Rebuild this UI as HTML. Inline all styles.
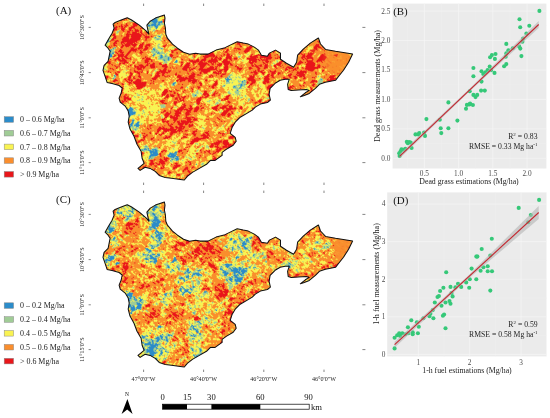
<!DOCTYPE html>
<html><head><meta charset="utf-8"><title>Figure</title>
<style>
html,body{margin:0;padding:0;background:#fff}
svg{display:block}
text{font-family:"Liberation Serif",serif;fill:#111}
.tk{font-size:6.1px;fill:#222}
.ax{font-size:7.3px;fill:#4d4d4d}
.ti{font-size:7.8px;fill:#222}
.lg{font-size:7.95px;fill:#222}
.pn{font-size:10.9px;fill:#111}
.an{font-size:7.7px;fill:#222}
.sb{font-size:8.6px;fill:#111}
</style></head><body>
<svg width="550" height="418" viewBox="0 0 550 418">
<rect width="550" height="418" fill="#fff"/>
<defs><clipPath id="cp"><path d="M113.1,24.1L115.1,22.5L121.2,20.1L127.2,17.7L131.2,19.7L139.3,25.1L146.3,31.1L148.9,34.2L147.7,29.1L146.9,25.1L150.3,21.1L155.4,18.1L161.4,16.0L164.4,15.0L165.0,18.1L164.4,23.1L165.4,28.1L165.8,34.2L167.4,38.2L172.5,44.2L177.5,48.2L183.5,52.3L189.6,54.3L195.6,53.3L200.0,54.1L208.0,54.1L216.1,50.1L224.1,48.1L232.2,44.1L237.2,41.7L243.3,43.1L248.3,44.1L254.3,47.1L258.4,50.1L261.4,55.2L267.4,56.2L269.4,53.1L275.5,50.1L280.5,53.1L280.5,59.2L286.5,63.2L293.6,67.2L296.6,62.2L297.6,55.2L303.3,49.1L310.3,43.1L318.4,38.0L320.5,44.0L325.5,49.4L335.5,51.3L352.6,54.1L348.6,62.2L343.5,70.2L339.5,75.3L335.5,80.3L325.4,82.3L319.4,84.3L315.4,88.4L309.3,93.4L304.3,95.4L300.3,96.8L305.3,92.8L309.3,90.4L306.3,89.4L298.3,90.0L291.2,90.4L288.2,89.4L287.6,84.3L289.2,79.3L285.2,79.3L280.2,80.3L275.1,83.3L270.1,88.4L269.1,94.4L270.4,100.1L267.4,102.5L260.4,104.1L255.3,107.1L252.3,110.1L247.3,113.1L240.2,117.2L235.2,122.2L232.2,127.2L230.2,133.3L235.2,137.3L236.2,141.3L233.2,145.3L226.2,149.4L222.1,152.4L222.1,155.4L215.1,160.4L210.5,160.3L206.5,164.3L199.4,168.4L192.4,172.4L187.3,176.4L184.3,180.0L180.3,179.4L173.3,178.4L165.2,177.4L159.2,175.4L155.2,171.4L150.1,168.4L145.1,167.3L140.1,170.4L138.0,168.4L144.1,163.3L142.1,158.3L141.1,151.2L137.0,144.2L134.0,136.2L130.0,129.1L128.2,122.2L129.2,116.2L128.2,111.1L125.2,106.1L120.2,102.1L119.1,98.1L121.2,93.0L122.2,88.0L119.1,85.5L112.1,83.5L107.1,82.4L105.1,76.4L103.0,70.4L104.1,65.3L108.1,61.3L109.1,56.3L110.1,51.3L108.1,48.2L105.1,45.2L109.1,38.2L112.1,33.2L114.1,28.1Z"/></clipPath></defs>
<defs><filter id="fa" filterUnits="userSpaceOnUse" x="-40" y="-160" width="520" height="520" color-interpolation-filters="sRGB"><feGaussianBlur in="SourceGraphic" stdDeviation="0.3" result="b"/><feTurbulence type="fractalNoise" baseFrequency="0.11 0.3" numOctaves="3" seed="5" result="n"/><feColorMatrix in="n" type="matrix" values="1 0 0 0 0 1 0 0 0 0 1 0 0 0 0 0 0 0 0 1" result="ng"/><feTurbulence type="fractalNoise" baseFrequency="0.35 0.6" numOctaves="2" seed="9" result="m"/><feColorMatrix in="m" type="matrix" values="0 1 0 0 0 0 1 0 0 0 0 1 0 0 0 0 0 0 0 1" result="mg"/><feComposite in="b" in2="ng" operator="arithmetic" k1="0" k2="1" k3="0.34" k4="-0.17" result="s"/><feComposite in="s" in2="mg" operator="arithmetic" k1="0" k2="1" k3="0.45" k4="-0.225" result="s2"/><feComponentTransfer in="s2"><feFuncR type="discrete" tableValues="0.169 0.169 0.169 0.169 0.169 0.169 0.627 0.627 0.627 0.627 0.627 0.627 0.976 0.976 0.976 0.976 0.976 0.976 0.976 0.976 0.980 0.980 0.980 0.980 0.980 0.980 0.980 0.980 0.914 0.914 0.914 0.914 0.914 0.914 0.914 0.914 0.914 0.914 0.914 0.914"/><feFuncG type="discrete" tableValues="0.549 0.549 0.549 0.549 0.549 0.549 0.800 0.800 0.800 0.800 0.800 0.800 0.953 0.953 0.953 0.953 0.953 0.953 0.953 0.953 0.557 0.557 0.557 0.557 0.557 0.557 0.557 0.557 0.086 0.086 0.086 0.086 0.086 0.086 0.086 0.086 0.086 0.086 0.086 0.086"/><feFuncB type="discrete" tableValues="0.792 0.792 0.792 0.792 0.792 0.792 0.588 0.588 0.588 0.588 0.588 0.588 0.322 0.322 0.322 0.322 0.322 0.322 0.322 0.322 0.176 0.176 0.176 0.176 0.176 0.176 0.176 0.176 0.102 0.102 0.102 0.102 0.102 0.102 0.102 0.102 0.102 0.102 0.102 0.102"/></feComponentTransfer><feGaussianBlur stdDeviation="0.5"/></filter><filter id="fc" filterUnits="userSpaceOnUse" x="-40" y="-160" width="520" height="520" color-interpolation-filters="sRGB"><feGaussianBlur in="SourceGraphic" stdDeviation="0.3" result="b"/><feTurbulence type="fractalNoise" baseFrequency="0.12 0.34" numOctaves="3" seed="17" result="n"/><feColorMatrix in="n" type="matrix" values="1 0 0 0 0 1 0 0 0 0 1 0 0 0 0 0 0 0 0 1" result="ng"/><feTurbulence type="fractalNoise" baseFrequency="0.35 0.6" numOctaves="2" seed="2" result="m"/><feColorMatrix in="m" type="matrix" values="0 1 0 0 0 0 1 0 0 0 0 1 0 0 0 0 0 0 0 1" result="mg"/><feComposite in="b" in2="ng" operator="arithmetic" k1="0" k2="1" k3="0.6" k4="-0.3" result="s"/><feComposite in="s" in2="mg" operator="arithmetic" k1="0" k2="1" k3="0.55" k4="-0.275" result="s2"/><feComponentTransfer in="s2"><feFuncR type="discrete" tableValues="0.169 0.169 0.169 0.169 0.169 0.169 0.169 0.627 0.627 0.627 0.627 0.627 0.976 0.976 0.976 0.976 0.976 0.976 0.976 0.980 0.980 0.980 0.980 0.980 0.980 0.980 0.980 0.980 0.980 0.914 0.914 0.914 0.914 0.914 0.914 0.914 0.914 0.914 0.914 0.914"/><feFuncG type="discrete" tableValues="0.549 0.549 0.549 0.549 0.549 0.549 0.549 0.800 0.800 0.800 0.800 0.800 0.953 0.953 0.953 0.953 0.953 0.953 0.953 0.557 0.557 0.557 0.557 0.557 0.557 0.557 0.557 0.557 0.557 0.086 0.086 0.086 0.086 0.086 0.086 0.086 0.086 0.086 0.086 0.086"/><feFuncB type="discrete" tableValues="0.792 0.792 0.792 0.792 0.792 0.792 0.792 0.588 0.588 0.588 0.588 0.588 0.322 0.322 0.322 0.322 0.322 0.322 0.322 0.176 0.176 0.176 0.176 0.176 0.176 0.176 0.176 0.176 0.176 0.102 0.102 0.102 0.102 0.102 0.102 0.102 0.102 0.102 0.102 0.102"/></feComponentTransfer><feGaussianBlur stdDeviation="0.5"/></filter><filter id="bl"><feGaussianBlur stdDeviation="1.2"/></filter></defs>
<g transform="translate(0,0)"><g clip-path="url(#cp)"><g transform="rotate(40 225 100)" filter="url(#fa)"><g transform="rotate(-40 225 100)"><rect x="60" y="-20" width="340" height="240" fill="#939393"/><path fill="#030303" stroke="#030303" stroke-width=".4" d="M149.0,20.8L149.0,19.5L153.1,19.4L153.4,22.0L150.1,22.4ZM153.4,22.0L153.5,22.1L156.2,20.4L156.7,8.7L153.1,19.4ZM170.0,157.7L172.2,155.3L173.3,152.9L170.0,152.0L166.3,156.3L168.8,158.0ZM-52.1,82.4L-39.5,56.2L83.1,37.6L97.4,36.0L107.2,40.1L103.0,43.4ZM134.3,108.5L134.2,108.8L132.8,110.9L118.9,118.6L126.3,109.5L127.0,109.0L131.8,106.2ZM179.0,155.8L179.5,159.9L178.9,160.2L176.8,161.3L175.9,161.2L175.5,160.5L176.3,156.5L176.6,156.2ZM110.9,53.9L104.9,61.7L105.1,61.7L110.5,58.5L112.6,56.9L112.8,56.0ZM176.6,156.2L176.3,156.5L175.0,157.3L170.2,158.3L170.0,157.7L172.2,155.3L176.9,154.8L177.0,154.8ZM106.4,34.7L108.7,39.3L107.2,40.1L97.4,36.0ZM149.0,19.5L146.7,11.9L146.7,11.7L156.8,-5.9L160.1,-11.0L156.7,8.7L153.1,19.4ZM136.4,111.4L135.4,114.9L134.0,115.3L132.3,115.4L133.3,111.4L136.1,111.3ZM132.8,110.9L133.3,111.4L132.3,115.4L126.1,119.5L113.3,123.8L118.9,118.6ZM105.0,43.6L108.9,40.0L108.8,39.3L108.7,39.3L107.2,40.1L103.0,43.4ZM156.5,25.7L158.3,24.0L160.4,24.0L158.4,26.6L155.5,26.7ZM172.2,155.3L173.3,152.9L175.8,150.9L178.3,150.6L176.9,154.8ZM158.8,155.5L158.4,155.8L156.2,156.6L149.1,156.8L150.2,154.4L157.2,151.3L159.0,153.8ZM110.8,53.3L110.9,53.9L104.9,61.7L93.9,62.1ZM238.2,89.5L241.2,84.0L243.0,83.8L242.8,86.4L239.6,89.4Z"/><path fill="#0a0a0a" stroke="#0a0a0a" stroke-width=".4" d="M105.7,44.2L109.8,41.3L109.8,41.3L108.9,40.0L105.0,43.6ZM139.4,123.7L135.2,125.8L135.7,128.1L139.6,126.0L139.6,126.0ZM157.3,21.7L157.9,20.4L157.6,20.0L156.2,20.4L153.5,22.1L151.4,25.7L154.6,26.6ZM140.4,122.1L139.4,120.9L138.2,120.9L137.6,121.4L133.0,125.5L132.8,125.7L135.2,125.8L139.4,123.7Z"/><path fill="#101010" stroke="#101010" stroke-width=".4" d="M134.7,120.2L133.0,125.5L132.8,125.7L127.4,129.3L131.6,120.8L131.7,120.6L134.8,118.8ZM230.7,79.6L228.5,78.6L226.3,79.4L226.1,79.8L228.3,81.6L228.4,81.6ZM110.8,53.3L110.8,53.3L93.9,62.1L91.0,62.6L97.5,57.0L106.4,51.9L111.0,52.7ZM178.2,62.7L172.5,63.7L176.6,58.7L179.0,61.8Z"/><path fill="#161616" stroke="#161616" stroke-width=".4" d="M158.3,24.0L160.4,24.0L163.0,22.3L162.7,20.4L159.0,20.9ZM157.3,21.7L156.5,25.7L155.5,26.7L154.9,27.0L154.6,26.6ZM110.8,53.3L114.8,51.1L115.1,52.4L112.8,56.0L110.9,53.9L110.8,53.3ZM111.0,52.7L112.6,48.1L106.4,51.9ZM230.3,77.0L228.5,78.6L226.3,79.4L226.5,77.9L230.2,73.3L231.2,74.4Z"/><path fill="#1d1d1d" stroke="#1d1d1d" stroke-width=".4" d="M170.2,158.3L175.0,157.3L171.9,160.7L169.7,161.8ZM175.0,157.3L171.9,160.7L175.5,160.5L176.3,156.5ZM150.2,154.4L148.8,150.8L149.5,149.7L152.4,148.1L156.3,146.8L159.0,148.5L157.2,151.3Z"/><path fill="#232323" stroke="#232323" stroke-width=".4" d="M148.5,160.0L147.3,159.6L149.1,156.8L156.2,156.6L152.3,159.6ZM242.7,97.8L242.9,98.0L240.6,99.7L238.5,100.1L238.8,99.6ZM138.6,149.3L138.1,149.8L145.2,152.8L148.8,150.8L149.5,149.7L149.6,149.0L148.9,147.6L138.7,149.2ZM166.5,59.3L167.6,57.9L167.8,62.2L166.9,64.1L164.6,63.7Z"/><path fill="#292929" stroke="#292929" stroke-width=".4" d="M154.9,27.0L152.3,31.2L153.2,32.2L155.7,30.9L158.4,27.3L158.4,26.6L155.5,26.7Z"/><path fill="#303030" stroke="#303030" stroke-width=".4" d="M150.6,58.4L155.9,55.6L156.0,55.5L155.9,55.1L153.1,53.8L152.7,54.1ZM115.5,78.7L117.0,76.9L116.9,76.5L114.8,73.2L111.9,79.0L112.0,80.2L113.3,80.2ZM246.2,85.1L245.9,85.7L242.8,86.4L243.0,83.8L246.5,80.5L247.0,81.3ZM289.6,72.6L289.3,72.6L286.9,73.9L284.4,76.6L285.5,76.3L289.2,73.7ZM234.2,91.8L235.6,94.8L236.9,94.6L239.8,91.9L240.1,90.8L239.6,89.4L238.2,89.5L235.7,90.2ZM162.2,59.7L162.7,55.2L158.4,58.0L156.5,60.7L158.0,60.9ZM147.9,27.9L150.1,26.8L150.1,31.6L148.3,32.7L145.5,30.9L145.7,30.5ZM176.0,81.4L174.8,81.0L171.9,83.2L170.3,86.6L175.3,85.8L175.8,85.3L176.0,85.1L176.8,81.7ZM160.0,51.0L162.8,50.4L163.3,51.7L159.3,54.0L158.7,53.6ZM150.3,53.6L150.6,52.6L155.6,49.3L155.3,51.8L153.1,53.8L152.7,54.1ZM228.3,81.6L226.1,79.8L225.6,80.2L224.5,83.7Z"/><path fill="#363636" stroke="#363636" stroke-width=".4" d="M158.2,57.7L158.4,58.0L162.7,55.2L164.8,53.3L163.3,51.7L159.3,54.0ZM172.9,58.1L169.3,56.0L167.6,57.9L167.6,57.9L167.8,62.2ZM255.6,104.6L254.6,105.9L256.0,105.8L258.2,103.9L257.3,103.4ZM161.6,61.4L162.5,60.0L167.6,57.9L167.6,57.9L166.5,59.3L163.0,62.6ZM157.6,20.0L156.2,20.4L156.7,8.7L160.1,-11.0L174.0,-35.0L175.3,-37.2L183.1,-50.0L159.9,17.5ZM159.6,50.9L157.8,51.5L155.9,55.1L156.0,55.5L158.7,53.6L160.0,51.0ZM152.5,48.1L150.8,51.0L150.6,52.6L155.6,49.3L157.0,46.4L156.4,45.6L153.2,47.4ZM239.6,83.6L241.2,84.0L243.0,83.8L246.5,80.5L246.9,79.6L242.3,80.1L240.4,82.2ZM147.9,27.9L150.1,26.8L151.4,25.7L153.5,22.1L153.4,22.0L150.1,22.4L146.6,25.4L146.8,27.1ZM235.7,90.2L235.8,89.5L238.7,84.3L239.6,83.6L241.2,84.0L238.2,89.5Z"/><path fill="#3d3d3d" stroke="#3d3d3d" stroke-width=".4" d="M238.7,84.3L235.8,89.5L233.0,87.2L235.4,84.7ZM192.0,94.2L192.8,93.2L193.7,92.4L198.1,89.7L199.1,93.2L196.9,97.0L194.4,97.8L193.2,97.9ZM200.6,163.4L206.2,161.2L205.8,163.1L201.2,166.5L199.9,164.1ZM159.6,50.9L161.3,47.3L160.5,46.4L160.1,46.3L160.0,46.4L157.0,51.3L157.8,51.5ZM138.7,149.2L148.9,147.6L148.0,142.9L140.3,147.5ZM139.6,126.0L135.7,128.1L134.3,130.2L135.4,131.8L137.0,131.2L139.3,128.8ZM161.7,64.9L162.0,65.0L164.6,63.7L166.5,59.3L163.0,62.6ZM165.5,23.1L163.0,22.3L160.4,24.0L158.4,26.6L158.4,27.3L159.4,27.2ZM242.7,97.8L238.8,99.6L239.8,97.1L240.7,95.8L240.9,95.6L241.8,96.2Z"/><path fill="#434343" stroke="#434343" stroke-width=".4" d="M132.1,97.0L135.4,94.3L134.9,97.3L133.4,98.1ZM201.0,145.8L197.4,148.7L195.4,152.5L196.2,152.7L197.5,152.1L201.0,149.1L205.1,145.2L206.1,143.5L206.2,142.4ZM242.7,97.8L242.9,98.0L244.0,98.1L245.9,97.5L246.9,94.5L241.8,96.2ZM193.8,57.4L194.1,57.7L192.0,59.5L190.3,58.3L192.4,56.9ZM118.8,33.5L121.0,29.3L120.7,28.7L116.3,31.0L115.9,35.6L115.9,35.6ZM141.4,121.5L143.7,123.7L139.6,126.0L139.4,123.7L140.4,122.1ZM162.5,60.0L167.6,57.9L169.3,56.0L170.9,51.7L168.1,51.9L164.8,53.3L162.7,55.2L162.2,59.7ZM321.2,76.9L317.3,80.7L317.2,81.0L316.6,84.7L323.0,84.4L323.4,83.5L323.2,79.4L321.4,76.9ZM135.7,128.1L134.3,130.2L123.8,132.7L127.4,129.3L132.8,125.7L135.2,125.8ZM135.4,21.5L146.7,11.7L156.8,-5.9L128.3,21.8L131.9,22.3L134.0,22.2L134.4,22.1ZM231.9,80.4L232.8,78.8L232.0,78.9L230.7,79.6L228.4,81.6L227.9,83.7L229.2,83.4ZM230.3,77.0L228.5,78.6L230.7,79.6L232.0,78.9L232.0,78.4ZM159.9,108.6L159.4,108.5L158.9,106.3L159.7,104.5L160.2,104.3L165.2,103.9L165.9,107.6L165.2,108.0ZM108.9,40.0L108.8,39.3L112.1,36.3L114.1,36.2L109.8,41.3ZM155.3,51.8L157.0,51.3L160.0,46.4L157.0,46.4L155.6,49.3ZM228.4,81.6L228.3,81.6L224.5,83.7L222.1,86.6L222.0,87.5L224.3,87.8L227.9,83.7ZM145.3,25.1L141.5,26.0L144.1,17.7L146.7,11.9L149.0,19.5L149.0,20.8ZM231.9,80.4L230.7,83.6L229.2,83.4ZM159.8,33.4L154.3,36.7L153.4,41.4L159.4,40.2L160.7,39.0L163.8,35.8L161.8,33.5ZM157.8,51.5L157.0,51.3L155.3,51.8L153.1,53.8L155.9,55.1ZM110.8,53.3L114.8,51.1L117.0,46.9L116.6,46.8L114.8,47.1L113.4,47.5L112.7,48.0L112.6,48.1L111.0,52.7ZM154.6,26.6L151.4,25.7L150.1,26.8L150.1,31.6L152.3,31.2L154.9,27.0ZM157.3,21.7L157.9,20.4L159.0,20.9L158.3,24.0L156.5,25.7Z"/><path fill="#494949" stroke="#494949" stroke-width=".4" d="M213.1,107.1L219.4,104.0L220.3,103.0L221.2,101.0L221.4,99.7L219.3,98.2L216.2,101.3ZM157.4,111.9L159.4,108.5L159.9,108.6L160.7,112.6L159.9,113.6L158.8,114.5L158.1,114.7ZM241.1,76.0L237.9,79.6L237.8,80.8L240.4,82.2L242.3,80.1L242.4,79.7ZM280.9,85.9L282.3,84.9L283.6,84.3L291.7,81.3L286.0,88.4L278.4,93.2L279.1,89.1L280.3,86.9ZM145.4,112.7L145.4,112.3L142.2,110.0L140.6,111.0L137.2,115.7L137.2,116.2L138.8,116.3L144.8,114.1ZM159.6,50.9L161.3,47.3L163.1,46.9L164.5,47.8L162.8,50.4L160.0,51.0ZM230.3,77.0L231.2,74.4L233.1,74.6L232.0,78.4ZM230.5,94.5L227.4,95.4L226.9,92.5L229.2,89.0L230.2,88.8L231.4,93.6ZM142.8,101.3L142.6,101.5L137.2,100.6L137.8,99.8L143.7,97.5L143.7,97.6ZM248.4,103.2L248.5,103.2L250.6,99.2L250.6,97.5L249.8,97.3L247.1,98.4L245.1,101.2ZM160.1,46.3L162.5,43.2L160.7,39.0L159.4,40.2L156.4,45.6L157.0,46.4L160.0,46.4ZM231.2,74.4L230.2,73.3L230.3,73.0L233.3,71.4L235.4,73.3L235.1,73.7L233.1,74.6ZM227.7,129.1L223.7,133.3L226.5,133.3L227.4,131.4ZM271.7,119.8L269.8,123.3L269.1,125.2L270.1,135.9L271.3,142.2L301.5,237.5L304.8,208.5L305.4,95.6L288.6,102.8ZM240.5,102.0L238.4,104.0L236.7,106.6L239.2,105.9L242.4,102.3Z"/><path fill="#505050" stroke="#505050" stroke-width=".4" d="M239.6,89.4L242.8,86.4L245.9,85.7L246.6,86.9L244.4,88.8L240.1,90.8ZM260.4,103.2L260.6,103.5L273.4,97.0L267.2,96.8L262.6,99.3ZM246.2,85.1L245.9,85.7L246.6,86.9L248.2,87.1L251.5,80.9L250.5,81.3ZM158.7,53.6L159.3,54.0L158.2,57.7L156.1,56.4L155.9,55.6L156.0,55.5ZM184.1,89.2L186.5,86.0L187.0,85.6L187.8,85.2L188.7,88.6L186.6,89.8ZM105.7,44.2L109.8,41.3L109.9,41.4L109.6,44.6L108.4,45.9L105.2,48.2ZM135.4,94.3L134.9,97.3L135.5,97.4L138.9,96.9L139.3,96.3L137.0,92.4ZM136.1,111.3L133.3,111.4L132.8,110.9L134.2,108.8L137.9,107.7ZM237.7,57.1L237.6,59.5L238.1,59.7L238.9,59.3L243.3,54.9L243.3,54.7L242.5,53.3L239.2,55.0ZM141.5,133.5L139.6,134.6L138.8,135.5L138.2,139.5L138.6,140.2L141.2,139.3L141.7,138.7ZM152.6,110.6L153.5,110.9L148.3,115.4L146.3,116.0L145.5,114.7ZM145.4,112.3L142.2,110.0L143.7,108.1L145.4,107.8L146.3,110.4ZM231.9,80.4L232.8,78.8L233.4,78.6L234.6,81.1L233.2,82.9L233.1,82.9L231.1,84.0L230.7,83.6ZM148.5,99.5L144.2,103.6L142.2,104.4L142.0,103.9L142.7,101.9L144.9,100.5ZM196.1,161.2L194.9,165.5L197.2,164.7L198.7,161.1L197.6,160.8Z"/><path fill="#565656" stroke="#565656" stroke-width=".4" d="M209.4,146.9L209.5,145.8L206.1,143.5L205.1,145.2L203.8,151.0L203.8,151.5L206.0,149.8ZM145.3,25.1L149.0,20.8L150.1,22.4L146.6,25.4ZM263.9,79.6L259.9,80.7L261.5,83.4L262.1,83.0L263.9,80.8ZM241.2,75.9L241.0,75.5L233.7,78.3L233.4,78.6L234.6,81.1L237.9,79.6L241.1,76.0ZM208.9,92.0L208.2,92.6L209.4,95.8L212.1,94.7L212.3,94.4L210.3,91.9ZM271.0,65.8L273.2,61.0L277.2,59.0L281.7,60.4L273.1,66.1ZM195.1,107.4L192.3,107.7L191.9,107.6L192.3,105.3L196.1,101.3L197.5,105.2L196.6,106.5ZM129.6,75.0L127.9,72.0L127.3,72.3L123.1,79.5L128.7,76.5ZM129.9,137.7L138.2,133.0L137.0,131.2L135.4,131.8ZM157.1,67.3L157.6,71.0L156.1,72.4L151.5,73.7L151.3,73.6ZM129.9,90.4L126.6,93.4L129.7,95.1L132.9,92.1L130.4,90.2ZM246.7,57.5L244.8,57.3L245.4,55.5L249.1,52.3L249.9,52.7ZM226.2,48.2L223.1,52.2L221.7,54.5L222.1,54.5L228.0,47.8L226.4,48.0ZM237.7,57.1L235.8,56.8L235.5,54.4L235.6,54.0L238.3,51.4L239.0,52.5L239.3,53.2L239.2,55.0ZM229.2,83.4L227.9,83.7L224.3,87.8L224.3,87.9L224.4,88.0L226.3,88.6L227.8,88.3L231.1,84.0L230.7,83.6ZM158.7,135.4L159.3,134.2L158.1,133.3L155.7,135.0L155.7,135.2L156.4,137.2ZM171.5,111.2L175.6,108.1L175.2,107.0L172.7,107.5ZM147.9,95.9L147.6,94.6L147.3,94.5L145.7,95.0L143.7,97.5L143.7,97.6L145.9,98.1L146.9,97.4ZM136.4,111.4L137.9,110.4L140.1,106.5L137.9,107.7L136.1,111.3ZM221.5,78.5L226.5,77.9L226.3,79.4L226.1,79.8L225.6,80.2L222.0,82.2ZM213.1,89.8L215.0,90.2L215.0,91.2L212.3,94.4L210.3,91.9ZM106.1,68.4L104.6,65.9L105.5,63.2L109.2,64.0L107.0,68.0ZM183.8,176.2L182.1,178.4L179.6,179.1L179.5,178.6L180.9,175.7L183.9,175.9ZM232.0,78.4L232.0,78.9L232.8,78.8L233.4,78.6L233.7,78.3L235.4,75.8L235.1,73.7L233.1,74.6ZM146.9,98.6L144.9,100.5L142.7,101.9L142.6,101.5L142.8,101.3L145.9,98.1L146.9,97.4ZM194.7,57.5L194.5,59.1L195.4,60.6L198.8,57.7L199.3,56.8L197.9,55.8L197.1,55.7Z"/><path fill="#5c5c5c" stroke="#5c5c5c" stroke-width=".4" d="M239.6,83.6L240.4,82.2L237.8,80.8L235.4,84.5L235.4,84.7L238.7,84.3ZM152.2,92.2L152.8,91.2L152.7,90.4L152.6,90.3L149.4,90.8L147.3,94.5L147.6,94.6ZM204.4,91.5L201.0,92.0L199.1,93.2L196.9,97.0L198.1,98.4L198.4,98.4L202.9,94.8ZM224.3,126.8L227.8,122.5L225.5,121.7L221.7,126.0L223.1,127.8ZM222.1,86.6L220.2,84.8L222.0,82.2L225.6,80.2L224.5,83.7ZM160.8,151.7L163.3,148.6L163.8,147.0L161.1,146.8L159.0,148.5L157.2,151.3L159.0,153.8ZM151.5,73.7L156.1,72.4L154.3,76.4L151.2,78.3ZM242.6,107.7L242.1,109.1L242.6,109.7L248.2,106.1L249.0,104.4L248.8,104.1L243.8,106.5ZM192.9,143.7L196.9,142.0L194.7,146.9L189.0,152.7L187.0,153.2L190.9,145.6ZM234.2,91.8L231.4,93.6L230.5,94.5L230.5,94.6L231.5,97.2L232.7,97.6L235.6,94.8ZM151.8,167.8L151.3,174.5L151.1,175.0L141.9,184.6L114.1,212.6L137.2,179.5L145.0,170.6L148.5,167.4ZM258.4,86.9L258.2,86.4L255.7,87.7L252.9,92.1L255.5,91.3L258.1,88.3ZM161.6,61.4L162.5,60.0L162.2,59.7L158.0,60.9L159.7,62.8L161.0,61.9ZM183.7,134.5L180.9,139.2L178.9,139.7L177.5,138.6L182.6,133.6ZM197.9,55.8L199.3,56.8L199.6,56.6L208.8,45.8L202.9,51.1ZM160.4,118.7L161.1,120.5L164.5,118.0L164.8,115.0L164.6,114.8L164.1,114.7L161.5,116.5ZM223.1,127.8L223.0,129.2L222.4,130.2L212.4,136.7L211.9,136.7L220.1,126.4L221.5,126.0L221.7,126.0ZM257.4,92.3L257.9,91.8L260.1,91.1L260.3,92.6L260.3,92.6L258.5,94.3L256.0,94.9ZM172.7,172.2L176.0,173.1L175.8,174.5L169.6,179.2L170.6,174.5ZM217.2,126.1L212.2,131.9L212.4,127.9L216.6,125.5L217.0,125.5ZM206.6,101.6L212.8,97.5L213.9,97.7L213.1,99.1L209.0,104.8ZM150.0,88.9L146.8,89.9L145.3,91.4L145.1,92.0L149.4,90.8ZM194.2,160.1L196.1,156.9L196.2,152.7L195.4,152.5L193.6,153.3L188.5,160.8L190.4,160.9ZM178.9,139.7L176.3,143.5L175.4,144.3L173.7,143.5L176.8,138.7L177.5,138.6ZM245.8,115.3L242.4,114.1L248.6,107.7L251.4,108.2L251.2,109.0ZM235.4,84.5L233.2,82.9L233.1,82.9L231.6,87.8L233.0,87.2L235.4,84.7Z"/><path fill="#636363" stroke="#636363" stroke-width=".4" d="M314.5,79.2L317.3,80.7L321.2,76.9L321.3,74.5L320.8,73.8L318.8,74.4ZM150.2,58.9L152.7,59.6L156.1,56.4L155.9,55.6L150.6,58.4ZM255.4,79.3L261.5,74.0L262.0,74.8L261.8,75.3L260.0,77.7ZM233.1,82.9L231.1,84.0L227.8,88.3L229.2,89.0L230.2,88.8L231.6,87.8ZM151.6,108.2L153.1,105.8L152.3,105.0L149.5,106.2L146.3,110.4L145.4,112.3L145.4,112.7ZM269.7,52.4L274.2,36.3L265.3,47.4L263.6,50.3L266.2,55.1ZM247.3,67.2L244.1,68.1L243.6,70.6L247.7,68.7ZM245.0,104.4L243.8,106.5L248.8,104.1L248.5,103.2L248.4,103.2ZM198.5,144.9L197.2,148.2L194.7,146.9L196.9,142.0L198.4,140.8ZM143.7,108.1L145.4,107.8L148.4,105.8L148.3,104.7L147.1,104.0L143.7,108.0ZM108.8,39.3L108.7,39.3L106.4,34.7L109.5,33.7L112.0,35.9L112.1,36.3ZM207.1,79.0L207.7,78.1L211.3,77.2L212.4,77.7L209.3,81.0L207.6,80.6ZM165.9,23.9L160.4,29.2L159.4,27.2L165.5,23.1L166.5,23.0ZM136.4,111.4L135.4,114.9L137.2,115.7L140.6,111.0L140.1,110.5L137.9,110.4ZM103.2,72.7L107.4,69.8L108.2,68.5L107.0,68.0L106.1,68.4L103.7,70.2ZM197.4,53.9L202.9,51.1L197.9,55.8L197.1,55.7ZM240.7,95.8L236.9,96.5L236.9,94.6L239.8,91.9L242.0,93.3L242.2,93.8L240.9,95.6ZM145.7,30.5L145.5,30.9L142.1,33.4L141.6,29.6L143.5,28.8ZM279.3,53.4L278.6,53.9L278.4,56.8L284.4,52.8ZM151.9,119.3L154.5,118.4L154.1,120.0L152.4,121.1L152.0,121.0ZM189.7,130.9L190.5,132.2L188.8,133.9L186.5,133.0L186.6,132.9L188.8,131.2ZM169.5,162.1L169.2,163.5L171.4,164.2L175.9,161.2L175.5,160.5L171.9,160.7L169.7,161.8ZM253.5,104.0L251.6,107.9L251.4,108.2L248.6,107.7L248.2,106.1L249.0,104.4L251.6,103.0ZM185.8,95.2L181.8,97.2L182.1,95.4L182.9,94.0L184.3,93.2L185.9,94.2ZM234.0,141.2L229.6,144.9L229.6,145.0L229.6,144.3L231.5,139.5L233.8,140.2ZM149.0,70.7L149.6,69.1L153.3,68.3L150.8,73.6L147.9,74.8ZM193.7,135.8L193.2,139.0L196.4,137.5ZM249.0,61.8L249.2,61.2L249.4,59.8L246.8,59.2L243.3,61.8L242.6,63.8L244.7,65.0L247.5,63.3ZM204.4,102.7L205.1,102.1L206.6,101.6L209.0,104.8L208.4,106.5L207.2,106.6L204.3,103.3ZM151.8,109.9L145.4,114.6L145.5,114.7L152.6,110.6ZM158.1,92.0L158.9,94.6L159.0,94.7L162.6,92.6L164.9,89.5L163.8,88.4ZM133.7,59.5L131.4,64.2L128.1,65.7L132.6,59.5ZM200.7,127.4L202.7,128.3L206.7,125.7L206.8,125.4L202.9,125.5L201.6,126.2ZM169.7,110.5L167.8,108.2L169.4,107.7L171.0,108.0ZM170.0,152.0L170.6,149.3L173.5,147.5L176.2,147.6L175.8,150.9L173.3,152.9ZM186.9,143.2L186.6,144.2L190.7,143.0L190.6,141.4L186.9,143.1ZM120.2,62.1L119.8,62.5L115.8,65.2L116.0,64.8L119.2,60.6ZM260.0,77.7L261.1,78.6L261.5,78.3L261.8,75.3ZM152.0,121.0L152.4,121.1L149.8,124.4L148.2,125.1L149.1,121.7L151.1,121.0ZM151.4,87.0L150.0,88.9L146.8,89.9L147.4,87.0L151.4,87.0ZM180.5,165.7L175.5,168.4L176.4,172.6L178.8,169.6ZM134.7,120.2L133.0,125.5L137.6,121.4ZM109.5,83.3L106.3,82.9L100.7,84.4L33.5,135.3L-78.8,225.2L-49.6,227.5L89.8,113.6L104.0,97.8ZM246.7,57.5L244.8,57.3L242.5,59.1L242.5,61.4L243.3,61.8L246.8,59.2L246.9,57.8ZM175.4,79.6L174.8,81.0L176.0,81.4L178.9,78.2L176.5,78.1ZM151.3,99.2L147.1,103.7L147.1,104.0L148.3,104.7L153.8,99.3L153.2,98.8ZM136.9,60.7L131.9,65.2L131.8,68.2L137.7,61.9ZM172.4,140.4L176.0,138.5L176.8,138.7L173.7,143.5L169.7,145.1L170.9,141.4ZM246.7,57.5L249.9,52.7L251.8,52.5L251.8,54.3L246.9,57.8ZM263.6,50.3L265.3,47.4L258.5,50.3L255.3,52.8L253.1,55.5L254.7,55.4L259.4,54.5L260.0,54.1L260.6,53.6ZM240.6,99.7L238.5,100.1L237.6,101.1L240.3,101.4ZM234.2,91.8L231.4,93.6L230.2,88.8L231.6,87.8L233.0,87.2L235.8,89.5L235.7,90.2ZM168.1,51.9L168.3,47.3L171.6,45.1L176.7,47.1L176.0,47.9L170.9,51.7ZM208.7,107.0L208.6,107.5L212.5,107.6L213.1,107.1L216.2,101.3L212.8,103.5ZM164.4,173.1L140.0,212.6L131.3,223.5L92.2,270.5L160.8,174.9ZM163.3,139.6L166.4,140.8L168.7,140.2L169.2,138.4L169.2,138.3L168.0,137.9ZM160.1,100.8L159.8,98.7L161.5,96.7L165.8,94.7L165.8,94.7L165.4,97.1ZM200.7,127.4L197.5,129.8L197.5,129.9L201.0,130.1L202.7,128.3ZM215.9,112.5L215.9,112.6L220.9,114.0L223.1,111.3L222.9,109.8L221.2,108.7L216.8,111.2L216.0,112.4ZM151.8,109.9L151.6,108.2L145.4,112.7L144.8,114.1L144.9,114.3L145.4,114.6ZM220.3,103.0L223.4,104.8L227.4,101.3L226.9,100.1L221.2,101.0ZM301.8,66.9L305.2,68.3L305.7,66.6L304.3,63.9L301.9,66.1ZM173.4,58.2L167.5,66.5L166.9,64.1L167.8,62.2L172.9,58.1L173.2,58.2ZM254.9,98.8L255.8,100.7L256.7,100.8L257.8,97.3L255.6,98.1ZM137.2,116.2L134.8,118.8L131.7,120.6L130.3,119.9L134.0,115.3L135.4,114.9L137.2,115.7ZM151.8,109.9L151.6,108.2L153.1,105.8L159.3,104.0L159.7,104.5L158.9,106.3L153.8,110.8L153.5,110.9L152.6,110.6ZM292.7,78.8L289.3,78.0L282.3,84.9L283.6,84.3Z"/><path fill="#696969" stroke="#696969" stroke-width=".4" d="M161.5,116.5L164.1,114.7L164.1,113.3L159.9,113.6L158.8,114.5L158.9,116.1ZM224.0,49.7L223.5,50.5L220.4,53.1L219.4,52.3L219.4,52.1L220.6,51.0ZM148.5,43.2L149.1,41.2L153.1,36.7L154.3,36.7L153.4,41.4L150.6,43.7ZM260.8,98.3L263.4,93.7L262.1,94.0L259.0,95.9L258.0,97.2ZM219.7,67.6L220.0,67.0L223.2,63.9L224.7,65.1L224.0,68.1L223.7,68.4L222.5,69.1L220.0,70.0ZM138.9,96.9L137.8,99.8L143.7,97.5L145.7,95.0L143.6,93.8L141.2,94.8L139.3,96.3ZM207.9,77.2L211.5,74.1L213.3,71.4L212.8,70.3L211.4,70.1L206.5,73.8L206.3,75.8ZM176.6,107.9L180.8,101.8L181.6,101.4L183.5,101.0L184.1,101.2L180.8,106.3L177.8,108.9ZM230.6,126.0L229.0,124.0L229.8,121.7L231.5,120.0L232.0,124.8L230.9,125.9ZM103.7,70.2L100.0,70.9L104.6,65.9L106.1,68.4ZM105.4,80.0L100.7,84.4L106.3,82.9L111.8,80.3L112.0,80.2L111.9,79.0ZM134.4,48.1L138.6,47.2L140.6,43.7L138.7,43.0ZM202.7,80.3L200.8,81.6L200.2,81.6L200.4,81.0L204.4,74.1L206.5,73.8L206.3,75.8ZM132.1,100.3L132.1,100.3L132.7,100.7L135.5,97.4L134.9,97.3L133.4,98.1ZM240.1,90.8L244.4,88.8L242.0,93.3L239.8,91.9ZM132.1,97.0L135.4,94.3L137.0,92.4L138.2,89.2L137.9,89.0L132.9,92.1L129.7,95.1L128.4,97.6L131.9,97.1ZM170.7,96.2L172.5,97.4L172.0,101.3L170.1,101.3L168.4,98.4L168.4,97.7L169.2,97.0ZM147.6,49.3L148.0,49.6L147.1,52.2L146.2,52.9L145.9,50.2ZM217.0,155.1L216.9,155.5L224.2,154.1L225.1,148.1L224.1,148.0L217.6,153.4ZM167.2,165.7L164.3,166.0L164.0,168.8L166.9,166.4ZM180.4,61.2L179.0,61.8L176.6,58.7L176.8,57.6L177.2,57.3L179.7,57.1L181.9,59.7L181.0,60.8ZM118.3,21.4L124.8,6.8L166.7,-130.8L21.6,-86.8L-26.4,26.8L-7.9,26.4ZM197.2,164.7L194.9,165.5L193.5,166.8L195.6,167.7L196.9,167.6L198.3,165.2ZM274.2,36.3L265.3,47.4L258.5,50.3L254.7,50.6L254.1,50.5L263.3,33.8L327.7,-43.4L328.8,-44.6L294.6,7.8ZM245.0,104.4L243.8,106.5L242.6,107.7L241.4,105.8L244.2,102.9ZM141.4,121.5L145.1,118.8L146.3,116.0L145.5,114.7L145.4,114.6L144.9,114.3L139.4,120.9L140.4,122.1ZM242.1,109.1L242.6,109.7L241.5,114.2L237.5,116.8L237.1,116.8L236.8,112.9L238.1,111.0L241.7,109.2ZM240.9,73.3L241.0,75.5L233.7,78.3L235.4,75.8L240.0,73.0ZM260.3,92.6L260.3,92.6L262.4,91.2L264.6,92.0L263.6,93.5L263.4,93.7L262.1,94.0ZM268.2,74.2L265.1,76.6L263.4,74.9L266.0,72.7L268.2,72.5ZM235.4,84.5L233.2,82.9L234.6,81.1L237.9,79.6L237.8,80.8ZM233.4,113.2L234.0,112.3L238.0,110.8L238.1,111.0L236.8,112.9ZM209.5,116.5L212.3,117.7L206.7,117.9L206.8,117.8ZM216.8,148.4L216.6,147.2L214.1,146.9L212.2,148.0L211.9,151.0L212.5,151.4L216.7,148.7ZM152.3,93.9L152.2,92.2L147.6,94.6L147.9,95.9L149.2,96.0ZM254.9,92.8L253.2,96.2L255.4,95.5L256.0,94.9L257.4,92.3L255.5,92.3ZM175.3,-37.2L174.0,-35.0L127.3,19.9L126.1,19.4ZM108.7,75.9L103.0,75.1L106.3,72.6L112.0,72.7ZM258.4,103.9L260.4,103.2L260.6,103.5L260.9,111.4L256.0,108.2ZM167.4,134.2L168.9,132.4L168.6,131.6L167.1,131.3L162.6,135.0L162.6,135.8L165.1,136.1ZM132.1,97.0L133.4,98.1L132.1,100.3L131.3,99.2L131.9,97.1ZM146.3,110.4L145.4,107.8L148.4,105.8L149.5,106.2ZM149.5,98.8L149.2,99.0L148.5,99.5L144.2,103.6L147.1,103.7L151.3,99.2L150.2,98.8ZM252.0,92.9L251.3,92.5L251.2,88.9L252.6,88.1L255.7,87.7L252.9,92.1ZM245.1,101.2L247.1,98.4L245.9,97.5L244.0,98.1L240.6,101.7L240.5,102.0L242.4,102.3L245.1,101.2ZM145.9,98.1L143.7,97.6L142.8,101.3ZM181.2,175.0L177.6,177.0L177.8,178.5L179.5,178.6L180.9,175.7ZM146.5,121.1L145.1,118.8L141.4,121.5L143.7,123.7L144.6,123.4ZM175.4,79.6L172.4,79.7L175.1,75.7L177.0,76.4L176.5,78.1ZM192.0,54.5L192.4,56.9L190.3,58.3L189.0,58.4L188.1,58.2L188.8,56.1L191.2,54.1ZM152.8,115.0L153.6,116.0L155.9,116.1L158.1,114.7L157.4,111.9L153.8,113.6ZM166.3,102.9L168.4,98.4L170.1,101.3ZM80.3,147.4L113.3,123.8L118.9,118.6L126.3,109.5L125.8,102.6L125.7,102.5ZM151.9,119.3L154.5,118.4L154.7,117.9L151.6,118.5L150.9,119.2L151.7,119.4ZM204.4,102.7L203.9,102.9L200.1,102.8L200.8,99.2L204.8,97.7L205.8,98.1L205.1,102.1ZM212.5,155.6L212.1,156.6L211.7,156.9L211.1,156.6L211.4,154.9L211.5,154.8ZM176.6,107.9L175.6,108.1L175.2,107.0L176.7,103.2L180.8,101.8ZM181.9,68.6L187.0,63.0L185.8,61.2L184.5,61.8L183.0,63.6L181.3,68.8ZM161.9,145.0L161.1,146.8L163.8,147.0L164.2,146.7L167.9,141.5ZM220.6,51.0L219.4,52.1L214.7,50.5L214.9,43.7L217.4,37.1L224.9,22.0L224.3,46.2Z"/><path fill="#707070" stroke="#707070" stroke-width=".4" d="M300.5,79.2L295.5,81.0L298.3,76.4L300.9,78.3ZM126.1,19.4L127.3,19.9L127.8,22.1L126.8,23.2L123.8,24.5L122.2,22.4L122.2,21.7L124.6,19.8L125.5,19.5ZM193.7,92.4L198.1,89.7L198.6,88.9L196.7,86.6L193.7,88.2L193.2,88.6ZM192.0,126.9L189.0,127.6L187.9,128.9L188.8,131.2L189.7,130.9L192.3,127.5ZM179.8,144.9L176.2,147.6L175.8,150.9L178.3,150.6L181.5,148.4L181.6,148.2L181.4,147.0ZM261.6,86.8L264.6,86.2L264.3,87.5L263.6,88.1L261.8,89.4L260.4,89.0ZM135.0,83.9L130.1,86.1L132.1,86.8L132.9,86.6L135.0,83.9ZM202.7,128.3L201.0,130.1L200.9,131.5L205.1,129.7L206.6,128.0L207.0,127.3L206.7,125.7ZM231.5,139.5L231.4,139.0L228.7,139.6L227.6,141.6L229.6,144.3ZM146.4,85.8L145.2,86.1L143.0,87.7L143.0,87.8L145.3,91.4L146.8,89.9L147.4,87.0ZM229.6,116.6L230.5,115.5L233.4,113.2L236.8,112.9L237.1,116.8L232.6,118.5ZM159.0,20.9L162.7,20.4L166.9,14.9L159.9,17.5L157.6,20.0L157.9,20.4ZM260.4,89.0L261.8,89.4L260.1,91.1L257.9,91.8L258.4,89.3ZM186.8,138.3L192.3,134.1L193.7,135.7L193.7,135.7L189.5,139.3L188.4,139.8ZM197.2,148.2L194.7,146.9L189.0,152.7L193.6,153.3L195.4,152.5L197.4,148.7ZM308.5,49.5L309.9,46.1L310.4,45.8L315.7,43.9L313.9,48.5L308.9,51.7ZM240.3,101.4L240.6,101.7L240.5,102.0L238.4,104.0L237.5,101.2L237.6,101.2L237.6,101.1ZM205.1,129.7L200.9,131.5L200.1,132.5L201.4,135.6L203.4,133.3ZM235.5,54.4L232.1,58.3L231.5,57.9L231.5,57.7L232.3,54.9L235.6,54.0ZM129.6,89.3L129.9,90.4L130.4,90.2L132.6,88.0L132.8,86.9ZM153.8,113.6L153.8,110.8L158.9,106.3L159.4,108.5L157.4,111.9ZM184.6,56.5L185.0,56.2L188.2,47.3L180.5,53.7L182.3,55.3ZM149.5,106.2L148.4,105.8L148.3,104.7L153.8,99.3L154.6,99.5L152.3,105.0ZM159.6,85.5L159.9,85.2L164.1,86.0L163.8,88.4L158.1,92.0L156.6,92.5L156.7,89.8ZM128.4,102.2L132.1,100.3L132.7,100.7L133.2,101.5L129.9,103.6ZM219.3,98.2L219.2,97.7L222.5,94.6L226.9,92.5L227.4,95.4L221.4,99.7ZM200.7,124.4L199.7,123.9L202.5,120.5L205.0,119.3L203.1,123.8ZM261.5,83.4L258.4,86.1L256.9,81.9L259.2,80.5L259.9,80.7ZM180.0,144.6L179.7,143.8L176.3,143.5L175.4,144.3L173.5,147.5L176.2,147.6L179.8,144.9ZM181.5,93.8L184.1,89.2L180.7,89.7L178.4,91.9L178.0,94.0L178.1,94.4L178.7,94.4ZM152.8,115.0L150.8,116.1L148.4,120.2L148.7,120.3L150.9,119.2L151.6,118.5L153.6,116.0ZM254.9,92.8L251.8,93.6L252.0,92.9L252.9,92.1L255.5,91.3L255.5,92.3ZM161.7,142.9L166.4,140.8L168.7,140.2L168.7,140.8L167.9,141.5L161.9,145.0ZM190.1,90.7L188.3,94.4L190.0,94.8L190.3,91.1ZM114.9,56.3L114.1,56.8L114.6,59.8L118.0,56.5L118.2,55.3ZM212.8,103.5L216.2,101.3L219.3,98.2L219.2,97.7L218.7,97.5L216.5,96.8L213.9,97.7L213.1,99.1ZM126.5,66.7L124.0,70.9L125.9,72.5L127.3,72.3L127.9,72.0L131.1,68.8ZM210.0,150.2L212.0,148.1L209.4,146.9L206.0,149.8L209.8,150.3ZM137.9,110.4L140.1,110.5L141.3,105.5L140.1,106.5ZM167.2,150.9L170.3,149.2L170.6,149.3L170.0,152.0L166.3,156.3L163.9,157.3ZM245.1,101.2L242.4,102.3L239.2,105.9L240.9,105.9L241.4,105.8L244.2,102.9ZM207.5,160.4L206.3,161.1L206.4,159.0L208.7,156.4L211.4,154.9L211.1,156.6ZM156.4,137.2L155.7,135.2L154.8,136.4L151.5,140.6L153.8,140.3L156.2,138.3ZM252.6,88.1L256.1,81.9L256.9,81.9L258.4,86.1L258.2,86.4L255.7,87.7ZM183.1,158.5L183.6,162.8L184.6,162.8L188.5,160.8L193.6,153.3L189.0,152.7L187.0,153.2L186.9,153.3ZM127.9,85.6L123.2,90.3L123.2,86.9L124.6,83.4L126.8,82.2ZM215.0,90.2L215.0,91.2L219.0,90.0L222.0,87.5L222.1,86.6L220.2,84.8L217.9,85.5ZM138.9,96.9L137.8,99.8L137.2,100.6L136.9,101.0L135.5,101.8L133.2,101.5L132.7,100.7L135.5,97.4ZM134.0,115.3L130.3,119.9L126.1,119.5L132.3,115.4ZM211.9,151.0L211.2,152.0L210.8,153.0L211.7,153.1L212.5,151.4ZM150.2,154.4L148.8,150.8L145.2,152.8L130.9,166.2L144.1,162.3L147.3,159.6L149.1,156.8ZM129.9,84.9L127.9,85.6L123.2,90.3L122.9,91.0L129.2,87.4L130.0,86.1ZM261.6,86.8L264.6,86.2L265.7,84.5L262.1,83.0L261.5,83.4L258.4,86.1L258.2,86.4L258.4,86.9ZM160.4,29.2L159.4,27.2L158.4,27.3L155.7,30.9L159.4,30.8ZM257.8,97.3L258.0,97.2L260.8,98.3L260.7,98.9L257.3,101.2L257.0,101.3L256.7,100.8ZM129.6,89.3L129.9,90.4L126.6,93.4L125.3,93.8L123.2,92.8L129.4,88.9ZM120.5,71.4L121.6,71.7L119.2,76.1L117.0,76.9L116.9,76.5ZM144.2,103.6L142.2,104.4L141.9,104.9L143.7,108.0L147.1,104.0L147.1,103.7Z"/><path fill="#767676" stroke="#767676" stroke-width=".4" d="M232.0,124.8L236.1,121.7L237.5,116.8L237.1,116.8L232.6,118.5L231.5,120.0ZM161.8,133.4L164.0,130.1L162.0,128.9L159.3,131.7L158.1,133.3L159.3,134.2ZM137.0,92.4L138.2,89.2L143.0,87.7L143.0,87.8L141.2,94.8L139.3,96.3ZM241.8,96.2L246.9,94.5L247.1,94.1L247.4,90.8L242.2,93.8L240.9,95.6ZM131.3,223.5L174.7,180.2L176.5,175.7L176.4,174.6L175.8,174.5L169.6,179.2L153.7,195.9L140.0,212.6ZM190.3,95.0L184.5,101.1L186.9,101.9L193.2,97.9L192.0,94.2ZM240.9,105.9L239.2,105.9L236.7,106.6L236.0,107.2L236.0,108.5L239.0,108.6L239.3,108.5ZM217.2,84.4L217.3,80.1L219.4,78.9L221.4,78.4L221.5,78.5L222.0,82.2L220.2,84.8L217.9,85.5L217.6,85.4ZM161.7,64.9L163.0,62.6L161.6,61.4L161.0,61.9L161.6,64.9ZM152.3,93.9L152.2,92.2L152.8,91.2L156.7,89.8L156.6,92.5L155.9,93.2L152.5,94.0ZM204.3,82.2L205.8,82.1L205.1,84.3L201.9,85.8L202.3,83.7ZM184.0,143.5L186.9,143.2L186.9,143.1L188.4,139.8L186.8,138.3L186.2,138.3L183.0,142.3ZM174.0,-35.0L160.1,-11.0L156.8,-5.9L128.3,21.8L127.8,22.1L127.3,19.9ZM173.7,135.3L172.4,140.4L170.9,141.4L168.7,140.8L168.7,140.2L169.2,138.4ZM180.0,144.6L179.7,143.8L180.9,139.3L185.7,138.0L186.0,138.0L186.2,138.3L183.0,142.3ZM119.2,76.1L121.6,71.7L124.0,70.9L125.9,72.5L120.8,76.6ZM201.6,126.2L200.7,124.4L203.1,123.8L203.4,124.1L202.9,125.5ZM136.4,78.2L132.2,80.6L132.5,81.8L133.1,81.8L136.6,79.6ZM142.7,101.9L142.0,103.9L137.3,104.9L136.9,101.0L137.2,100.6L142.6,101.5ZM247.7,68.7L243.6,70.6L240.9,73.3L241.0,75.5L241.2,75.9L249.3,71.9L249.0,69.0ZM226.4,48.0L228.0,47.8L228.9,47.5L230.8,45.0L244.4,6.7L257.6,-37.1L248.5,-26.8L241.1,-17.7L224.9,22.0L224.3,46.2ZM305.6,50.0L308.5,49.5L308.9,51.7L308.3,52.6L303.4,54.2L303.3,53.5L304.2,51.4ZM226.1,72.5L228.8,67.8L230.8,67.3L232.1,67.2L232.6,67.3L230.1,72.8L226.7,73.4ZM235.0,98.5L236.9,96.5L236.9,94.6L235.6,94.8L232.7,97.6L232.6,99.7ZM150.2,132.1L155.5,131.2L155.5,131.3L154.6,133.4L153.9,134.7L151.5,135.9L150.8,135.1ZM197.7,119.1L196.1,122.2L198.1,125.1L199.7,123.9L202.5,120.5L198.7,117.8L198.5,117.9ZM301.0,67.5L298.7,70.6L295.6,72.2L295.5,72.1L298.9,68.0ZM232.8,50.0L236.2,45.9L234.6,45.1L232.8,44.7L230.8,45.0L228.9,47.5L230.1,51.8ZM161.1,120.5L164.0,123.5L163.6,124.0L158.3,123.4L158.5,122.9ZM147.9,27.9L146.8,27.1L143.5,28.8L145.7,30.5ZM132.9,86.6L132.8,86.9L129.6,89.3L129.4,88.9L129.6,88.4L132.1,86.8ZM302.9,89.2L300.4,92.5L306.0,94.1L310.5,89.6L311.0,89.0L309.3,87.2L307.6,86.4L303.7,88.6L303.1,89.0ZM167.6,116.7L166.3,117.8L166.5,121.1L168.7,120.4L171.1,118.6L170.1,116.9ZM132.1,86.8L129.6,88.4L129.2,87.4L130.0,86.1L130.1,86.1ZM273.7,82.9L273.1,83.7L272.8,88.4L279.1,89.1L280.3,86.9ZM309.3,87.2L314.4,82.3L310.4,82.6L308.7,84.4L307.6,86.4ZM205.8,163.1L207.7,165.9L207.7,169.5L205.6,183.5L199.1,169.2L201.2,166.5ZM170.5,166.7L173.1,165.5L172.9,169.4L172.6,169.6L172.2,169.8L171.6,169.9L169.9,167.7ZM209.5,116.5L212.3,117.7L213.5,118.0L215.9,112.6L215.9,112.5ZM167.7,45.7L171.0,42.5L168.6,41.6L166.0,44.0L167.5,45.8ZM164.4,173.1L140.0,212.6L153.7,195.9L166.3,175.8L166.9,173.3L165.0,172.6ZM111.8,80.3L106.3,82.9L109.5,83.3ZM167.2,165.7L169.2,163.5L171.4,164.2L170.5,166.7L169.9,167.7L167.8,168.6L166.9,166.4ZM153.6,116.0L151.6,118.5L154.7,117.9L155.9,116.1ZM153.2,98.8L153.8,99.3L154.6,99.5L155.6,99.1L159.0,94.7L158.9,94.6L155.2,94.9ZM131.3,99.2L126.7,102.4L128.4,102.2L132.1,100.3L132.1,100.3ZM153.2,47.4L156.4,45.6L159.4,40.2L153.4,41.4L150.6,43.7L150.1,45.2ZM159.6,83.9L160.6,83.0L168.6,79.6L168.1,81.9L164.1,86.0L159.9,85.2ZM217.4,54.7L219.4,52.3L219.4,52.1L214.7,50.5L213.4,52.9L215.1,56.3ZM281.3,77.8L281.6,78.0L284.4,76.6L286.9,73.9L288.9,70.7L289.7,69.0L285.2,71.2L282.5,74.1ZM200.9,87.0L198.6,88.9L198.1,89.7L199.1,93.2L201.0,92.0L204.6,87.9ZM227.8,88.3L229.2,89.0L226.9,92.5L222.5,94.6L226.3,88.6ZM191.0,70.2L191.1,71.9L193.3,71.7L195.2,69.9L195.4,69.1ZM302.1,62.7L299.7,64.7L299.8,65.0L301.9,66.1L304.3,63.9L304.6,63.3ZM274.1,110.2L271.7,119.8L288.6,102.8L291.6,99.3L294.2,92.4L293.8,88.8L291.6,90.2ZM235.4,73.3L237.1,71.7L238.9,71.4L239.4,71.4L240.0,73.0L235.4,75.8L235.1,73.7ZM242.5,59.1L242.5,61.4L236.3,64.9L238.1,59.7L238.9,59.3ZM204.3,82.2L206.2,79.6L202.7,80.3L200.8,81.6L202.3,83.7ZM268.2,72.5L266.0,72.7L263.7,71.0L265.2,69.1L267.9,67.7L268.9,67.3L268.3,72.3Z"/><path fill="#7c7c7c" stroke="#7c7c7c" stroke-width=".4" d="M224.3,126.8L229.0,124.0L230.6,126.0L228.3,127.5L223.0,129.2L223.1,127.8ZM114.9,71.8L120.4,71.3L122.0,69.2L121.8,67.0L116.8,68.8L114.4,70.8L114.3,71.0ZM160.1,46.3L162.5,43.2L165.4,41.7L165.0,43.5L160.5,46.4ZM152.3,105.0L154.6,99.5L155.6,99.1L159.8,98.7L160.1,100.8L159.3,104.0L153.1,105.8ZM173.7,135.3L172.4,140.4L176.0,138.5L176.2,138.1L177.0,132.7L176.2,133.1ZM178.8,169.6L176.4,172.6L176.0,173.1L175.8,174.5L176.4,174.6L179.4,173.4L181.6,169.5ZM169.7,81.7L168.1,81.9L164.1,86.0L163.8,88.4L164.9,89.5L167.4,89.1L170.3,86.6L171.9,83.2ZM158.9,140.3L154.2,142.6L149.6,149.0L149.5,149.7L152.4,148.1L159.4,140.8ZM249.9,52.7L249.1,52.3L249.0,51.7L253.2,44.0L263.3,33.8L254.1,50.5L251.8,52.5ZM247.4,90.8L248.6,89.4L248.6,87.3L248.2,87.1L246.6,86.9L244.4,88.8L242.0,93.3L242.2,93.8ZM200.7,127.4L197.5,129.8L195.5,129.5L195.8,128.2L198.1,125.1L198.1,125.1L199.7,123.9L200.7,124.4L201.6,126.2ZM235.8,100.6L230.4,102.7L229.7,104.5L230.0,105.3L231.2,105.4L236.4,101.3ZM151.7,119.4L150.9,119.2L148.7,120.3L149.1,121.7L151.1,121.0ZM208.4,106.5L208.7,107.0L212.8,103.5L213.1,99.1L209.0,104.8ZM159.0,94.7L162.6,92.6L161.5,96.7L159.8,98.7L155.6,99.1ZM143.1,127.7L141.6,133.5L141.5,133.5L139.6,134.6L138.2,133.0L137.0,131.2L139.3,128.8ZM182.6,133.6L183.0,131.6L182.8,131.4L176.2,138.1L176.0,138.5L176.8,138.7L177.5,138.6ZM144.9,114.3L139.4,120.9L138.2,120.9L138.8,116.3L144.8,114.1ZM129.4,88.9L123.2,92.8L121.9,92.6L122.9,91.0L129.2,87.4L129.6,88.4ZM271.2,52.6L269.7,52.4L274.2,36.3L294.6,7.8L276.4,46.7L272.6,51.6ZM120.4,71.3L122.0,69.2L125.9,65.7L126.6,66.5L126.5,66.7L124.0,70.9L121.6,71.7L120.5,71.4ZM262.0,74.8L263.4,74.9L265.1,76.6L264.8,77.0L261.5,78.3L261.8,75.3ZM153.0,90.1L159.6,85.5L156.7,89.8L152.8,91.2L152.7,90.4ZM206.8,117.8L206.7,117.9L206.1,118.7L205.0,119.3L202.5,120.5L198.7,117.8L204.1,112.8L207.7,114.6ZM209.1,88.1L209.0,89.7L209.6,90.7L211.9,88.3ZM245.9,97.5L246.9,94.5L247.1,94.1L251.3,92.5L252.0,92.9L251.8,93.6L249.8,97.3L247.1,98.4ZM273.5,78.2L272.4,78.1L273.2,76.0L276.4,71.8L277.4,71.7L276.6,74.9ZM296.6,58.8L297.0,56.8L298.0,55.2L299.8,54.5L300.4,55.8L296.6,58.8ZM197.1,70.8L195.2,69.9L193.3,71.7L193.0,72.2L195.1,74.7ZM260.3,92.6L262.4,91.2L263.6,88.1L261.8,89.4L260.1,91.1ZM235.5,42.9L232.8,44.7L234.6,45.1ZM206.8,125.4L209.0,122.1L213.1,119.5L215.6,119.9L214.1,123.5L211.2,126.1L207.0,127.3L206.7,125.7ZM159.4,140.8L152.4,148.1L156.3,146.8L161.1,142.1L161.3,141.1ZM297.0,56.8L289.8,55.9L289.5,54.8L291.0,52.3L296.7,52.3L298.0,55.2ZM129.1,28.5L131.7,25.0L128.3,25.5L128.1,25.5L126.8,26.1L125.6,28.9L125.9,29.9ZM236.4,101.3L237.6,101.2L237.5,101.2L233.4,107.3L231.2,105.4ZM181.1,56.9L179.7,57.1L177.2,57.3L179.4,54.4L180.5,53.7L182.3,55.3ZM194.7,115.3L189.6,114.8L187.3,116.6L194.4,117.3ZM152.4,121.1L149.8,124.4L152.5,124.5L154.1,123.4L155.3,122.3L155.7,120.8L154.1,120.0ZM135.5,101.8L131.8,106.2L134.3,108.5L137.3,104.9L136.9,101.0ZM108.7,75.9L112.0,72.7L114.3,71.0L114.9,71.8L114.8,73.2L111.9,79.0L105.4,80.0ZM179.5,159.9L178.9,160.2L177.4,164.9L181.1,165.0L183.6,162.8L183.1,158.5ZM300.4,59.8L301.3,58.6L301.3,57.5L297.0,58.9L299.3,60.7ZM163.3,31.1L161.8,33.5L163.8,35.8L170.3,33.2L238.5,-14.9L241.1,-17.7L248.5,-26.8L179.9,15.5ZM211.3,158.8L213.3,158.7L207.7,165.9L205.8,163.1L206.2,161.2L206.3,161.1L207.5,160.4ZM117.5,82.3L119.4,84.0L123.0,82.2L122.8,79.7L119.9,80.0L118.3,81.2ZM211.3,158.8L211.7,156.9L211.1,156.6L207.5,160.4ZM258.5,94.3L259.0,95.9L262.1,94.0L260.3,92.6ZM262.4,91.2L264.6,92.0L266.9,89.4L267.0,88.7L264.3,87.5L263.6,88.1ZM128.4,102.2L126.7,102.4L125.8,102.6L126.3,109.5L127.0,109.0L129.9,103.6ZM208.2,87.0L208.0,87.0L207.6,86.3L208.5,83.9L216.4,79.8L217.1,80.1L212.5,85.2ZM211.5,128.0L212.4,127.9L212.2,131.9L209.7,135.6L209.4,134.5ZM208.4,83.9L209.3,81.0L212.4,77.7L215.3,76.2L216.4,79.8L208.5,83.9ZM119.2,60.6L116.0,64.8L115.4,63.3L118.9,60.2L119.2,60.3ZM133.7,59.5L134.9,59.0L137.3,52.8L136.3,51.8L133.3,53.3L131.1,56.1L132.1,59.4L132.6,59.5ZM190.6,69.7L189.1,69.5L189.4,68.2L191.3,66.9L193.2,66.4L195.5,67.1ZM221.1,63.1L219.0,62.9L218.5,61.7L224.8,55.7L227.6,54.8L227.5,55.2L221.9,62.8ZM322.0,95.8L323.7,90.3L323.0,84.4L316.6,84.7L311.4,88.8ZM188.4,139.8L189.5,139.3L191.8,139.8L190.6,141.4L186.9,143.1ZM197.6,160.8L198.7,161.1L200.7,160.5L203.8,157.9L204.4,155.3L204.3,155.0L200.2,157.8ZM142.9,71.1L144.5,68.5L148.2,68.4L144.6,72.5L142.8,71.5ZM168.7,140.8L170.9,141.4L169.7,145.1L169.5,145.4L169.1,145.6L164.2,146.7L167.9,141.5ZM121.8,67.0L125.7,64.8L125.9,65.7L122.0,69.2ZM144.8,73.5L144.0,73.4L144.6,72.5L148.2,68.4L148.8,68.2L149.6,69.1L149.0,70.7ZM190.1,90.7L190.1,90.3L185.9,94.2L185.8,95.2L185.9,95.4L188.3,94.4ZM206.6,128.0L208.2,130.9L211.2,127.9L211.2,126.1L207.0,127.3ZM169.9,167.7L171.6,169.9L166.9,173.3L165.0,172.6L165.3,171.1L167.8,168.6ZM184.6,173.1L185.0,173.9L183.9,175.9L180.9,175.7L181.2,175.0L181.6,174.2ZM183.1,170.8L185.6,167.9L185.0,167.4L181.6,169.5L179.4,173.4L180.8,173.2Z"/><path fill="#838383" stroke="#838383" stroke-width=".4" d="M149.2,99.0L148.5,99.5L144.9,100.5L146.9,98.6ZM212.7,155.6L213.4,155.9L212.1,156.6L212.5,155.6ZM180.5,165.7L178.8,169.6L181.6,169.5L185.0,167.4L184.6,162.8L183.6,162.8L181.1,165.0ZM318.6,68.6L318.0,70.0L317.5,74.2L318.8,74.4L320.8,73.8L324.2,67.9L319.2,68.1ZM253.2,44.0L245.6,49.0L245.2,49.2L241.8,47.5L244.1,42.2L327.7,-43.4L263.3,33.8ZM199.2,82.3L198.6,82.9L195.7,84.0L193.9,83.8L197.2,80.9ZM163.3,31.1L165.9,23.9L166.5,23.0L179.9,15.5ZM293.5,78.8L292.5,80.7L291.7,81.3L283.6,84.3L292.7,78.8ZM347.4,57.2L343.9,55.2L353.5,37.1L389.8,-9.2L434.5,-65.5L438.9,-70.4L517.0,-42.0L366.9,47.8L347.4,57.2ZM116.7,26.2L117.4,27.3L119.3,26.6L120.3,24.5ZM234.9,129.3L242.9,125.0L245.9,124.2L249.8,125.6L239.7,132.9L235.1,135.6L232.5,134.9ZM142.0,141.0L145.2,139.3L145.8,139.8L140.9,146.0ZM224.4,88.0L226.3,88.6L222.5,94.6L219.2,97.7L218.7,97.5ZM305.0,82.1L302.3,84.7L299.1,85.2L297.9,83.8L299.4,81.9L304.3,80.7ZM139.1,142.9L141.9,141.0L142.0,141.0L140.9,146.0L140.3,147.5L138.7,149.2L138.6,149.3L138.1,146.1ZM289.1,61.9L284.0,65.6L284.0,65.7L284.9,66.5L288.0,64.4ZM167.8,108.2L166.9,108.3L166.4,107.5L172.1,101.8L174.8,102.6L174.9,103.0L174.6,103.4L169.4,107.7ZM247.1,94.1L251.3,92.5L251.2,88.9L248.6,89.4L247.4,90.8ZM149.4,90.8L145.1,92.0L143.6,93.8L145.7,95.0L147.3,94.5L149.4,90.8ZM116.4,24.7L118.5,22.4L118.3,21.4L-7.9,26.4L115.9,24.9ZM175.1,75.7L174.1,74.4L172.3,75.1L169.6,77.2L168.6,79.6L168.1,81.9L169.7,81.7L172.4,79.7ZM190.8,86.6L189.3,88.4L188.7,88.6L187.8,85.2L192.3,80.5L192.3,84.0ZM268.7,83.6L274.4,81.8L273.7,82.9L273.1,83.7L269.6,85.8ZM137.2,116.2L134.8,118.8L134.7,120.2L137.6,121.4L138.2,120.9L138.8,116.3ZM274.3,54.9L273.4,52.8L272.6,51.6L271.2,52.6L270.2,54.7L271.8,57.3ZM176.5,175.7L174.7,180.2L177.8,178.5L177.6,177.0ZM276.1,52.2L274.7,54.6L277.9,53.9L280.5,48.9ZM159.9,17.5L183.1,-50.0L190.5,-62.9L245.2,-156.2L368.1,-208.1L364.6,-165.8L310.0,-101.2L166.9,14.9ZM255.4,79.3L255.4,79.3L254.1,78.8L254.0,76.5L259.0,72.6L262.2,72.5L261.5,74.0ZM149.5,45.8L150.1,45.2L153.2,47.4L152.5,48.1L148.9,49.4L148.0,49.6L147.6,49.3ZM148.2,125.1L147.9,125.4L144.6,126.3L144.6,123.4L146.5,121.1L148.4,120.2L148.7,120.3L149.1,121.7ZM211.2,127.9L211.5,128.0L209.4,134.5L208.0,131.6L208.2,130.9ZM182.1,178.4L179.6,179.1L59.4,335.3L78.6,394.5L183.7,179.9ZM200.5,111.0L199.4,111.8L196.3,117.2L198.5,117.9L198.7,117.8L204.1,112.8L204.2,112.6L201.4,110.9ZM301.0,67.5L298.9,68.0L299.8,65.0L301.9,66.1L301.8,66.9ZM193.7,124.5L196.1,122.2L198.1,125.1L198.1,125.1L193.4,125.1ZM145.3,91.4L143.0,87.8L141.2,94.8L143.6,93.8L145.1,92.0ZM274.1,110.2L291.6,90.2L289.4,90.5L276.2,99.6ZM197.7,119.1L196.1,122.2L193.7,124.5L191.3,123.4ZM314.4,75.0L311.7,79.3L312.1,79.9L316.6,74.6ZM190.3,91.1L192.8,93.2L192.0,94.2L190.3,95.0L190.0,94.8ZM113.2,62.4L111.2,62.8L110.5,58.5L112.6,56.9L114.1,56.8L114.6,59.8L114.6,60.7L113.2,62.3ZM221.6,140.5L221.9,141.8L221.9,142.0L222.5,141.9L227.9,138.8L228.4,137.5L228.4,133.9L227.5,134.0ZM155.7,135.2L155.7,135.0L153.9,134.7L151.5,135.9L149.0,140.1L154.8,136.4ZM164.8,53.3L168.1,51.9L168.3,47.3L167.7,45.7L167.5,45.8L164.5,47.8L162.8,50.4L163.3,51.7ZM305.6,50.0L304.7,48.6L307.3,46.1L309.7,45.9L309.9,46.1L308.5,49.5ZM131.7,25.0L128.3,25.5L134.0,22.2L134.4,22.1ZM136.9,60.7L136.6,58.6L139.4,56.3L141.6,56.9L142.5,58.1L141.1,60.8L140.4,61.5L139.0,61.8L137.7,61.9ZM245.4,55.5L243.3,54.9L243.3,54.7L246.2,52.1L249.0,51.7L249.1,52.3ZM149.5,98.8L149.2,96.0L152.3,93.9L152.5,94.0L150.2,98.8ZM119.9,80.0L122.8,79.7L123.1,79.5L127.3,72.3L125.9,72.5L120.8,76.6ZM153.8,140.3L154.2,142.6L149.6,149.0L148.9,147.6L148.0,142.9L148.7,141.9L151.5,140.6ZM139.8,53.1L137.3,52.8L134.9,59.0L136.6,58.6L139.4,56.3L141.2,53.7ZM254.9,92.8L251.8,93.6L249.8,97.3L250.6,97.5L253.2,96.2ZM255.6,98.1L255.4,95.5L256.0,94.9L258.5,94.3L259.0,95.9L258.0,97.2L257.8,97.3ZM221.5,140.4L218.5,141.5L218.4,139.0L219.7,137.3L220.9,138.1ZM152.7,59.6L156.1,56.4L158.2,57.7L158.4,58.0L156.5,60.7L156.3,60.8L154.6,62.0L153.8,62.4ZM152.8,115.0L150.8,116.1L148.3,115.4L153.5,110.9L153.8,110.8L153.8,113.6ZM144.6,41.1L146.6,39.8L149.1,41.2L148.5,43.2L148.2,43.4L144.0,43.6L143.5,42.4ZM211.9,151.0L211.2,152.0L209.8,151.6L210.0,150.2L212.0,148.1L212.2,148.0ZM135.0,83.9L137.5,88.4L132.6,88.0L132.8,86.9L132.9,86.6ZM165.0,43.5L165.4,41.7L168.3,37.7L168.6,41.6L166.0,44.0L165.4,44.0ZM212.5,107.6L212.3,109.0L209.9,112.7L207.7,114.6L204.1,112.8L204.2,112.6L208.6,107.5ZM131.5,79.6L128.9,80.5L128.9,80.1L133.3,73.3L135.7,72.0L136.5,72.8L136.4,73.9ZM249.8,72.5L250.3,75.7L246.9,79.6L242.3,80.1L242.4,79.7ZM172.1,101.4L176.4,97.0L178.1,94.4L178.0,94.0L172.5,97.4L172.0,101.3ZM155.3,122.3L158.5,122.9L158.3,123.4L156.5,126.6L155.0,127.4L154.1,123.4ZM249.8,125.6L269.1,125.2L270.1,135.9L234.0,141.2L233.8,140.2L239.7,132.9ZM169.2,174.5L166.3,175.8L153.7,195.9L169.6,179.2L170.6,174.5ZM274.3,54.9L274.7,54.6L276.1,52.2L276.2,49.0L273.4,52.8ZM212.3,109.0L209.9,112.7L216.0,112.4L216.8,111.2L216.8,110.1ZM205.1,102.1L205.8,98.1L209.4,95.8L212.1,94.7L212.8,97.5L206.6,101.6ZM245.0,104.4L244.2,102.9L245.1,101.2L245.1,101.2L248.4,103.2ZM192.5,173.0L192.1,173.6L191.7,176.9L206.0,199.9L205.6,183.5L199.1,169.2L196.8,169.3L193.1,172.3Z"/><path fill="#898989" stroke="#898989" stroke-width=".4" d="M140.9,75.9L144.0,73.4L144.8,73.5L147.7,75.0L147.0,75.8L144.5,77.8L140.7,77.3ZM221.6,140.5L227.5,134.0L227.4,134.0L220.9,138.1L221.5,140.4ZM130.4,90.2L132.9,92.1L137.9,89.0L137.9,88.6L137.5,88.4L132.6,88.0ZM183.3,150.1L187.2,145.9L186.5,144.4L181.6,148.2L181.5,148.4L182.6,149.9ZM169.9,92.6L169.8,90.8L167.7,90.2L165.8,94.7L165.8,94.7L168.8,94.0ZM148.4,120.2L146.5,121.1L145.1,118.8L146.3,116.0L148.3,115.4L150.8,116.1ZM152.5,48.1L150.8,51.0L148.7,51.5L148.9,49.4ZM316.3,51.5L315.9,52.3L316.0,53.2L318.1,53.3L320.8,51.2L321.2,48.6L320.8,48.7ZM159.8,136.2L161.7,134.6L162.6,135.0L162.6,135.8L159.0,139.8L158.3,138.2ZM254.9,98.8L253.6,99.9L250.6,99.2L250.6,97.5L253.2,96.2L255.4,95.5L255.6,98.1ZM166.9,166.4L164.0,168.8L163.8,169.0L163.4,170.7L165.3,171.1L167.8,168.6ZM185.9,94.2L184.3,93.2L186.6,89.8L188.7,88.6L189.3,88.4L190.4,89.7L190.1,90.3ZM311.8,71.6L310.8,74.9L309.9,75.9L308.4,76.6L304.2,75.7L307.8,70.7ZM140.3,147.5L148.0,142.9L148.7,141.9L148.7,140.5L145.8,139.8L140.9,146.0ZM306.0,94.1L310.5,89.6L314.6,140.0L304.8,208.5L305.4,95.6ZM160.7,112.6L165.2,108.0L159.9,108.6ZM129.9,103.6L127.0,109.0L131.8,106.2L135.5,101.8L133.2,101.5ZM165.2,149.5L165.3,149.2L163.3,148.6L160.8,151.7ZM149.5,165.9L149.3,164.4L146.4,165.0L145.0,170.6L148.5,167.4ZM255.3,52.8L254.7,50.6L258.5,50.3ZM165.2,149.5L165.3,149.2L169.1,145.6L169.5,145.4L170.3,149.2L167.2,150.9L166.4,151.2L165.2,149.9ZM113.0,82.0L117.5,80.9L118.3,81.2L117.5,82.3L109.2,91.0ZM201.2,75.2L198.1,73.9L199.7,72.4L201.9,74.9L201.6,75.2ZM275.8,80.0L274.4,81.8L273.7,82.9L280.3,86.9L280.9,85.9L281.6,78.0L281.3,77.8ZM263.9,79.6L264.8,77.0L261.5,78.3L261.1,78.6L259.2,80.5L259.9,80.7ZM308.4,76.6L309.9,75.9L309.6,78.7L306.5,81.6L305.4,82.1L305.0,82.1L304.3,80.7L305.7,78.9ZM216.5,152.4L217.6,153.4L217.0,155.1L213.4,155.9L212.7,155.6ZM190.3,58.3L192.0,59.5L190.4,61.4L189.0,58.4ZM154.6,81.0L155.5,84.6L158.0,83.6L159.1,78.8L157.0,78.1L154.6,80.2ZM200.6,163.4L206.2,161.2L206.3,161.1L206.4,159.0L203.8,157.9L200.7,160.5ZM220.6,73.9L222.5,69.1L223.7,68.4L223.8,69.1L221.4,74.9ZM164.1,113.3L166.0,110.7L167.9,111.5L164.6,114.8L164.1,114.7ZM260.8,98.3L263.4,93.7L263.6,93.5L266.8,94.9L267.2,96.8L262.6,99.3L260.7,98.9ZM134.3,108.5L134.2,108.8L137.9,107.7L140.1,106.5L141.3,105.5L141.9,104.9L142.2,104.4L142.0,103.9L137.3,104.9ZM155.9,116.1L154.7,117.9L154.5,118.4L154.1,120.0L155.7,120.8L157.2,119.5L158.9,116.1L158.8,114.5L158.1,114.7ZM213.5,137.5L213.8,142.2L209.5,145.8L206.1,143.5L206.2,142.4L208.3,138.2L209.2,137.5L211.9,136.7L212.4,136.7ZM236.9,70.9L238.4,67.5L239.7,67.8L238.9,71.4L237.1,71.7ZM186.9,175.5L185.5,178.5L183.7,179.9L182.1,178.4L183.8,176.2ZM241.2,75.9L249.3,71.9L249.8,72.1L249.8,72.5L242.4,79.7L241.1,76.0ZM203.4,124.1L203.1,123.8L205.0,119.3L206.1,118.7L207.3,120.8ZM234.9,129.3L232.5,134.9L228.4,137.5L228.4,133.9L233.3,129.9ZM274.1,67.1L275.0,69.9L273.7,70.8L271.5,69.5L273.2,66.2ZM235.7,109.4L234.0,112.3L238.0,110.8L237.9,110.5ZM153.7,85.7L152.6,90.3L149.4,90.8L149.4,90.8L150.0,88.9L151.4,87.0ZM115.9,30.9L112.0,35.9L109.5,33.7L112.3,31.6L115.6,30.7ZM276.1,52.2L276.2,49.0L276.4,46.7L294.6,7.8L328.8,-44.6L332.3,-49.0L307.9,16.8L303.4,26.3L300.9,28.8L280.5,48.9ZM182.9,94.0L181.5,93.8L178.7,94.4L179.3,97.0L182.1,95.4ZM211.2,152.0L210.8,153.0L209.2,153.6L209.8,151.6ZM201.0,145.8L198.5,144.9L198.4,140.8L199.7,139.6L208.3,138.2L206.2,142.4ZM217.6,85.4L217.9,85.5L215.0,90.2L213.1,89.8L213.0,88.3ZM202.9,125.5L203.4,124.1L207.3,120.8L209.0,122.1L206.8,125.4ZM143.5,47.9L148.2,43.4L144.0,43.6L142.4,47.7ZM149.5,98.8L149.2,99.0L146.9,98.6L146.9,97.4L147.9,95.9L149.2,96.0ZM175.8,65.9L175.4,66.2L172.5,67.6L169.3,66.7L172.5,63.7L178.2,62.7ZM141.6,56.9L142.5,58.1L144.1,57.0L145.9,54.7L145.7,53.6ZM116.8,68.8L117.3,68.3L120.8,64.8L125.8,63.9L126.0,64.1L125.7,64.8L121.8,67.0ZM172.6,89.4L174.8,87.0L175.3,85.8L170.3,86.6L167.4,89.1L167.7,90.2L169.8,90.8ZM174.8,69.6L171.9,71.6L171.4,70.6L172.5,67.6L175.4,66.2L175.3,68.7ZM162.9,139.8L161.3,141.1L161.1,142.1L161.7,142.9L166.4,140.8L163.3,139.6ZM160.4,118.7L161.1,120.5L161.1,120.5L158.5,122.9L155.3,122.3L155.7,120.8L157.2,119.5ZM195.6,167.7L193.0,169.6L193.1,172.3L196.8,169.3L196.9,167.6ZM195.3,161.0L194.5,161.0L194.2,160.1L196.1,156.9L199.9,155.3L199.4,157.2ZM197.2,164.7L198.7,161.1L200.7,160.5L200.6,163.4L199.9,164.1L198.3,165.2ZM292.5,80.7L293.5,82.7L293.3,85.4L286.0,88.4L291.7,81.3ZM238.8,99.6L238.5,100.1L237.6,101.1L237.6,101.2L236.4,101.3L235.8,100.6L236.3,99.3L239.8,97.1ZM163.4,170.7L160.7,172.3L160.4,173.9L160.8,174.9L164.4,173.1L165.0,172.6L165.3,171.1ZM132.6,59.5L132.1,59.4L126.0,64.1L125.7,64.8L125.9,65.7L126.6,66.5L128.1,65.7ZM201.0,130.1L200.9,131.5L200.1,132.5L200.0,132.6L197.0,132.4L197.5,129.9ZM168.3,47.3L171.6,45.1L171.3,42.3L171.0,42.5L167.7,45.7ZM264.3,87.5L267.0,88.7L269.6,85.8L268.7,83.6L267.7,82.8L265.7,84.5L264.6,86.2Z"/><path fill="#8f8f8f" stroke="#8f8f8f" stroke-width=".4" d="M145.7,53.6L145.9,54.7L149.0,54.5L150.3,53.6L150.6,52.6L150.8,51.0L148.7,51.5L147.1,52.2L146.2,52.9L145.7,53.6ZM150.8,135.1L151.5,135.9L149.0,140.1L148.7,140.5L145.8,139.8L145.2,139.3L145.5,138.6ZM194.4,161.2L192.0,167.7L191.4,168.1L190.3,168.7L188.2,168.3L188.0,167.8ZM91.0,62.6L-88.0,154.8L-52.1,82.4L103.0,43.4L105.0,43.6L105.7,44.2L105.2,48.2L97.5,57.0ZM128.4,14.6L124.9,18.4L124.6,19.8L125.5,19.5ZM240.6,99.7L242.9,98.0L244.0,98.1L240.6,101.7L240.3,101.4ZM273.2,66.2L273.1,66.1L271.0,65.8L268.9,67.3L268.3,72.3L271.5,69.5ZM169.6,77.2L168.6,79.6L160.6,83.0L165.5,77.5L166.4,77.2ZM170.3,136.0L169.2,138.3L169.2,138.4L173.7,135.3L176.2,133.1L173.2,133.1ZM201.6,75.2L199.5,77.3L200.4,81.0L204.4,74.1L203.8,74.0L201.9,74.9ZM180.3,64.9L178.9,66.6L175.8,65.9L178.2,62.7L179.0,61.8L180.4,61.2ZM303.2,26.7L291.8,49.7L284.4,52.8L279.3,53.4L300.9,28.8L303.4,26.3ZM141.6,82.2L146.5,81.9L147.5,80.7L144.1,78.5ZM201.9,85.8L200.9,87.0L204.6,87.9L207.6,86.3L208.5,83.9L208.4,83.9L205.1,84.3ZM172.6,169.6L172.9,169.4L173.2,169.1L175.5,168.4L176.4,172.6L176.0,173.1L172.7,172.2ZM314.3,69.8L318.6,68.6L318.0,70.0L313.6,74.5L310.8,74.9L311.8,71.6ZM150.0,163.3L149.3,164.4L146.4,165.0L144.2,164.0L144.1,162.3L147.3,159.6L148.5,160.0L150.2,163.0ZM157.0,67.0L157.8,65.3L156.3,60.8L154.6,62.0L155.0,67.3ZM192.0,126.9L193.4,125.1L198.1,125.1L195.8,128.2L192.3,127.5ZM168.7,120.4L168.7,123.9L173.8,119.1L172.8,117.8L171.1,118.6ZM219.7,137.2L219.7,137.3L218.4,139.0L215.1,142.5L213.8,142.2L213.5,137.5ZM239.2,55.0L242.5,53.3L243.5,51.4L239.3,53.2ZM276.6,74.9L277.4,71.7L280.1,71.1L280.1,71.9ZM347.3,69.0L350.4,70.8L498.8,83.8L576.2,-24.5L517.0,-42.0L366.9,47.8L350.6,60.2L348.3,62.8ZM329.4,72.9L330.1,74.1L324.2,78.3L327.6,74.0ZM245.8,115.3L242.4,114.1L241.5,114.2L237.5,116.8L236.1,121.7L242.9,125.0L245.9,124.2L246.1,116.9ZM230.0,105.3L226.4,110.0L223.1,111.3L222.9,109.8L228.0,105.2L229.7,104.5ZM284.9,66.5L284.0,65.7L281.1,70.0L283.8,68.7L284.7,67.7ZM155.9,93.2L156.6,92.5L158.1,92.0L158.9,94.6L155.2,94.9ZM192.0,54.5L192.4,56.9L193.8,57.4L193.7,54.5ZM172.2,169.8L169.2,174.5L170.6,174.5L172.7,172.2L172.6,169.6ZM319.9,46.0L325.8,44.9L342.3,30.2L360.5,8.8L323.5,38.5L319.5,45.7ZM176.8,81.7L176.0,85.1L180.5,82.1L179.3,79.8ZM325.7,56.8L328.9,57.3L331.9,52.3L331.8,51.9L331.2,51.7L325.9,55.4ZM103.2,72.7L101.9,75.6L103.0,75.1L106.3,72.6L107.4,69.8ZM195.7,84.0L193.9,83.8L192.3,84.0L190.8,86.6L194.2,85.7ZM196.5,67.0L196.6,66.9L196.1,64.7L194.4,65.1L193.2,66.4L195.5,67.1ZM223.0,129.2L222.4,130.2L222.9,133.4L223.7,133.3L227.7,129.1L228.3,127.5ZM209.0,122.1L213.1,119.5L213.5,118.0L212.3,117.7L206.7,117.9L206.1,118.7L207.3,120.8ZM235.7,109.4L237.9,110.5L239.0,108.6L236.0,108.5ZM184.5,61.8L185.8,61.2L188.1,58.2L188.8,56.1L185.0,56.2L184.6,56.5L184.3,56.7L181.9,59.7L181.0,60.8ZM135.0,83.9L135.0,83.8L133.1,81.8L132.5,81.8L129.9,84.9L130.0,86.1L130.1,86.1ZM154.0,163.6L153.9,162.9L154.0,161.1L158.4,155.8L158.8,155.5L158.8,155.5L160.9,158.2L154.3,163.7ZM168.3,37.7L165.4,41.7L162.5,43.2L160.7,39.0L163.8,35.8L170.3,33.2ZM216.7,148.7L215.8,151.6L212.4,153.7L211.7,153.1L212.5,151.4ZM212.4,153.7L211.7,153.1L210.8,153.0L209.2,153.6L208.7,154.0L208.7,156.4L211.4,154.9L211.5,154.8ZM171.3,42.3L230.5,-5.8L225.6,0.3L176.7,47.1L171.6,45.1ZM312.9,37.8L314.9,40.1L310.4,45.8L309.9,46.1L309.7,45.9ZM224.2,154.1L216.9,155.5L215.7,157.3L215.9,158.2L233.3,178.3L225.5,155.5ZM138.7,43.0L140.6,43.7L143.5,42.4L144.6,41.1L144.2,39.1L143.6,38.5L142.3,38.6L138.9,41.2L138.2,41.8L138.3,42.3ZM243.4,66.9L244.1,68.1L243.6,70.6L240.9,73.3L240.0,73.0L239.4,71.4L242.5,67.6ZM116.4,24.7L116.6,26.1L113.1,29.9L112.9,28.0L115.9,24.9ZM114.1,36.2L115.9,35.6L116.3,31.0L115.9,30.9L112.0,35.9L112.1,36.3ZM221.4,74.9L221.4,74.9L224.5,72.5L223.8,69.1ZM153.7,85.7L152.6,90.3L152.7,90.4L153.0,90.1L158.1,83.6L158.0,83.6L155.5,84.6L153.8,85.6ZM220.4,53.1L219.4,52.3L217.4,54.7L217.1,56.7L219.3,56.5L221.6,54.5ZM161.5,164.1L156.7,166.0L151.3,174.5L151.1,175.0L156.5,171.8L160.1,168.5L161.9,166.2ZM212.2,88.1L213.0,88.3L213.1,89.8L210.3,91.9L208.9,92.0L209.6,90.7L211.9,88.3ZM220.1,126.4L211.9,136.7L209.2,137.5L209.7,135.6L212.2,131.9L217.2,126.1ZM123.6,83.3L123.0,82.2L119.4,84.0L113.7,90.4ZM185.5,178.5L191.7,176.9L206.0,199.9L228.7,316.3L82.8,408.8L78.6,394.5L183.7,179.9ZM181.4,147.0L181.6,148.2L186.5,144.4L186.6,144.2L186.9,143.2L184.0,143.5ZM158.1,83.6L158.0,83.6L159.1,78.8L163.0,76.0L163.3,75.9L165.5,77.5L160.6,83.0L159.6,83.9ZM186.2,76.4L182.3,74.3L180.6,77.3L186.2,76.4ZM254.6,105.9L251.6,107.9L251.4,108.2L251.2,109.0L251.9,109.1L255.4,108.1L256.0,105.8ZM296.6,58.8L293.5,61.1L292.9,65.2L292.9,66.3L292.9,66.3L294.4,66.4L295.8,65.5L299.3,60.7L297.0,58.9L296.6,58.8ZM195.7,84.0L194.2,85.7L193.7,88.2L196.7,86.6L198.6,82.9ZM-33.6,231.3L125.2,100.4L125.7,100.4L125.7,102.5L80.3,147.4L54.0,167.6L-30.9,232.0ZM298.7,87.2L299.1,85.2L297.9,83.8L295.2,85.4L293.8,88.8L294.2,92.4L298.3,88.0ZM199.6,56.6L204.9,55.6L214.9,43.7L217.4,37.1L208.8,45.8ZM256.0,105.8L255.4,108.1L256.0,108.2L258.4,103.9L258.2,103.9ZM216.9,96.1L219.0,90.0L222.0,87.5L224.3,87.8L224.3,87.9ZM182.3,74.1L182.3,74.3L186.2,76.4L186.8,75.5L188.0,70.9L182.5,73.8ZM191.2,54.1L188.8,56.1L185.0,56.2L188.2,47.3L223.7,3.0L217.5,13.6ZM190.1,123.8L188.8,125.6L185.1,126.9L185.3,125.4L190.3,121.7ZM150.2,98.8L151.3,99.2L153.2,98.8L155.2,94.9L155.9,93.2L152.5,94.0ZM233.0,62.0L232.1,67.2L232.6,67.3L236.3,64.9L236.3,64.9L238.1,59.7L237.6,59.5L233.7,61.4ZM221.5,126.0L222.3,120.1L220.1,121.4L217.0,125.5L217.2,126.1L220.1,126.4ZM273.9,78.4L275.8,80.0L281.3,77.8L282.5,74.1L280.5,72.8ZM230.5,94.6L226.9,100.1L227.4,101.3L227.5,101.3L231.5,97.2ZM247.6,66.2L247.5,63.3L244.7,65.0L243.4,66.9L244.1,68.1L247.3,67.2ZM157.4,131.7L154.6,133.4L155.5,131.3L156.8,131.1ZM184.1,89.2L180.7,89.7L181.2,88.6L185.0,86.0L186.5,86.0L184.1,89.2ZM186.9,175.5L183.8,176.2L183.9,175.9L185.0,173.9L187.7,173.2L188.0,174.4ZM315.0,62.7L316.8,61.8L321.6,55.1L320.7,54.7L319.4,54.9L313.1,59.3L313.0,59.5L313.9,63.0ZM314.8,68.1L318.2,64.8L317.2,61.9L316.8,61.8L315.0,62.7ZM147.9,125.4L147.1,128.9L141.9,133.4L141.6,133.5L143.1,127.7L144.6,126.3ZM205.1,84.3L208.4,83.9L209.3,81.0L207.6,80.6L205.8,82.1ZM208.4,106.5L208.7,107.0L208.6,107.5L204.2,112.6L201.4,110.9L204.0,107.4L207.2,106.6ZM227.4,58.8L231.4,58.0L227.8,60.7L227.2,59.9ZM313.1,59.3L319.4,54.9L318.1,53.3L316.0,53.2L313.2,58.5ZM254.9,98.8L253.6,99.9L252.1,102.4L255.8,100.7Z"/><path fill="#969696" stroke="#969696" stroke-width=".4" d="M180.5,53.7L179.4,54.4L176.9,51.3L176.0,47.9L176.7,47.1L225.6,0.3L223.7,3.0L188.2,47.3ZM126.3,58.2L131.1,56.1L133.3,53.3L132.1,49.8L125.9,57.6ZM115.1,52.4L118.6,50.8L121.9,45.5L121.0,45.5L117.0,46.9L114.8,51.1ZM330.1,74.1L331.0,75.1L331.0,75.2L323.4,83.5L323.2,79.4L324.2,78.3ZM153.8,85.6L155.5,84.6L154.6,81.0L153.1,84.1ZM182.3,153.6L184.8,152.5L186.9,153.3L183.1,158.5L179.5,159.9L179.0,155.8ZM240.7,95.8L236.9,96.5L235.0,98.5L236.3,99.3L239.8,97.1ZM151.9,119.3L152.0,121.0L151.1,121.0L151.7,119.4ZM300.5,79.2L299.4,81.9L297.9,83.8L295.2,85.4L293.4,85.4L293.3,85.4L293.5,82.7L295.5,81.0ZM160.7,172.3L156.5,171.8L151.1,175.0L141.9,184.6L160.4,173.9ZM109.7,44.6L114.6,41.8L113.5,45.8ZM307.4,61.1L308.6,61.4L305.7,66.6L304.3,63.9L304.6,63.3ZM305.4,82.1L303.7,88.6L307.6,86.4L308.7,84.4L306.5,81.6ZM337.1,66.3L334.7,74.4L331.0,75.2L331.0,75.1L336.9,66.3ZM115.8,65.2L119.8,62.5L117.3,68.3L116.8,68.8L114.4,70.8L113.9,68.7ZM222.9,133.4L219.7,137.2L213.5,137.5L212.4,136.7L222.4,130.2ZM244.8,57.3L242.5,59.1L238.9,59.3L243.3,54.9L245.4,55.5ZM271.0,65.8L268.9,67.3L267.9,67.7L267.6,63.5L269.5,59.7L270.7,59.0L273.2,61.0ZM235.6,54.0L232.3,54.9L228.6,53.9L230.1,51.8L232.8,50.0L238.9,50.2L238.3,51.4ZM157.8,65.3L159.7,62.8L158.0,60.9L156.5,60.7L156.3,60.8ZM199.4,157.2L199.9,155.3L203.3,152.9L204.4,154.2L204.3,155.0L200.2,157.8ZM324.4,46.4L323.6,50.0L321.6,51.4L320.8,51.2L321.2,48.6ZM176.3,72.1L174.8,69.6L171.9,71.6L171.8,72.4L172.3,75.1L174.1,74.4ZM338.9,58.6L340.2,58.2L343.9,55.2L353.5,37.1L341.5,48.1L335.6,54.3L333.9,57.0ZM328.8,70.0L328.7,68.7L333.9,64.4L335.2,66.8L330.0,70.9ZM344.1,64.5L342.2,64.9L340.9,65.9L342.2,69.9L346.0,69.0ZM261.6,86.8L260.4,89.0L258.4,89.3L258.1,88.3L258.4,86.9ZM208.0,87.0L207.6,86.3L204.6,87.9L201.0,92.0L204.4,91.5L205.8,90.6ZM335.6,77.6L416.0,205.6L498.8,83.8L350.4,70.8ZM237.5,101.2L233.4,107.3L233.5,107.6L236.0,107.2L236.7,106.6L238.4,104.0ZM182.3,153.6L184.8,152.5L184.3,151.1L183.3,150.1L182.6,149.9L179.4,153.3ZM201.0,145.8L197.4,148.7L197.2,148.2L198.5,144.9ZM301.4,50.9L302.8,49.3L304.0,34.9L303.2,26.7L291.8,49.7L291.0,52.3L296.7,52.3ZM301.0,67.5L298.7,70.6L304.7,69.2L305.3,68.8L305.2,68.3L301.8,66.9ZM156.5,126.6L157.9,127.4L162.2,126.5L163.6,124.0L158.3,123.4ZM222.3,120.1L225.7,117.2L225.3,115.6L220.4,116.0L217.1,119.0L220.1,121.4ZM182.3,74.1L178.8,75.2L181.1,68.9L181.3,68.8L181.9,68.6L183.8,69.2L182.5,73.8ZM331.9,52.3L335.6,54.3L341.5,48.1L332.9,51.2L331.8,51.9ZM343.9,61.4L344.2,61.1L347.4,57.2L343.9,55.2L340.2,58.2L340.0,59.2L341.9,61.6ZM184.3,151.1L188.0,146.2L190.9,145.6L187.0,153.2L186.9,153.3L184.8,152.5ZM197.1,70.8L198.3,70.2L200.4,71.4L199.7,72.4L198.1,73.9L194.6,76.4L195.1,74.7ZM301.4,50.9L302.8,49.3L304.7,48.6L305.6,50.0L304.2,51.4L301.5,51.3ZM334.1,63.2L338.9,58.6L333.9,57.0L330.9,59.1L330.6,59.5L331.5,63.6ZM193.2,97.9L194.4,97.8L189.7,104.9L186.5,105.8L186.9,101.9ZM328.9,57.3L330.9,59.1L333.9,57.0L335.6,54.3L331.9,52.3ZM117.5,80.9L115.5,78.7L117.0,76.9L119.2,76.1L120.8,76.6L119.9,80.0L118.3,81.2ZM153.0,90.1L158.1,83.6L159.6,83.9L159.9,85.2L159.6,85.5ZM197.0,132.4L200.0,132.6L197.6,134.7L196.2,133.5ZM170.6,149.3L173.5,147.5L175.4,144.3L173.7,143.5L169.7,145.1L169.5,145.4L170.3,149.2ZM174.1,92.3L175.5,89.2L174.8,87.0L172.6,89.4L172.5,91.7ZM195.3,161.0L194.5,161.0L194.4,161.2L192.0,167.7L193.5,166.8L194.9,165.5L196.1,161.2ZM264.6,92.0L266.9,89.4L269.8,89.7L266.8,94.9L263.6,93.5ZM206.8,62.4L208.2,57.5L211.3,55.7L210.9,58.6ZM131.9,22.3L128.1,25.5L128.3,25.5L134.0,22.2ZM125.6,34.0L124.3,32.2L123.3,32.9L118.4,39.1L118.6,39.2L119.8,39.5L121.6,39.3L123.3,38.2ZM273.5,78.2L272.4,78.1L269.9,79.6L267.7,82.8L268.7,83.6L274.4,81.8L275.8,80.0L273.9,78.4ZM217.3,80.1L219.4,78.9L221.4,74.9L221.4,74.9L220.6,73.9L215.4,76.1L215.3,76.2L216.4,79.8L217.1,80.1ZM162.9,139.8L161.3,141.1L159.4,140.8L158.9,140.3L159.0,139.8L162.6,135.8L165.1,136.1ZM329.4,72.9L330.0,70.9L328.8,70.0L321.3,74.5L321.2,76.9L321.4,76.9L327.6,74.0ZM143.7,108.1L142.2,110.0L140.6,111.0L140.1,110.5L141.3,105.5L141.9,104.9L143.7,108.0ZM136.7,143.1L138.6,140.2L138.2,139.5L136.2,140.7L134.7,144.5L135.5,144.0ZM217.0,125.5L216.6,125.5L214.1,123.5L215.6,119.9L217.1,119.0L220.1,121.4ZM206.6,128.0L205.1,129.7L203.4,133.3L208.0,131.6L208.2,130.9ZM204.0,58.8L199.3,61.1L198.7,61.1L198.8,57.7L199.3,56.8L199.6,56.6L204.9,55.6L204.0,58.8ZM142.7,133.5L141.9,133.4L141.6,133.5L141.5,133.5L141.7,138.7L143.8,137.0ZM150.3,53.6L152.7,54.1L150.6,58.4L150.2,58.9L150.0,59.1L147.0,57.5L149.0,54.5ZM161.7,142.9L161.1,142.1L156.3,146.8L159.0,148.5L161.1,146.8L161.9,145.0ZM256.7,100.8L257.0,101.3L254.0,103.7L253.5,104.0L251.6,103.0L252.1,102.4L255.8,100.7ZM304.1,60.3L305.4,56.8L301.3,58.6L300.4,59.8L303.3,61.0ZM174.6,103.4L172.5,107.2L172.7,107.5L175.2,107.0L176.7,103.2L174.9,103.0ZM235.1,135.6L231.4,139.0L231.5,139.5L233.8,140.2L239.7,132.9ZM188.8,133.9L190.5,132.2L193.7,131.2L192.3,134.1L186.8,138.3L186.2,138.3L186.0,138.0ZM160.4,118.7L157.2,119.5L158.9,116.1L161.5,116.5ZM109.6,44.6L109.9,41.4L115.9,38.7L116.5,39.5L114.6,41.8L109.7,44.6ZM116.5,39.5L118.4,39.1L123.3,32.9L118.8,33.5L115.9,35.6L115.9,38.7ZM296.6,58.8L293.5,61.1L290.4,60.2L289.8,55.9L297.0,56.8ZM324.2,67.9L324.2,67.9L328.0,67.6L328.7,68.7L328.8,70.0L321.3,74.5L320.8,73.8ZM254.0,103.7L255.6,104.6L254.6,105.9L251.6,107.9L253.5,104.0ZM170.7,112.9L167.6,116.7L170.1,116.9L172.2,113.2ZM346.0,63.1L346.4,61.9L347.5,60.5L350.6,60.2L348.3,62.8ZM340.8,65.9L335.9,73.6L334.9,74.4L334.7,74.4L337.1,66.3L338.2,66.0ZM338.2,66.0L337.1,66.3L336.9,66.3L336.8,66.2L340.0,59.2L341.9,61.6ZM151.0,82.5L151.2,82.2L151.1,78.3L149.2,79.2L147.5,80.7L146.5,81.9L145.2,86.1L146.4,85.8L150.4,83.0ZM144.2,164.0L137.2,179.5L114.1,212.6L41.4,296.8L-0.8,248.3L78.5,196.2L130.9,166.2L144.1,162.3ZM180.4,113.4L180.2,115.7L185.8,112.2L186.0,111.8L184.0,108.8L182.4,109.9ZM209.0,89.7L206.3,91.3L206.8,93.2L206.9,93.3L208.2,92.6L208.9,92.0L209.6,90.7ZM227.8,122.5L229.8,121.7L231.5,120.0L232.6,118.5L229.6,116.6L227.7,117.4L225.5,121.7ZM341.5,48.1L332.9,51.2L389.8,-9.2L353.5,37.1ZM196.1,101.3L198.1,98.4L196.9,97.0L194.4,97.8L189.7,104.9L192.3,105.3ZM325.9,55.4L324.3,53.8L326.0,51.2L332.2,45.2L331.2,51.7ZM157.1,67.1L161.6,64.9L161.7,64.9L162.0,65.0L162.0,65.9L158.2,70.9L157.6,71.0L157.1,67.3ZM122.9,54.0L122.9,54.3L124.2,56.5L124.7,56.5L130.7,49.6L128.8,47.3L128.7,47.2L128.1,47.4L124.3,51.5ZM314.0,53.3L310.2,56.8L313.2,58.5L316.0,53.2L315.9,52.3ZM242.5,61.4L236.3,64.9L236.3,64.9L238.0,66.6L238.3,66.7L242.6,63.8L243.3,61.8Z"/><path fill="#9c9c9c" stroke="#9c9c9c" stroke-width=".4" d="M247.6,66.2L251.7,64.1L252.4,64.3L249.0,69.0L247.7,68.7L247.3,67.2ZM161.3,47.3L163.1,46.9L165.4,44.0L165.0,43.5L160.5,46.4ZM149.1,41.2L153.1,36.7L151.8,35.5L149.0,37.2L146.6,39.8ZM309.6,78.7L306.5,81.6L308.7,84.4L310.4,82.6L312.2,80.0L312.1,79.9L311.7,79.3ZM198.3,165.2L196.9,167.6L196.8,169.3L199.1,169.2L201.2,166.5L199.9,164.1ZM211.2,126.1L214.1,123.5L216.6,125.5L212.4,127.9L211.5,128.0L211.2,127.9ZM230.4,102.7L230.4,102.5L227.5,101.3L227.4,101.3L223.4,104.8L223.2,106.1L228.0,105.2L229.7,104.5ZM163.0,165.7L164.3,166.0L167.2,165.7L169.2,163.5L169.5,162.1L165.7,163.3ZM235.8,100.6L236.3,99.3L235.0,98.5L232.6,99.7L230.4,102.5L230.4,102.7ZM172.1,101.8L172.1,101.4L172.0,101.3L170.1,101.3L166.3,102.9L165.2,103.9L165.9,107.6L166.4,107.5ZM176.3,72.1L174.8,69.6L175.3,68.7L179.1,68.7L179.5,69.4ZM287.0,66.9L285.2,70.8L283.8,68.7L284.7,67.7ZM175.4,163.9L175.3,165.5L173.2,169.1L172.9,169.4L173.1,165.5ZM196.3,117.2L199.4,111.8L196.0,112.0L194.7,115.3L194.4,117.3L194.4,117.5ZM141.9,53.1L145.7,53.6L146.2,52.9L145.9,50.2L143.4,51.1ZM108.2,68.5L111.0,67.4L113.2,62.4L111.2,62.8L109.2,64.0L107.0,68.0ZM141.2,53.7L139.4,56.3L141.6,56.9L145.7,53.6L145.7,53.6L141.9,53.1ZM180.7,89.7L178.4,91.9L177.8,91.9L177.7,87.9L179.3,86.2L181.8,85.2L181.2,88.6ZM346.0,69.0L342.2,69.9L335.9,73.6L334.9,74.4L335.4,77.6L335.6,77.6L350.4,70.8L347.3,69.0ZM180.0,144.6L183.0,142.3L184.0,143.5L181.4,147.0L179.8,144.9ZM156.5,126.6L157.9,127.4L155.5,131.2L150.2,132.1L150.1,132.0L151.2,129.9L155.0,127.4ZM323.6,50.0L326.0,51.2L324.3,53.8L321.6,55.1L320.7,54.7L321.6,51.4ZM307.9,16.8L332.3,-49.0L378.3,-124.8L438.9,-70.4L434.5,-65.5L360.5,8.8L323.5,38.5L317.7,41.7L314.9,40.1L312.9,37.8ZM196.0,111.8L196.0,112.0L194.7,115.3L189.6,114.8L189.7,114.7L193.6,112.0ZM126.4,33.8L131.0,29.1L129.1,28.5L125.9,29.9L124.3,32.2L125.6,34.0ZM313.6,74.5L318.0,70.0L317.5,74.2L316.6,74.6L314.4,75.0ZM196.2,133.5L194.1,135.4L197.1,135.6L197.6,134.7ZM179.1,68.7L178.9,66.6L175.8,65.9L175.4,66.2L175.3,68.7ZM125.3,93.8L122.7,99.9L99.9,108.0L121.9,92.6L123.2,92.8ZM221.7,126.0L221.5,126.0L222.3,120.1L225.7,117.2L227.7,117.4L225.5,121.7ZM347.5,60.5L347.4,57.2L366.9,47.8L350.6,60.2ZM163.8,169.0L163.4,170.7L160.7,172.3L156.5,171.8L160.1,168.5ZM320.1,66.0L323.0,62.5L328.0,61.6L324.2,67.9L324.2,67.9L319.2,68.1ZM148.1,133.2L150.1,132.0L151.2,129.9L150.7,128.9L147.1,128.9L141.9,133.4L142.7,133.5ZM158.2,70.9L161.9,70.7L164.1,69.2L162.0,65.9ZM310.8,74.9L313.6,74.5L314.4,75.0L311.7,79.3L309.6,78.7L309.9,75.9ZM277.4,71.7L280.1,71.1L280.8,70.2L280.5,65.2L275.8,69.7L276.4,71.8ZM324.4,46.4L323.6,50.0L326.0,51.2L332.2,45.2L342.3,30.2L325.8,44.9ZM193.3,71.7L191.1,71.9L186.8,75.5L186.2,76.4L186.2,76.4L186.0,77.7L186.3,78.9L188.0,78.5L193.0,72.2ZM245.8,115.3L251.2,109.0L251.9,109.1L252.7,111.3L246.1,116.9ZM176.8,57.6L173.4,58.2L167.5,66.5L167.4,67.3L169.3,66.7L172.5,63.7L176.6,58.7ZM144.5,77.8L144.1,78.5L147.5,80.7L149.2,79.2L147.0,75.8ZM176.6,120.7L178.2,121.3L186.1,116.5L185.8,112.2L180.2,115.7L178.3,118.0L176.6,120.6ZM340.8,65.9L335.9,73.6L342.2,69.9L340.9,65.9ZM334.1,63.2L333.9,64.4L335.2,66.8L336.8,66.2L340.0,59.2L340.2,58.2L338.9,58.6ZM191.4,168.1L193.0,169.6L193.1,172.3L192.5,173.0L189.7,170.4L190.3,168.7ZM280.9,64.6L284.0,65.6L284.0,65.7L281.1,70.0L280.8,70.2L280.5,65.2ZM230.2,73.3L226.5,77.9L221.5,78.5L221.4,78.4L226.7,73.4L230.1,72.8L230.3,73.0ZM189.0,58.4L188.1,58.2L185.8,61.2L187.0,63.0L189.6,62.5L190.4,61.4ZM158.8,155.5L160.9,158.2L161.8,158.4L165.9,151.6L159.6,155.0ZM171.4,164.2L175.9,161.2L176.8,161.3L175.4,163.9L173.1,165.5L170.5,166.7ZM280.5,48.9L300.9,28.8L279.3,53.4L278.6,53.9L277.9,53.9ZM113.2,62.3L114.6,60.7L117.5,59.5L118.9,60.2L115.4,63.3ZM170.7,112.9L170.7,112.3L170.7,112.0L171.5,111.2L175.6,108.1L176.6,107.9L177.8,108.9L177.0,111.6L175.6,113.1L172.2,113.2ZM140.5,50.9L140.4,48.8L138.3,49.6L136.3,51.8L137.3,52.8L139.8,53.1ZM252.6,88.1L256.1,81.9L255.4,81.5L248.6,87.3L248.6,89.4L251.2,88.9ZM159.8,33.4L154.3,36.7L153.1,36.7L151.8,35.5L153.2,32.2L155.7,30.9L159.4,30.8ZM196.1,156.9L196.2,152.7L197.5,152.1L203.5,151.9L203.3,152.9L199.9,155.3ZM293.5,61.1L292.9,65.2L288.0,64.5L288.0,64.4L289.1,61.9L290.4,60.2ZM302.9,89.2L300.4,92.5L291.6,99.3L294.2,92.4L298.3,88.0ZM189.0,127.6L188.8,125.6L185.1,126.9L181.7,130.3L182.8,131.4L183.0,131.6L186.1,130.2L187.9,128.9ZM188.0,174.4L192.1,173.6L192.5,173.0L189.7,170.4L187.7,173.2ZM331.2,51.7L332.2,45.2L342.3,30.2L360.5,8.8L434.5,-65.5L389.8,-9.2L332.9,51.2L331.8,51.9ZM251.8,52.5L254.1,50.5L254.7,50.6L255.3,52.8L253.1,55.5L252.8,55.6L251.8,54.3ZM239.0,52.5L244.0,50.6L245.2,49.2L241.8,47.5L238.9,50.2L238.3,51.4ZM191.3,66.9L189.4,68.2L188.2,67.3L190.0,63.4L192.3,62.5L192.7,62.5L193.2,64.4ZM223.5,50.5L223.1,52.2L221.7,54.5L221.6,54.5L220.4,53.1ZM227.4,146.8L225.1,148.1L224.2,154.1L225.5,155.5L229.2,148.8ZM340.8,65.9L338.2,66.0L341.9,61.6L343.9,61.4L342.2,64.9L340.9,65.9ZM208.7,156.4L208.7,154.0L204.4,155.3L203.8,157.9L206.4,159.0ZM192.0,54.5L193.7,54.5L197.4,53.3L217.5,13.6L191.2,54.1ZM280.5,72.8L282.5,74.1L285.2,71.2L285.2,70.8L283.8,68.7L281.1,70.0L280.8,70.2L280.1,71.1L280.1,71.9ZM255.5,92.3L255.5,91.3L258.1,88.3L258.4,89.3L257.9,91.8L257.4,92.3ZM142.0,34.8L138.9,41.2L142.3,38.6L143.5,35.5ZM318.1,53.3L320.8,51.2L321.6,51.4L320.7,54.7L319.4,54.9ZM146.8,34.4L148.3,32.7L150.1,31.6L152.3,31.2L153.2,32.2L151.8,35.5L149.0,37.2L147.1,36.0L146.7,34.8ZM147.7,75.0L147.0,75.8L149.2,79.2L151.1,78.3L151.2,78.3L151.5,73.7L151.3,73.6L150.8,73.6L147.9,74.8ZM219.7,67.6L220.0,67.0L219.8,65.7L215.9,67.6L215.8,67.8ZM169.7,110.5L169.6,111.2L170.7,112.0L171.5,111.2L172.7,107.5L172.5,107.2L171.0,108.0ZM232.2,62.6L231.5,63.3L226.8,66.9L229.4,62.5ZM329.4,72.9L330.0,70.9L335.2,66.8L336.8,66.2L336.9,66.3L331.0,75.1L330.1,74.1Z"/><path fill="#a3a3a3" stroke="#a3a3a3" stroke-width=".4" d="M298.9,68.0L295.5,72.1L294.3,72.1L294.0,69.2L294.4,66.4L295.8,65.5L299.7,64.7L299.8,65.0ZM166.4,151.2L167.2,150.9L163.9,157.3L161.8,158.4L161.8,158.4L165.9,151.6ZM150.4,83.0L146.4,85.8L147.4,87.0L151.4,87.0ZM168.3,37.7L168.6,41.6L171.0,42.5L171.3,42.3L230.5,-5.8L238.5,-14.9L170.3,33.2ZM316.3,51.5L315.9,52.3L314.0,53.3L308.2,53.5L308.3,52.6L308.9,51.7L313.9,48.5L315.8,48.8ZM124.6,83.4L123.2,86.9L110.8,92.7L113.7,90.4L123.6,83.3ZM205.1,145.2L201.0,149.1L203.8,151.0ZM334.1,63.2L333.9,64.4L328.7,68.7L328.0,67.6L331.5,63.6ZM309.3,87.2L311.0,89.0L311.4,88.8L316.6,84.7L317.2,81.0L314.4,82.3ZM182.9,94.0L184.3,93.2L186.6,89.8L184.1,89.2L184.1,89.2L181.5,93.8ZM157.1,67.1L157.0,67.0L155.0,67.3L153.3,68.3L150.8,73.6L151.3,73.6L157.1,67.3ZM122.7,145.3L138.8,135.5L138.2,139.5L136.2,140.7ZM113.2,62.4L111.0,67.4L113.9,68.7L115.8,65.2L116.0,64.8L115.4,63.3L113.2,62.3ZM136.7,143.1L139.1,142.9L138.1,146.1L135.5,144.0ZM317.2,61.9L322.7,60.2L323.0,62.5L320.1,66.0L318.2,64.8ZM192.3,127.5L195.8,128.2L195.5,129.5L193.7,131.2L190.5,132.2L189.7,130.9ZM126.8,82.2L124.6,83.4L123.6,83.3L123.0,82.2L122.8,79.7L123.1,79.5L128.7,76.5L128.9,80.1L128.9,80.5ZM304.0,34.9L302.8,49.3L304.7,48.6L307.3,46.1ZM259.4,63.5L256.5,61.1L258.5,59.7L259.3,60.0ZM196.5,67.0L196.6,66.9L197.9,66.0L198.3,65.9L200.7,67.2L200.6,67.7L198.3,70.2L197.1,70.8L195.2,69.9L195.4,69.1ZM315.7,43.9L317.7,41.7L314.9,40.1L310.4,45.8ZM113.1,29.9L112.3,31.6L109.5,33.7L106.4,34.7L97.4,36.0L83.1,37.6L112.9,28.0ZM301.5,51.3L304.2,51.4L303.3,53.5L301.2,52.7ZM137.7,61.9L139.0,61.8L134.6,68.4L131.8,68.3L131.8,68.2ZM187.9,128.9L186.1,130.2L186.6,132.9L188.8,131.2ZM320.8,48.7L321.2,48.6L324.4,46.4L325.8,44.9L319.9,46.0ZM146.7,57.7L147.0,57.5L149.0,54.5L145.9,54.7L144.1,57.0ZM175.8,85.3L176.0,85.1L180.5,82.1L184.4,80.8L182.2,84.8L181.8,85.2L179.3,86.2ZM144.6,126.3L143.1,127.7L139.3,128.8L139.6,126.0L139.6,126.0L143.7,123.7L144.6,123.4ZM177.0,76.4L178.8,75.2L181.1,68.9L179.5,69.4L176.3,72.1L174.1,74.4L175.1,75.7ZM302.9,76.8L300.9,78.3L300.5,79.2L299.4,81.9L304.3,80.7L305.7,78.9ZM117.0,46.9L121.0,45.5L121.6,39.3L119.8,39.5L116.6,46.8ZM131.9,22.3L128.3,21.8L127.8,22.1L126.8,23.2L126.8,26.1L128.1,25.5ZM203.8,151.0L201.0,149.1L197.5,152.1L203.5,151.9L203.8,151.5ZM292.9,65.2L288.0,64.5L287.4,66.6L292.9,66.3ZM129.5,33.8L131.5,29.1L132.2,28.8L136.5,29.9L134.5,31.5L129.9,34.7ZM271.5,69.5L268.3,72.3L268.2,72.5L268.2,74.2L268.6,74.2L271.0,73.1L273.7,70.8ZM233.0,62.0L233.7,61.4L232.1,59.6L229.6,61.3L229.4,62.5L232.2,62.6ZM115.9,24.9L-7.9,26.4L-26.4,26.8L-39.5,56.2L83.1,37.6L112.9,28.0ZM302.9,89.2L298.3,88.0L298.7,87.2L302.3,86.5L303.1,89.0ZM294.3,72.1L295.5,72.1L295.6,72.2L296.4,76.3L293.5,78.8L292.7,78.8L289.3,78.0L289.9,76.5L292.3,73.8ZM183.7,134.5L185.3,134.1L186.5,133.0L186.6,132.9L186.1,130.2L183.0,131.6L182.6,133.6ZM185.0,172.5L188.2,168.3L190.3,168.7L189.7,170.4L187.7,173.2L185.0,173.9L184.6,173.1ZM114.8,47.1L118.6,39.2L119.8,39.5L116.6,46.8ZM180.9,139.2L180.9,139.3L179.7,143.8L176.3,143.5L178.9,139.7ZM213.1,119.5L213.5,118.0L215.9,112.6L220.9,114.0L220.4,116.0L217.1,119.0L215.6,119.9ZM219.7,67.6L215.8,67.8L212.8,70.3L213.3,71.4L217.2,72.2L220.0,70.0ZM169.7,110.5L169.6,111.2L167.9,111.5L166.0,110.7L166.9,108.3L167.8,108.2ZM165.3,149.2L169.1,145.6L164.2,146.7L163.8,147.0L163.3,148.6ZM291.6,90.2L293.8,88.8L295.2,85.4L293.4,85.4L289.4,90.5ZM119.9,52.2L118.6,55.0L118.2,55.3L114.9,56.3L118.6,51.7ZM148.1,133.2L150.1,132.0L150.2,132.1L150.8,135.1L145.5,138.6L145.9,136.2ZM327.6,74.0L321.4,76.9L323.2,79.4L324.2,78.3ZM198.8,107.3L203.9,102.9L200.1,102.8L197.5,105.2L196.6,106.5ZM204.6,67.4L206.5,63.6L210.4,63.4L210.8,66.1L208.8,67.2ZM150.0,59.1L147.2,62.3L149.6,63.5L151.8,63.9L153.8,62.4L152.7,59.6L150.2,58.9ZM346.0,63.1L348.3,62.8L347.3,69.0L346.0,69.0L344.1,64.5ZM138.1,149.8L145.2,152.8L130.9,166.2L78.5,196.2ZM209.5,116.5L215.9,112.5L216.0,112.4L209.9,112.7L207.7,114.6L206.8,117.8ZM235.8,56.8L232.2,59.3L232.1,58.3L235.5,54.4ZM237.7,57.1L237.6,59.5L233.7,61.4L232.1,59.6L232.2,59.3L235.8,56.8ZM346.0,63.1L346.4,61.9L344.2,61.1L343.9,61.4L342.2,64.9L344.1,64.5ZM253.5,63.6L254.8,61.8L256.5,61.1L259.4,63.5L259.7,65.1L258.6,65.6ZM219.4,104.0L216.8,110.1L216.8,111.2L221.2,108.7L223.2,106.1L223.4,104.8L220.3,103.0ZM165.9,162.1L168.6,158.1L168.8,158.0L170.0,157.7L170.2,158.3L169.7,161.8L169.5,162.1L165.7,163.3ZM157.9,127.4L162.2,126.5L162.3,127.0L162.1,128.1L156.8,131.1L155.5,131.3L155.5,131.2ZM270.2,54.7L265.9,56.1L266.2,55.1L269.7,52.4L271.2,52.6ZM174.1,92.3L172.5,91.7L169.9,92.6L168.8,94.0L169.2,97.0L170.7,96.2L174.1,92.6ZM201.2,75.2L194.5,76.5L192.3,78.8L192.6,79.9L196.5,79.3L199.5,77.3L201.6,75.2ZM200.2,81.6L199.2,82.3L197.2,80.9L196.5,79.3L199.5,77.3L200.4,81.0ZM243.4,66.9L244.7,65.0L242.6,63.8L238.3,66.7L238.4,67.5L239.7,67.8L242.5,67.6ZM145.1,59.3L145.0,63.0L141.8,64.8L140.4,65.0L140.4,61.5L141.1,60.8ZM289.6,72.6L289.3,72.6L288.9,70.7L289.7,69.0L292.9,66.3L294.4,66.4L294.0,69.2ZM141.5,26.0L144.1,17.7L136.1,26.0L136.9,29.7L138.2,29.3L139.7,28.3ZM188.3,94.4L185.9,95.4L183.5,101.0L184.1,101.2L184.5,101.1L190.3,95.0L190.0,94.8ZM255.4,79.3L255.4,79.3L255.4,81.5L256.1,81.9L256.9,81.9L259.2,80.5L261.1,78.6L260.0,77.7ZM158.1,133.3L155.7,135.0L153.9,134.7L154.6,133.4L157.4,131.7L159.3,131.7ZM183.0,63.6L180.3,64.9L180.4,61.2L181.0,60.8L184.5,61.8ZM303.2,26.7L304.0,34.9L307.3,46.1L309.7,45.9L312.9,37.8L307.9,16.8L303.4,26.3ZM200.0,132.6L200.1,132.5L201.4,135.6L199.7,138.9L196.7,137.4L197.1,135.6L197.6,134.7ZM346.4,61.9L344.2,61.1L347.4,57.2L347.4,57.2L347.5,60.5ZM216.5,96.8L218.7,97.5L224.4,88.0L224.3,87.9L216.9,96.1ZM216.0,57.4L217.1,56.7L219.3,56.5L218.5,57.5L215.9,58.9ZM184.3,56.7L181.9,59.7L179.7,57.1L181.1,56.9ZM106.4,51.9L112.6,48.1L112.7,48.0L108.4,45.9L105.2,48.2L97.5,57.0Z"/><path fill="#a9a9a9" stroke="#a9a9a9" stroke-width=".4" d="M213.4,155.9L217.0,155.1L216.9,155.5L215.7,157.3L213.3,158.7L211.3,158.8L211.7,156.9L212.1,156.6ZM171.4,70.6L168.3,72.6L166.0,72.3L166.9,67.8L167.4,67.3L169.3,66.7L172.5,67.6ZM274.1,67.1L281.0,64.2L280.9,64.6L280.5,65.2L275.8,69.7L275.0,69.9ZM131.9,97.1L128.4,97.6L125.7,100.4L125.7,102.5L125.8,102.6L126.7,102.4L131.3,99.2ZM149.5,45.8L150.1,45.2L150.6,43.7L148.5,43.2L148.2,43.4L143.5,47.9L144.0,48.9ZM103.2,72.7L101.9,75.6L33.5,135.3L-78.8,225.2L-127.5,224.5L-102.5,180.9L100.0,70.9L103.7,70.2ZM152.5,124.5L150.7,128.9L151.2,129.9L155.0,127.4L154.1,123.4ZM120.9,51.8L123.9,45.4L128.1,47.4L124.3,51.5ZM185.0,172.5L183.1,170.8L180.8,173.2L181.6,174.2L184.6,173.1ZM190.1,90.7L190.1,90.3L190.4,89.7L193.2,88.6L193.7,92.4L192.8,93.2L190.3,91.1ZM179.8,79.2L186.0,77.7L186.2,76.4L180.6,77.3L180.0,78.1ZM195.1,107.4L192.3,107.7L189.7,114.7L193.6,112.0ZM148.0,49.6L147.1,52.2L148.7,51.5L148.9,49.4ZM184.6,162.8L188.5,160.8L190.4,160.9L187.9,167.8L185.6,167.9L185.0,167.4ZM159.7,104.5L159.3,104.0L160.1,100.8L165.4,97.1L167.8,98.0L160.2,104.3ZM252.7,111.3L261.2,112.1L260.9,111.4L256.0,108.2L255.4,108.1L251.9,109.1ZM112.0,72.7L106.3,72.6L107.4,69.8L108.2,68.5L111.0,67.4L113.9,68.7L114.4,70.8L114.3,71.0ZM195.3,161.0L199.4,157.2L200.2,157.8L197.6,160.8L196.1,161.2ZM142.0,34.8L141.6,34.1L142.1,33.4L145.5,30.9L148.3,32.7L146.8,34.4L143.5,35.5ZM210.0,150.2L209.8,151.6L209.2,153.6L208.7,154.0L204.4,155.3L204.3,155.0L204.4,154.2L209.8,150.3ZM113.0,82.0L113.3,80.2L112.0,80.2L111.8,80.3L109.5,83.3L104.0,97.8L104.7,97.0L109.2,91.0ZM131.9,65.2L131.4,64.2L128.1,65.7L126.6,66.5L126.5,66.7L131.1,68.8L131.8,68.3L131.8,68.2ZM252.1,102.4L253.6,99.9L250.6,99.2L248.5,103.2L248.8,104.1L249.0,104.4L251.6,103.0ZM198.7,108.5L200.6,108.5L200.5,111.0L199.4,111.8L196.0,112.0L196.0,111.8ZM160.4,173.9L160.8,174.9L92.2,270.5L53.3,318.4L41.4,296.8L114.1,212.6L141.9,184.6ZM235.5,42.9L237.2,41.4L244.4,6.7L230.8,45.0L232.8,44.7ZM230.3,73.0L230.1,72.8L232.6,67.3L236.3,64.9L238.0,66.6L233.4,71.3L233.3,71.4ZM129.9,137.7L122.4,145.5L122.7,145.3L138.8,135.5L139.6,134.6L138.2,133.0ZM296.4,76.3L293.5,78.8L292.5,80.7L293.5,82.7L295.5,81.0L298.3,76.4L297.9,76.0ZM288.0,64.5L288.0,64.4L284.9,66.5L284.7,67.7L287.0,66.9L287.4,66.6ZM171.8,72.4L168.0,74.1L168.3,72.6L171.4,70.6L171.9,71.6ZM134.6,68.4L139.0,61.8L140.4,61.5L140.4,65.0L136.3,68.7ZM204.4,102.7L203.9,102.9L198.8,107.3L198.7,108.5L200.6,108.5L203.1,106.7L204.3,103.3ZM123.6,16.3L124.8,6.8L118.3,21.4L118.5,22.4L121.1,21.6ZM126.3,58.2L131.1,56.1L132.1,59.4L126.0,64.1L125.8,63.9L125.4,59.5ZM263.0,62.4L260.7,58.7L259.3,60.0L259.4,63.5L259.7,65.1L259.9,65.1ZM188.0,78.5L190.4,78.9L186.1,84.2L185.2,84.7L182.2,84.8L184.4,80.8L186.3,78.9ZM154.3,163.7L160.9,158.2L161.8,158.4L161.8,158.4L161.6,159.2L156.7,165.1L154.3,164.3ZM252.4,64.3L253.5,63.6L258.6,65.6L249.8,72.1L249.3,71.9L249.0,69.0ZM216.8,148.4L223.5,146.4L222.5,141.9L221.9,142.0L216.6,147.2ZM316.6,74.6L312.1,79.9L312.2,80.0L314.5,79.2L318.8,74.4L317.5,74.2ZM148.2,68.4L148.8,68.2L151.8,63.9L149.6,63.5L144.5,68.0L144.4,68.4L144.5,68.5ZM54.0,167.6L131.6,120.8L131.7,120.6L130.3,119.9L126.1,119.5L113.3,123.8L80.3,147.4ZM134.7,144.5L136.2,140.7L122.7,145.3L122.4,145.5L66.2,187.1ZM239.3,53.2L243.5,51.4L244.0,50.6L239.0,52.5ZM302.3,86.5L302.3,84.7L299.1,85.2L298.7,87.2ZM227.4,134.0L226.5,133.3L227.4,131.4L231.3,127.2L233.3,129.9L228.4,133.9L227.5,134.0ZM299.8,54.5L301.2,52.7L303.3,53.5L303.4,54.2L301.9,55.6L300.4,55.8ZM163.3,31.1L161.8,33.5L159.8,33.4L159.4,30.8L160.4,29.2L165.9,23.9ZM212.7,60.2L215.9,57.5L214.9,56.7L212.3,58.9ZM183.7,134.5L185.3,134.1L185.7,138.0L180.9,139.3L180.9,139.2ZM247.6,66.2L247.5,63.3L249.0,61.8L249.6,62.0L251.7,64.1ZM118.6,51.7L118.6,50.8L115.1,52.4L112.8,56.0L112.6,56.9L114.1,56.8L114.9,56.3ZM178.9,130.8L178.9,130.8L181.7,130.3L182.8,131.4L176.2,138.1L177.0,132.7ZM186.5,86.0L187.0,85.6L186.1,84.2L185.2,84.7L185.0,86.0ZM259.0,72.6L262.2,72.5L263.7,71.0L265.2,69.1L263.9,67.6L260.2,66.7L259.6,68.0ZM118.8,33.5L121.0,29.3L125.6,28.9L125.9,29.9L124.3,32.2L123.3,32.9ZM175.4,79.6L174.8,81.0L171.9,83.2L169.7,81.7L172.4,79.7ZM197.9,66.0L196.6,66.9L196.1,64.7L196.8,62.4L198.7,61.1L199.3,61.1L198.3,64.9ZM154.0,161.1L158.4,155.8L156.2,156.6L152.3,159.6L152.1,161.5ZM274.3,54.9L274.7,54.6L277.9,53.9L278.6,53.9L278.4,56.8L277.2,59.0L273.2,61.0L270.7,59.0L271.8,57.3ZM242.6,109.7L241.5,114.2L242.4,114.1L248.6,107.7L248.2,106.1ZM154.8,136.4L149.0,140.1L148.7,140.5L148.7,141.9L151.5,140.6ZM235.5,42.9L237.2,41.4L238.0,44.6L236.2,45.9L234.6,45.1Z"/><path fill="#afafaf" stroke="#afafaf" stroke-width=".4" d="M229.6,116.6L230.5,115.5L232.0,109.2L227.3,112.4L225.3,115.6L225.7,117.2L227.7,117.4ZM131.5,79.6L128.9,80.5L126.8,82.2L127.9,85.6L129.9,84.9L132.5,81.8L132.2,80.6ZM259.4,54.5L256.3,57.8L254.9,60.8L254.8,61.8L256.5,61.1L258.5,59.7L260.0,54.1ZM154.3,164.3L156.7,165.1L156.7,166.0L151.3,174.5L151.8,167.8ZM190.0,63.4L189.6,62.5L190.4,61.4L192.0,59.5L194.1,57.7L194.7,57.5L194.5,59.1L192.3,62.5ZM216.0,57.4L217.1,56.7L217.4,54.7L215.1,56.3L214.9,56.7L215.9,57.5ZM323.0,62.5L328.0,61.6L330.6,59.5L330.9,59.1L328.9,57.3L325.7,56.8L322.7,60.2ZM239.3,108.5L239.0,108.6L237.9,110.5L238.0,110.8L238.1,111.0L241.7,109.2ZM120.3,24.5L119.3,26.6L121.6,26.9L123.8,24.5L122.2,22.4ZM234.0,141.2L270.1,135.9L271.3,142.2L235.2,146.0L229.6,144.9ZM203.5,68.5L200.6,67.7L198.3,70.2L200.4,71.4L202.8,69.8ZM151.0,82.5L153.1,84.1L153.8,85.6L153.7,85.7L151.4,87.0L151.4,87.0L150.4,83.0ZM-30.9,232.0L-18.1,237.3L123.8,132.7L127.4,129.3L131.6,120.8L54.0,167.6ZM124.2,56.5L122.9,54.3L118.7,57.8L117.5,59.5L118.9,60.2L119.2,60.3ZM138.8,75.4L137.2,74.2L136.4,73.9L131.5,79.6L132.2,80.6L136.4,78.2ZM209.8,150.3L204.4,154.2L203.3,152.9L203.5,151.9L203.8,151.5L206.0,149.8ZM218.4,139.0L218.5,141.5L215.4,143.5L215.1,142.5ZM209.1,88.1L211.9,88.3L212.2,88.1L212.7,86.8L212.5,85.2L208.2,87.0ZM186.1,84.2L190.4,78.9L192.3,78.8L192.6,79.9L192.3,80.5L187.8,85.2L187.0,85.6ZM164.0,130.1L165.8,129.6L169.4,125.1L168.5,124.3L162.3,127.0L162.1,128.1L162.0,128.9ZM195.1,63.4L196.0,62.6L196.8,62.4L196.1,64.7L194.4,65.1ZM201.2,75.2L194.5,76.5L194.6,76.4L198.1,73.9ZM197.7,119.1L191.3,123.4L190.1,123.8L190.3,121.7L190.5,120.9L194.4,117.5L196.3,117.2L198.5,117.9ZM227.6,54.8L224.8,55.7L222.1,54.5L228.0,47.8L228.9,47.5L230.1,51.8L228.6,53.9ZM176.6,120.7L172.6,124.0L169.4,125.1L168.5,124.3L168.7,123.9L173.8,119.1L176.6,120.6ZM288.6,102.8L305.4,95.6L306.0,94.1L300.4,92.5L291.6,99.3ZM203.7,62.0L204.1,58.8L208.2,57.5L206.8,62.4L206.3,63.0L205.1,63.1ZM165.2,149.9L166.4,151.2L165.9,151.6L159.6,155.0ZM182.1,95.4L181.8,97.2L181.2,98.2L178.3,98.8L178.3,98.7L179.3,97.0ZM305.0,82.1L302.3,84.7L302.3,86.5L303.1,89.0L303.7,88.6L305.4,82.1ZM151.0,82.5L151.2,82.2L154.6,80.2L154.6,81.0L153.1,84.1ZM233.3,71.4L233.4,71.3L236.9,70.9L237.1,71.7L235.4,73.3ZM136.9,60.7L136.6,58.6L134.9,59.0L133.7,59.5L131.4,64.2L131.9,65.2ZM143.5,35.5L146.8,34.4L146.7,34.8L143.6,38.5L142.3,38.6ZM150.0,163.3L153.9,162.9L154.0,161.1L152.1,161.5L150.2,163.0ZM172.2,169.8L171.6,169.9L166.9,173.3L166.3,175.8L169.2,174.5ZM224.3,126.8L229.0,124.0L229.8,121.7L227.8,122.5ZM191.9,107.6L186.0,111.8L184.0,108.8L184.2,108.5L186.5,105.8L189.7,104.9L192.3,105.3ZM170.1,132.2L168.9,132.4L167.4,134.2L168.0,137.9L169.2,138.3L170.3,136.0ZM193.2,88.6L193.7,88.2L194.2,85.7L190.8,86.6L189.3,88.4L190.4,89.7ZM215.8,67.8L215.9,67.6L219.0,62.9L218.5,61.7L217.4,61.8L216.5,62.2L211.6,66.3L211.4,70.1L212.8,70.3ZM212.3,94.4L212.1,94.7L212.8,97.5L213.9,97.7L216.5,96.8L216.9,96.1L219.0,90.0L215.0,91.2ZM140.3,75.5L142.8,71.5L144.6,72.5L144.0,73.4L140.9,75.9ZM124.9,18.4L124.6,19.8L122.2,21.7L121.1,21.6L123.6,16.3ZM145.1,59.3L141.1,60.8L142.5,58.1L144.1,57.0L146.7,57.7ZM206.2,79.6L202.7,80.3L206.3,75.8L207.9,77.2L207.7,78.1L207.1,79.0ZM166.4,77.2L165.5,77.5L163.3,75.9L166.0,72.3L168.3,72.6L168.0,74.1ZM232.6,99.7L232.7,97.6L231.5,97.2L227.5,101.3L230.4,102.5ZM129.9,137.7L122.4,145.5L66.2,187.1L-10.7,241.2L-18.1,237.3L123.8,132.7L134.3,130.2L135.4,131.8ZM134.6,68.4L131.8,68.3L131.1,68.8L127.9,72.0L129.6,75.0L133.3,73.3L135.7,72.0L136.3,68.7ZM191.3,66.9L193.2,64.4L195.1,63.4L194.4,65.1L193.2,66.4ZM159.8,136.2L158.7,135.4L156.4,137.2L156.2,138.3L158.3,138.2ZM174.8,87.0L175.3,85.8L175.8,85.3L179.3,86.2L177.7,87.9L175.5,89.2ZM154.0,163.6L149.5,165.9L148.5,167.4L151.8,167.8L154.3,164.3L154.3,163.7ZM204.3,103.3L203.1,106.7L204.0,107.4L207.2,106.6ZM115.9,30.9L116.3,31.0L120.7,28.7L121.6,26.9L119.3,26.6L117.4,27.3L115.6,30.7ZM182.3,153.6L179.4,153.3L177.0,154.8L176.6,156.2L179.0,155.8ZM195.6,167.7L193.0,169.6L191.4,168.1L192.0,167.7L193.5,166.8ZM171.0,108.0L172.5,107.2L174.6,103.4L169.4,107.7ZM112.7,48.0L108.4,45.9L109.6,44.6L109.7,44.6L113.5,45.8L113.4,47.5ZM171.8,72.4L168.0,74.1L166.4,77.2L169.6,77.2L172.3,75.1ZM157.1,77.0L160.7,72.9L163.0,76.0L159.1,78.8L157.0,78.1ZM176.6,120.7L178.2,121.3L178.0,124.3L175.6,126.7L171.3,127.9L171.6,126.5L172.6,124.0ZM138.9,79.2L137.4,82.0L141.2,82.6L141.6,82.2L144.1,78.5L144.5,77.8L140.7,77.3ZM105.5,63.2L105.1,61.7L110.5,58.5L111.2,62.8L109.2,64.0ZM145.0,63.0L146.6,62.7L144.5,68.0L144.4,68.4L141.9,69.0L141.8,64.8ZM193.7,135.7L193.7,135.8L193.2,139.0L192.7,139.5L191.8,139.8L189.5,139.3ZM172.5,91.7L172.6,89.4L169.8,90.8L169.9,92.6ZM226.1,72.5L224.5,72.5L221.4,74.9L219.4,78.9L221.4,78.4L226.7,73.4ZM241.8,47.5L238.9,50.2L232.8,50.0L236.2,45.9L238.0,44.6L244.1,42.2ZM134.4,48.1L138.6,47.2L138.3,49.6L136.3,51.8L133.3,53.3L132.1,49.8L132.1,49.7L132.4,49.5ZM316.3,51.5L315.8,48.8L319.5,45.7L319.9,46.0L320.8,48.7ZM177.8,114.7L178.3,118.0L180.2,115.7L180.4,113.4ZM179.4,153.3L182.6,149.9L181.5,148.4L178.3,150.6L176.9,154.8L177.0,154.8ZM181.2,88.6L181.8,85.2L182.2,84.8L185.2,84.7L185.0,86.0ZM132.4,49.5L132.1,49.7L130.7,49.6L128.8,47.3L135.1,45.3ZM289.6,72.6L294.0,69.2L294.3,72.1L292.3,73.8L289.2,73.7ZM216.5,152.4L212.7,155.6L212.5,155.6L211.5,154.8L212.4,153.7L215.8,151.6ZM231.5,57.9L231.4,58.0L227.8,60.7L227.9,61.4L229.6,61.3L232.1,59.6L232.2,59.3L232.1,58.3ZM272.4,78.1L269.9,79.6L268.7,79.1L268.6,74.2L271.0,73.1L273.2,76.0ZM194.5,161.0L194.2,160.1L190.4,160.9L187.9,167.8L188.0,167.8L194.4,161.2ZM249.0,61.8L249.2,61.2L253.1,59.1L255.2,58.3L252.4,61.1L249.6,62.0ZM261.5,74.0L262.2,72.5L263.7,71.0L266.0,72.7L263.4,74.9L262.0,74.8ZM267.2,96.8L266.8,94.9L269.8,89.7L272.8,88.4L279.1,89.1L278.4,93.2L276.5,96.9L273.4,97.0Z"/><path fill="#b6b6b6" stroke="#b6b6b6" stroke-width=".4" d="M125.4,59.5L125.8,63.9L120.8,64.8L122.9,61.4ZM296.6,58.8L297.0,58.9L301.3,57.5L301.9,55.6L300.4,55.8ZM176.8,161.3L175.4,163.9L175.3,165.5L177.4,164.9L178.9,160.2ZM151.2,82.2L151.1,78.3L151.2,78.3L154.3,76.4L157.1,77.0L157.0,78.1L154.6,80.2ZM252.4,64.3L253.5,63.6L254.8,61.8L254.9,60.8L252.4,61.1L249.6,62.0L251.7,64.1ZM148.1,133.2L145.9,136.2L143.8,137.0L142.7,133.5ZM289.9,76.5L289.3,78.0L282.3,84.9L280.9,85.9L281.6,78.0L284.4,76.6L285.5,76.3ZM173.9,129.6L175.6,126.7L178.0,124.3L179.3,124.8L178.6,130.1ZM190.5,120.9L186.3,120.9L187.2,116.6L187.3,116.6L194.4,117.3L194.4,117.5ZM314.6,140.0L304.8,208.5L301.5,237.5L306.8,271.2L394.3,237.8L416.0,205.6L335.6,77.6L335.4,77.6L323.7,90.3L322.0,95.8ZM226.2,48.2L224.0,49.7L220.6,51.0L224.3,46.2L226.4,48.0ZM163.1,46.9L164.5,47.8L167.5,45.8L166.0,44.0L165.4,44.0ZM158.3,138.2L159.0,139.8L158.9,140.3L154.2,142.6L153.8,140.3L156.2,138.3ZM201.9,74.9L203.8,74.0L204.3,71.5L202.8,69.8L200.4,71.4L199.7,72.4ZM260.7,98.9L262.6,99.3L260.4,103.2L258.4,103.9L258.2,103.9L257.3,103.4L257.3,101.2ZM331.5,63.6L328.0,67.6L324.2,67.9L328.0,61.6L330.6,59.5ZM144.8,73.5L147.7,75.0L147.9,74.8L149.0,70.7ZM174.8,102.6L178.3,98.8L178.3,98.7L176.4,97.0L172.1,101.4L172.1,101.8ZM170.1,132.2L168.9,132.4L168.6,131.6L171.3,127.9L175.6,126.7L173.9,129.6L171.6,131.6ZM176.9,51.3L176.0,47.9L170.9,51.7L169.3,56.0L172.9,58.1L173.2,58.2ZM182.5,73.8L188.0,70.9L189.1,69.5L189.4,68.2L188.2,67.3L183.8,69.2ZM160.2,104.3L165.2,103.9L166.3,102.9L168.4,98.4L168.4,97.7L167.8,98.0ZM163.2,162.1L165.9,162.1L165.7,163.3L163.0,165.7L161.9,166.2L161.5,164.1L162.3,162.5ZM185.0,172.5L188.2,168.3L188.0,167.8L187.9,167.8L185.6,167.9L183.1,170.8ZM233.0,62.0L232.1,67.2L230.8,67.3L231.5,63.3L232.2,62.6ZM134.4,48.1L138.7,43.0L138.3,42.3L135.1,45.3L132.4,49.5ZM242.5,53.3L243.3,54.7L246.2,52.1L245.6,49.0L245.2,49.2L244.0,50.6L243.5,51.4ZM220.9,138.1L219.7,137.3L219.7,137.2L222.9,133.4L223.7,133.3L226.5,133.3L227.4,134.0ZM211.6,66.3L216.5,62.2L214.8,60.2L212.6,60.7L210.4,63.4L210.8,66.1ZM129.9,34.7L134.5,31.5L132.9,36.7L132.7,37.0L128.7,37.1ZM135.5,144.0L134.7,144.5L66.2,187.1L-10.7,241.2L-0.8,248.3L78.5,196.2L138.1,149.8L138.6,149.3L138.1,146.1ZM165.9,129.7L171.6,126.5L172.6,124.0L169.4,125.1L165.8,129.6ZM249.8,72.1L258.6,65.6L259.7,65.1L259.9,65.1L260.2,66.7L259.6,68.0L252.7,75.8L250.3,75.7L249.8,72.5ZM179.3,124.8L178.0,124.3L178.2,121.3L186.1,116.5L187.2,116.6L186.3,120.9L184.7,122.7L184.7,122.7ZM246.2,85.1L247.0,81.3L250.5,81.3ZM187.2,145.9L186.5,144.4L186.6,144.2L190.7,143.0L192.8,143.5L192.9,143.7L190.9,145.6L188.0,146.2ZM172.2,113.2L175.6,113.1L175.2,114.1L172.8,117.8L171.1,118.6L170.1,116.9ZM163.2,162.1L168.6,158.1L168.8,158.0L166.3,156.3L163.9,157.3L161.8,158.4L161.6,159.2L162.3,162.5ZM304.1,60.3L305.4,56.8L307.8,54.3L309.1,57.1L307.3,59.7ZM125.3,93.8L122.7,99.9L125.2,100.4L125.7,100.4L128.4,97.6L129.7,95.1L126.6,93.4ZM157.1,67.1L161.6,64.9L161.0,61.9L159.7,62.8L157.8,65.3L157.0,67.0ZM181.1,68.9L179.5,69.4L179.1,68.7L178.9,66.6L180.3,64.9L183.0,63.6L181.3,68.8ZM209.1,88.1L209.0,89.7L206.3,91.3L205.8,90.6L208.0,87.0L208.2,87.0ZM116.4,24.7L118.5,22.4L121.1,21.6L122.2,21.7L122.2,22.4L120.3,24.5L116.7,26.2L116.6,26.1ZM203.5,68.5L202.8,69.8L204.3,71.5L208.8,67.2L204.6,67.4ZM108.7,75.9L103.0,75.1L101.9,75.6L33.5,135.3L100.7,84.4L105.4,80.0ZM193.7,54.5L193.8,57.4L194.1,57.7L194.7,57.5L197.1,55.7L197.4,53.9L197.4,53.3ZM164.1,113.3L166.0,110.7L166.9,108.3L166.4,107.5L165.9,107.6L165.2,108.0L160.7,112.6L159.9,113.6ZM211.3,77.2L212.4,77.7L215.3,76.2L215.4,76.1L217.2,72.2L213.3,71.4L211.5,74.1ZM146.4,165.0L144.2,164.0L137.2,179.5L145.0,170.6ZM177.2,57.3L179.4,54.4L176.9,51.3L173.2,58.2L173.4,58.2L176.8,57.6ZM202.3,83.7L200.8,81.6L200.2,81.6L199.2,82.3L198.6,82.9L196.7,86.6L198.6,88.9L200.9,87.0L201.9,85.8ZM290.4,60.2L289.1,61.9L284.0,65.6L280.9,64.6L281.0,64.2L282.7,60.2L289.5,54.8L289.8,55.9ZM168.7,120.4L168.7,123.9L168.5,124.3L162.3,127.0L162.2,126.5L163.6,124.0L164.0,123.5L166.5,121.1Z"/><path fill="#bcbcbc" stroke="#bcbcbc" stroke-width=".4" d="M184.7,122.7L184.7,122.7L185.3,125.4L185.1,126.9L181.7,130.3L178.9,130.8ZM184.5,101.1L184.1,101.2L180.8,106.3L184.2,108.5L186.5,105.8L186.9,101.9ZM122.9,61.4L120.8,64.8L117.3,68.3L119.8,62.5L120.2,62.1ZM304.2,75.7L308.4,76.6L305.7,78.9L302.9,76.8ZM184.3,56.7L181.1,56.9L182.3,55.3L184.6,56.5ZM292.9,66.3L292.9,66.3L289.7,69.0L285.2,71.2L285.2,70.8L287.0,66.9L287.4,66.6ZM132.2,28.8L133.7,27.0L136.1,26.0L136.9,29.7L136.5,29.9ZM119.9,52.2L120.9,51.8L124.3,51.5L122.9,54.0L118.6,55.0ZM126.3,58.2L125.9,57.6L124.7,56.5L124.2,56.5L119.2,60.3L119.2,60.6L120.2,62.1L122.9,61.4L125.4,59.5ZM192.0,126.9L193.4,125.1L193.7,124.5L191.3,123.4L190.1,123.8L188.8,125.6L189.0,127.6ZM191.0,70.2L195.4,69.1L196.5,67.0L195.5,67.1L190.6,69.7ZM185.9,95.4L183.5,101.0L181.6,101.4L181.2,98.2L181.8,97.2L185.8,95.2ZM273.4,52.8L276.2,49.0L276.4,46.7L272.6,51.6ZM192.3,62.5L194.5,59.1L195.4,60.6L194.9,61.3L192.7,62.5ZM174.9,103.0L176.7,103.2L180.8,101.8L181.6,101.4L181.2,98.2L178.3,98.8L174.8,102.6ZM261.7,57.8L260.7,58.7L263.0,62.4L263.9,61.5L264.8,57.8ZM220.0,70.0L222.5,69.1L220.6,73.9L215.4,76.1L217.2,72.2ZM203.7,62.0L204.1,58.8L204.0,58.8L204.0,58.8L198.3,64.9L197.9,66.0L198.3,65.9ZM181.6,174.2L181.2,175.0L177.6,177.0L176.5,175.7L176.4,174.6L179.4,173.4L180.8,173.2ZM207.7,78.1L211.3,77.2L211.5,74.1L207.9,77.2ZM137.2,74.2L142.9,71.1L144.5,68.5L144.4,68.4L141.9,69.0L136.5,72.8L136.4,73.9ZM162.9,139.8L165.1,136.1L167.4,134.2L168.0,137.9L163.3,139.6ZM235.7,109.4L234.0,112.3L233.4,113.2L230.5,115.5L232.0,109.2L233.5,107.6L236.0,107.2L236.0,108.5ZM161.8,133.4L164.0,130.1L165.8,129.6L165.9,129.7L167.1,131.3L162.6,135.0L161.7,134.6ZM228.8,67.8L226.6,67.0L226.8,66.9L231.5,63.3L230.8,67.3ZM138.8,75.4L136.4,78.2L136.6,79.6L138.9,79.2L140.7,77.3L140.9,75.9L140.3,75.5ZM113.4,47.5L113.5,45.8L114.6,41.8L116.5,39.5L118.4,39.1L118.6,39.2L114.8,47.1ZM197.5,129.9L197.0,132.4L196.2,133.5L194.1,135.4L193.7,135.7L192.3,134.1L193.7,131.2L195.5,129.5L197.5,129.8ZM123.3,38.2L121.6,39.3L121.0,45.5L121.9,45.5L123.4,45.0L125.4,42.6L128.0,37.8ZM121.0,29.3L120.7,28.7L121.6,26.9L123.8,24.5L126.8,23.2L126.8,26.1L125.6,28.9ZM135.1,45.3L128.8,47.3L128.7,47.2L132.7,42.9L137.4,41.7L138.2,41.8L138.3,42.3ZM174.1,92.3L175.5,89.2L177.7,87.9L177.8,91.9L174.1,92.6ZM273.5,78.2L276.6,74.9L280.1,71.9L280.5,72.8L273.9,78.4ZM331.0,75.2L323.4,83.5L323.0,84.4L323.7,90.3L335.4,77.6L334.9,74.4L334.7,74.4ZM91.0,62.6L-88.0,154.8L-102.5,180.9L100.0,70.9L104.6,65.9L105.5,63.2L105.1,61.7L104.9,61.7L93.9,62.1ZM174.1,92.6L177.8,91.9L178.4,91.9L178.0,94.0L172.5,97.4L170.7,96.2ZM232.3,54.9L228.6,53.9L227.6,54.8L227.5,55.2L227.5,57.8L231.5,57.7ZM163.2,162.1L168.6,158.1L165.9,162.1ZM263.0,62.4L263.9,61.5L269.5,59.7L267.6,63.5L263.9,67.6L260.2,66.7L259.9,65.1ZM307.4,61.1L308.6,61.4L313.0,59.5L313.1,59.3L313.2,58.5L310.2,56.8L309.1,57.1L307.3,59.7ZM267.7,82.8L269.9,79.6L268.7,79.1L263.9,80.8L262.1,83.0L265.7,84.5ZM218.5,61.7L224.8,55.7L222.1,54.5L221.7,54.5L221.6,54.5L219.3,56.5L218.5,57.5L217.4,61.8ZM114.9,71.8L120.4,71.3L120.5,71.4L116.9,76.5L114.8,73.2ZM146.8,27.1L146.6,25.4L145.3,25.1L141.5,26.0L139.7,28.3L141.6,29.6L143.5,28.8ZM238.0,66.6L233.4,71.3L236.9,70.9L238.4,67.5L238.3,66.7ZM304.7,69.2L297.9,76.0L296.4,76.3L295.6,72.2L298.7,70.6ZM155.0,67.3L154.6,62.0L153.8,62.4L151.8,63.9L148.8,68.2L149.6,69.1L153.3,68.3ZM288.9,70.7L286.9,73.9L289.3,72.6ZM327.7,-43.4L244.1,42.2L238.0,44.6L237.2,41.4L244.4,6.7L257.6,-37.1L310.0,-101.2L364.6,-165.8L378.3,-124.8L332.3,-49.0L328.8,-44.6ZM206.8,93.2L206.9,93.3L204.8,97.7L200.8,99.2L198.4,98.4L202.9,94.8ZM304.1,60.3L307.3,59.7L307.4,61.1L304.6,63.3L302.1,62.7L303.3,61.0ZM161.1,120.5L164.0,123.5L166.5,121.1L166.3,117.8L164.5,118.0L161.1,120.5ZM140.5,50.9L140.4,48.8L142.4,47.7L143.5,47.9L144.0,48.9L144.0,48.9ZM212.3,58.9L214.9,56.7L215.1,56.3L213.4,52.9L211.3,55.7L210.9,58.6ZM125.9,57.6L132.1,49.8L132.1,49.7L130.7,49.6L124.7,56.5ZM307.8,70.7L304.2,75.7L302.9,76.8L300.9,78.3L298.3,76.4L297.9,76.0L304.7,69.2L305.3,68.8L307.7,68.7ZM303.3,61.0L300.4,59.8L299.3,60.7L295.8,65.5L299.7,64.7L302.1,62.7Z"/><path fill="#c2c2c2" stroke="#c2c2c2" stroke-width=".4" d="M216.5,62.2L217.4,61.8L218.5,57.5L215.9,58.9L214.8,60.2ZM144.6,41.1L146.6,39.8L149.0,37.2L147.1,36.0L144.2,39.1ZM176.5,78.1L178.9,78.2L180.0,78.1L180.6,77.3L182.3,74.3L182.3,74.1L178.8,75.2L177.0,76.4ZM260.9,111.4L260.6,103.5L273.4,97.0L276.5,96.9L276.2,99.6L274.1,110.2L271.7,119.8L269.8,123.3L261.2,112.1ZM230.6,126.0L228.3,127.5L227.7,129.1L227.4,131.4L231.3,127.2L230.9,125.9ZM216.6,147.2L221.9,142.0L221.9,141.8L215.3,143.9L214.1,146.9ZM163.0,165.7L164.3,166.0L164.0,168.8L163.8,169.0L160.1,168.5L161.9,166.2ZM136.7,143.1L138.6,140.2L141.2,139.3L141.9,141.0L139.1,142.9ZM159.8,136.2L161.7,134.6L161.8,133.4L159.3,134.2L158.7,135.4ZM142.0,34.8L141.6,34.1L139.1,35.5L137.4,41.7L138.2,41.8L138.9,41.2ZM222.5,141.9L223.5,146.4L223.6,146.5L227.6,141.6L228.7,139.6L227.9,138.8ZM150.2,163.0L148.5,160.0L152.3,159.6L152.1,161.5ZM126.4,33.8L129.5,33.8L129.9,34.7L128.7,37.1L128.0,37.8L123.3,38.2L125.6,34.0ZM205.1,63.1L206.3,63.0L206.5,63.6L204.6,67.4L203.5,68.5L200.6,67.7L200.7,67.2ZM154.0,163.6L153.9,162.9L150.0,163.3L149.3,164.4L149.5,165.9ZM230.0,105.3L226.4,110.0L227.3,112.4L232.0,109.2L233.5,107.6L233.4,107.3L231.2,105.4ZM149.8,124.4L152.5,124.5L150.7,128.9L147.1,128.9L147.9,125.4L148.2,125.1ZM171.6,131.6L173.9,129.6L178.6,130.1L178.9,130.8L177.0,132.7L176.2,133.1L173.2,133.1ZM193.7,135.7L193.7,135.8L196.4,137.5L196.7,137.4L197.1,135.6L194.1,135.4L193.7,135.7ZM131.5,29.1L131.0,29.1L129.1,28.5L131.7,25.0L134.4,22.1L135.4,21.5L133.7,27.0L132.2,28.8ZM212.2,88.1L213.0,88.3L217.6,85.4L217.2,84.4L212.7,86.8ZM312.2,80.0L310.4,82.6L314.4,82.3L317.2,81.0L317.3,80.7L314.5,79.2ZM162.3,162.5L161.6,159.2L156.7,165.1L156.7,166.0L161.5,164.1ZM136.3,68.7L135.7,72.0L136.5,72.8L141.9,69.0L141.8,64.8L140.4,65.0ZM185.3,134.1L185.7,138.0L186.0,138.0L188.8,133.9L186.5,133.0ZM219.8,65.7L221.1,63.1L221.9,62.8L223.1,63.1L223.2,63.9L220.0,67.0ZM175.2,114.1L177.8,114.7L180.4,113.4L182.4,109.9L177.0,111.6L175.6,113.1ZM266.2,55.1L263.6,50.3L260.6,53.6L261.7,57.8L264.8,57.8L265.9,56.1ZM229.6,144.3L227.6,141.6L223.6,146.5L224.1,148.0L225.1,148.1L227.4,146.8L229.6,145.0ZM319.5,45.7L323.5,38.5L317.7,41.7L315.7,43.9L313.9,48.5L315.8,48.8ZM203.7,62.0L198.3,65.9L200.7,67.2L205.1,63.1ZM191.0,70.2L191.1,71.9L186.8,75.5L188.0,70.9L189.1,69.5L190.6,69.7ZM128.0,37.8L125.4,42.6L132.5,39.8L132.7,37.0L128.7,37.1ZM305.4,56.8L301.3,58.6L301.3,57.5L301.9,55.6L303.4,54.2L308.3,52.6L308.2,53.5L307.8,54.3ZM200.5,111.0L200.6,108.5L203.1,106.7L204.0,107.4L201.4,110.9ZM136.5,29.9L136.9,29.7L138.2,29.3L136.6,34.1L132.9,36.7L134.5,31.5ZM138.8,75.4L137.2,74.2L142.9,71.1L142.8,71.5L140.3,75.5ZM190.5,-62.9L245.2,-156.2L166.7,-130.8L124.8,6.8L123.6,16.3L124.9,18.4L128.4,14.6ZM109.2,91.0L104.7,97.0L110.8,92.7L113.7,90.4L119.4,84.0L117.5,82.3ZM289.2,73.7L285.5,76.3L289.9,76.5L292.3,73.8ZM216.8,148.4L223.5,146.4L223.6,146.5L224.1,148.0L217.6,153.4L216.5,152.4L215.8,151.6L216.7,148.7ZM126.4,33.8L131.0,29.1L131.5,29.1L129.5,33.8ZM207.7,169.5L215.9,158.2L233.3,178.3L284.9,283.5L228.7,316.3L206.0,199.9L205.6,183.5ZM314.8,68.1L318.2,64.8L320.1,66.0L319.2,68.1L318.6,68.6L314.3,69.8ZM203.4,133.3L201.4,135.6L199.7,138.9L199.7,139.6L208.3,138.2L209.2,137.5L209.7,135.6L209.4,134.5L208.0,131.6ZM131.3,223.5L174.7,180.2L177.8,178.5L179.5,178.6L179.6,179.1L59.4,335.3L53.3,318.4L92.2,270.5Z"/><path fill="#c9c9c9" stroke="#c9c9c9" stroke-width=".4" d="M198.7,108.5L196.0,111.8L193.6,112.0L195.1,107.4L196.6,106.5L198.8,107.3ZM232.5,134.9L235.1,135.6L231.4,139.0L228.7,139.6L227.9,138.8L228.4,137.5ZM163.3,75.9L163.0,76.0L160.7,72.9L161.9,70.7L164.1,69.2L166.9,67.8L166.0,72.3ZM144.0,48.9L144.0,48.9L149.5,45.8L147.6,49.3L145.9,50.2L143.4,51.1ZM139.1,35.5L138.7,35.6L136.6,34.1L138.2,29.3L139.7,28.3L141.6,29.6L142.1,33.4L141.6,34.1ZM178.7,94.4L178.1,94.4L176.4,97.0L178.3,98.7L179.3,97.0ZM255.2,58.3L252.4,61.1L254.9,60.8L256.3,57.8ZM213.8,142.2L209.5,145.8L209.4,146.9L212.0,148.1L212.2,148.0L214.1,146.9L215.3,143.9L215.4,143.5L215.1,142.5ZM170.7,112.0L170.7,112.3L164.8,115.0L164.6,114.8L167.9,111.5L169.6,111.2ZM204.0,58.8L199.3,61.1L198.3,64.9ZM291.0,52.3L291.8,49.7L284.4,52.8L278.4,56.8L277.2,59.0L281.7,60.4L282.7,60.2L289.5,54.8ZM260.6,53.6L260.0,54.1L258.5,59.7L259.3,60.0L260.7,58.7L261.7,57.8ZM167.1,131.3L165.9,129.7L171.6,126.5L171.3,127.9L168.6,131.6ZM158.8,155.5L159.0,153.8L160.8,151.7L165.2,149.5L165.2,149.9L159.6,155.0L158.8,155.5ZM133.2,40.4L132.7,42.9L128.7,47.2L128.1,47.4L123.9,45.4L123.4,45.0L125.4,42.6L132.5,39.8ZM299.8,54.5L301.2,52.7L301.5,51.3L301.4,50.9L296.7,52.3L298.0,55.2ZM226.2,48.2L223.1,52.2L223.5,50.5L224.0,49.7ZM222.9,109.8L228.0,105.2L223.2,106.1L221.2,108.7ZM158.2,70.9L161.9,70.7L160.7,72.9L157.1,77.0L154.3,76.4L156.1,72.4L157.6,71.0ZM138.9,79.2L137.4,82.0L135.0,83.8L133.1,81.8L136.6,79.6ZM164.6,63.7L166.9,64.1L167.5,66.5L167.4,67.3L166.9,67.8L164.1,69.2L162.0,65.9L162.0,65.0ZM179.9,15.5L248.5,-26.8L257.6,-37.1L310.0,-101.2L166.9,14.9L162.7,20.4L163.0,22.3L165.5,23.1L166.5,23.0ZM119.9,52.2L120.9,51.8L123.9,45.4L123.4,45.0L121.9,45.5L118.6,50.8L118.6,51.7ZM242.6,107.7L242.1,109.1L241.7,109.2L239.3,108.5L240.9,105.9L241.4,105.8ZM147.2,62.3L149.6,63.5L144.5,68.0L146.6,62.7ZM-33.6,231.3L-49.6,227.5L89.8,113.6L99.9,108.0L122.7,99.9L125.2,100.4ZM159.3,131.7L157.4,131.7L156.8,131.1L162.1,128.1L162.0,128.9ZM140.5,50.9L144.0,48.9L143.4,51.1L141.9,53.1L141.2,53.7L139.8,53.1ZM246.9,57.8L246.8,59.2L249.4,59.8L252.8,55.6L251.8,54.3ZM254.0,103.7L255.6,104.6L257.3,103.4L257.3,101.2L257.0,101.3ZM229.4,62.5L226.8,66.9L226.6,67.0L224.0,68.1L224.7,65.1L227.9,61.4L229.6,61.3Z"/><path fill="#cfcfcf" stroke="#cfcfcf" stroke-width=".4" d="M204.0,58.8L204.9,55.6L214.9,43.7L214.7,50.5L213.4,52.9L211.3,55.7L208.2,57.5L204.1,58.8ZM179.3,79.8L180.5,82.1L184.4,80.8L186.3,78.9L186.0,77.7L179.8,79.2ZM229.6,144.9L235.2,146.0L229.2,148.8L227.4,146.8L229.6,145.0ZM176.0,81.4L178.9,78.2L180.0,78.1L179.8,79.2L179.3,79.8L176.8,81.7ZM192.8,143.5L192.7,139.5L191.8,139.8L190.6,141.4L190.7,143.0ZM204.3,71.5L203.8,74.0L204.4,74.1L206.5,73.8L211.4,70.1L211.6,66.3L210.8,66.1L208.8,67.2ZM184.3,151.1L188.0,146.2L187.2,145.9L183.3,150.1ZM145.9,136.2L145.5,138.6L145.2,139.3L142.0,141.0L141.9,141.0L141.2,139.3L141.7,138.7L143.8,137.0ZM204.3,82.2L206.2,79.6L207.1,79.0L207.6,80.6L205.8,82.1ZM118.0,56.5L118.7,57.8L117.5,59.5L114.6,60.7L114.6,59.8ZM227.3,112.4L226.4,110.0L223.1,111.3L220.9,114.0L220.4,116.0L225.3,115.6ZM169.2,97.0L168.4,97.7L167.8,98.0L165.4,97.1L165.8,94.7L168.8,94.0ZM170.7,112.9L170.7,112.3L164.8,115.0L164.5,118.0L166.3,117.8L167.6,116.7ZM230.9,125.9L231.3,127.2L233.3,129.9L234.9,129.3L242.9,125.0L236.1,121.7L232.0,124.8ZM259.0,72.6L254.0,76.5L252.7,75.8L259.6,68.0ZM253.1,55.5L252.8,55.6L249.4,59.8L249.2,61.2L253.1,59.1L254.7,55.4ZM227.4,58.8L227.5,57.8L227.5,55.2L221.9,62.8L223.1,63.1L227.2,59.9ZM267.9,67.7L265.2,69.1L263.9,67.6L267.6,63.5ZM192.3,107.7L189.7,114.7L189.6,114.8L187.3,116.6L187.2,116.6L186.1,116.5L185.8,112.2L186.0,111.8L191.9,107.6ZM208.2,92.6L209.4,95.8L205.8,98.1L204.8,97.7L206.9,93.3ZM206.5,63.6L210.4,63.4L212.6,60.7L212.7,60.2L212.3,58.9L210.9,58.6L206.8,62.4L206.3,63.0ZM250.5,81.3L251.5,80.9L254.1,78.8L254.0,76.5L252.7,75.8L250.3,75.7L246.9,79.6L246.5,80.5L247.0,81.3ZM230.5,94.6L226.9,100.1L221.2,101.0L221.4,99.7L227.4,95.4L230.5,94.5ZM177.0,111.6L177.8,108.9L180.8,106.3L184.2,108.5L184.0,108.8L182.4,109.9ZM251.5,80.9L254.1,78.8L255.4,79.3L255.4,81.5L248.6,87.3L248.2,87.1ZM275.0,69.9L275.8,69.7L276.4,71.8L273.2,76.0L271.0,73.1L273.7,70.8ZM314.6,140.0L310.5,89.6L311.0,89.0L311.4,88.8L322.0,95.8ZM271.8,57.3L270.7,59.0L269.5,59.7L263.9,61.5L264.8,57.8L265.9,56.1L270.2,54.7Z"/><path fill="#d6d6d6" stroke="#d6d6d6" stroke-width=".4" d="M213.1,107.1L219.4,104.0L216.8,110.1L212.3,109.0L212.5,107.6ZM195.1,74.7L194.6,76.4L194.5,76.5L192.3,78.8L190.4,78.9L188.0,78.5L193.0,72.2ZM144.2,39.1L147.1,36.0L146.7,34.8L143.6,38.5ZM170.1,132.2L170.3,136.0L173.2,133.1L171.6,131.6ZM215.9,67.6L219.0,62.9L221.1,63.1L219.8,65.7ZM193.2,64.4L192.7,62.5L194.9,61.3L196.0,62.6L195.1,63.4ZM313.9,63.0L313.0,59.5L308.6,61.4L305.7,66.6L305.2,68.3L305.3,68.8L307.7,68.7ZM139.1,35.5L138.7,35.6L133.2,40.4L132.7,42.9L137.4,41.7ZM197.2,80.9L193.9,83.8L192.3,84.0L192.3,80.5L192.6,79.9L196.5,79.3ZM206.3,91.3L206.8,93.2L202.9,94.8L204.4,91.5L205.8,90.6ZM231.5,57.7L227.5,57.8L227.4,58.8L231.4,58.0L231.5,57.9ZM186.9,175.5L185.5,178.5L191.7,176.9L192.1,173.6L188.0,174.4ZM242.5,67.6L239.7,67.8L238.9,71.4L239.4,71.4ZM227.2,59.9L223.1,63.1L223.2,63.9L224.7,65.1L227.9,61.4L227.8,60.7ZM141.6,82.2L146.5,81.9L145.2,86.1L143.0,87.7L138.2,89.2L137.9,89.0L137.9,88.6L141.2,82.6ZM123.2,90.3L123.2,86.9L110.8,92.7L104.7,97.0L104.0,97.8L89.8,113.6L99.9,108.0L121.9,92.6L122.9,91.0Z"/><path fill="#dcdcdc" stroke="#dcdcdc" stroke-width=".4" d="M145.1,59.3L145.0,63.0L146.6,62.7L147.2,62.3L150.0,59.1L147.0,57.5L146.7,57.7ZM314.8,68.1L315.0,62.7L313.9,63.0L307.7,68.7L307.8,70.7L311.8,71.6L314.3,69.8ZM196.0,62.6L196.8,62.4L198.7,61.1L198.8,57.7L195.4,60.6L194.9,61.3ZM109.9,41.4L109.8,41.3L109.8,41.3L114.1,36.2L115.9,35.6L115.9,35.6L115.9,38.7ZM183.1,-50.0L175.3,-37.2L126.1,19.4L125.5,19.5L128.4,14.6L190.5,-62.9ZM226.1,72.5L224.5,72.5L223.8,69.1L223.7,68.4L224.0,68.1L226.6,67.0L228.8,67.8ZM176.6,120.6L178.3,118.0L177.8,114.7L175.2,114.1L172.8,117.8L173.8,119.1ZM178.6,130.1L179.3,124.8L184.7,122.7L178.9,130.8L178.9,130.8ZM254.7,55.4L253.1,59.1L255.2,58.3L256.3,57.8L259.4,54.5ZM274.1,67.1L281.0,64.2L282.7,60.2L281.7,60.4L273.1,66.1L273.2,66.2ZM267.0,88.7L266.9,89.4L269.8,89.7L272.8,88.4L273.1,83.7L269.6,85.8ZM198.4,140.8L196.9,142.0L192.9,143.7L192.8,143.5L192.7,139.5L193.2,139.0L196.4,137.5L196.7,137.4L199.7,138.9L199.7,139.6ZM276.2,99.6L276.5,96.9L278.4,93.2L286.0,88.4L293.3,85.4L293.4,85.4L289.4,90.5Z"/><path fill="#e2e2e2" stroke="#e2e2e2" stroke-width=".4" d="M138.7,35.6L133.2,40.4L132.5,39.8L132.7,37.0L132.9,36.7L136.6,34.1ZM190.3,121.7L185.3,125.4L184.7,122.7L186.3,120.9L190.5,120.9ZM140.4,48.8L142.4,47.7L144.0,43.6L143.5,42.4L140.6,43.7L138.6,47.2L138.3,49.6ZM253.2,44.0L245.6,49.0L246.2,52.1L249.0,51.7ZM309.1,57.1L310.2,56.8L314.0,53.3L308.2,53.5L307.8,54.3Z"/><path fill="#e9e9e9" stroke="#e9e9e9" stroke-width=".4" d="M212.6,60.7L212.7,60.2L215.9,57.5L216.0,57.4L215.9,58.9L214.8,60.2ZM197.4,53.3L197.4,53.9L202.9,51.1L208.8,45.8L217.4,37.1L224.9,22.0L241.1,-17.7L238.5,-14.9L230.5,-5.8L225.6,0.3L223.7,3.0L217.5,13.6ZM129.6,75.0L128.7,76.5L128.9,80.1L133.3,73.3ZM113.1,29.9L112.3,31.6L115.6,30.7L117.4,27.3L116.7,26.2L116.6,26.1ZM197.5,105.2L200.1,102.8L200.8,99.2L198.4,98.4L198.1,98.4L196.1,101.3ZM212.5,85.2L217.1,80.1L217.3,80.1L217.2,84.4L212.7,86.8Z"/><path fill="#efefef" stroke="#efefef" stroke-width=".4" d="M165.8,94.7L167.7,90.2L167.4,89.1L164.9,89.5L162.6,92.6L161.5,96.7ZM221.6,140.5L221.9,141.8L215.3,143.9L215.4,143.5L218.5,141.5L221.5,140.4Z"/><path fill="#f5f5f5" stroke="#f5f5f5" stroke-width=".4" d="M113.0,82.0L113.3,80.2L115.5,78.7L117.5,80.9ZM183.8,69.2L188.2,67.3L190.0,63.4L189.6,62.5L187.0,63.0L181.9,68.6ZM118.6,55.0L122.9,54.0L122.9,54.3L118.7,57.8L118.0,56.5L118.2,55.3ZM135.0,83.9L135.0,83.8L137.4,82.0L141.2,82.6L137.9,88.6L137.5,88.4L135.0,83.9ZM213.3,158.7L207.7,165.9L207.7,169.5L215.9,158.2L215.7,157.3ZM268.2,74.2L265.1,76.6L264.8,77.0L263.9,79.6L263.9,80.8L268.7,79.1L268.6,74.2ZM317.2,61.9L322.7,60.2L325.7,56.8L325.9,55.4L324.3,53.8L321.6,55.1L316.8,61.8Z"/><path fill="#fcfcfc" stroke="#fcfcfc" stroke-width=".4" d="M180.5,165.7L175.5,168.4L173.2,169.1L175.3,165.5L177.4,164.9L181.1,165.0ZM144.1,17.7L146.7,11.9L146.7,11.7L135.4,21.5L133.7,27.0L136.1,26.0Z"/></g></g><ellipse cx="337" cy="60" rx="14" ry="13" fill="#fa8e2d" fill-opacity=".8" filter="url(#bl)"/><path d="M318,58l6,3l3,-4l-5,-3zM333,55l4,2l1,-3zM309,50l5,3l2,-4z" fill="#e9161a" fill-opacity=".8"/></g><path d="M113.1,24.1L115.1,22.5L121.2,20.1L127.2,17.7L131.2,19.7L139.3,25.1L146.3,31.1L148.9,34.2L147.7,29.1L146.9,25.1L150.3,21.1L155.4,18.1L161.4,16.0L164.4,15.0L165.0,18.1L164.4,23.1L165.4,28.1L165.8,34.2L167.4,38.2L172.5,44.2L177.5,48.2L183.5,52.3L189.6,54.3L195.6,53.3L200.0,54.1L208.0,54.1L216.1,50.1L224.1,48.1L232.2,44.1L237.2,41.7L243.3,43.1L248.3,44.1L254.3,47.1L258.4,50.1L261.4,55.2L267.4,56.2L269.4,53.1L275.5,50.1L280.5,53.1L280.5,59.2L286.5,63.2L293.6,67.2L296.6,62.2L297.6,55.2L303.3,49.1L310.3,43.1L318.4,38.0L320.5,44.0L325.5,49.4L335.5,51.3L352.6,54.1L348.6,62.2L343.5,70.2L339.5,75.3L335.5,80.3L325.4,82.3L319.4,84.3L315.4,88.4L309.3,93.4L304.3,95.4L300.3,96.8L305.3,92.8L309.3,90.4L306.3,89.4L298.3,90.0L291.2,90.4L288.2,89.4L287.6,84.3L289.2,79.3L285.2,79.3L280.2,80.3L275.1,83.3L270.1,88.4L269.1,94.4L270.4,100.1L267.4,102.5L260.4,104.1L255.3,107.1L252.3,110.1L247.3,113.1L240.2,117.2L235.2,122.2L232.2,127.2L230.2,133.3L235.2,137.3L236.2,141.3L233.2,145.3L226.2,149.4L222.1,152.4L222.1,155.4L215.1,160.4L210.5,160.3L206.5,164.3L199.4,168.4L192.4,172.4L187.3,176.4L184.3,180.0L180.3,179.4L173.3,178.4L165.2,177.4L159.2,175.4L155.2,171.4L150.1,168.4L145.1,167.3L140.1,170.4L138.0,168.4L144.1,163.3L142.1,158.3L141.1,151.2L137.0,144.2L134.0,136.2L130.0,129.1L128.2,122.2L129.2,116.2L128.2,111.1L125.2,106.1L120.2,102.1L119.1,98.1L121.2,93.0L122.2,88.0L119.1,85.5L112.1,83.5L107.1,82.4L105.1,76.4L103.0,70.4L104.1,65.3L108.1,61.3L109.1,56.3L110.1,51.3L108.1,48.2L105.1,45.2L109.1,38.2L112.1,33.2L114.1,28.1Z" fill="none" stroke="#111" stroke-width="1.05" stroke-linejoin="round"/></g>
<g transform="translate(0,187)"><g clip-path="url(#cp)"><g transform="rotate(40 225 100)" filter="url(#fc)"><g transform="rotate(-40 225 100)"><rect x="60" y="-20" width="340" height="240" fill="#8f8f8f"/><path fill="#030303" stroke="#030303" stroke-width=".4" d="M130.9,123.0L129.6,127.1L131.5,126.9L133.9,122.5ZM177.3,73.6L175.2,68.7L175.2,68.7L171.1,75.6L171.2,76.3L175.2,75.3ZM136.1,109.3L133.5,109.1L133.0,109.2L133.0,109.3L134.2,114.3L135.9,112.1L136.2,109.6ZM148.9,159.2L153.7,160.8L153.5,162.2L153.3,162.4L149.9,165.8L146.5,166.4L145.7,163.6ZM224.1,89.4L223.8,89.4L224.0,84.5L224.0,84.4L225.4,83.7L226.4,85.7L225.7,87.5ZM122.9,114.3L118.4,119.3L127.6,115.8L133.0,109.3L133.0,109.2L132.8,108.0ZM114.0,44.8L114.8,43.8L114.9,43.5L111.1,40.5L110.4,40.7L109.7,42.6L110.9,46.4L111.9,46.2Z"/><path fill="#0a0a0a" stroke="#0a0a0a" stroke-width=".4" d="M151.9,23.0L152.1,21.8L153.5,20.0L156.4,17.0L156.3,20.8L153.3,24.0ZM136.2,120.0L131.1,119.6L130.1,120.9L130.9,123.0L133.9,122.5L135.1,121.5ZM237.8,91.9L239.8,91.3L241.4,94.3L241.3,95.3L240.0,96.2L236.3,93.0ZM224.1,89.4L225.7,87.5L230.3,83.9L230.4,83.9L230.8,85.5L229.8,86.7L224.9,89.9Z"/><path fill="#101010" stroke="#101010" stroke-width=".4" d="M136.8,119.1L136.3,119.9L138.5,120.3L142.3,117.6L142.4,117.4L140.0,116.3ZM155.8,58.9L157.6,56.1L160.5,53.7L163.3,54.4L158.8,60.3L156.7,59.7ZM142.3,117.6L138.5,120.3L138.0,122.3L140.0,122.7L142.7,120.7ZM157.0,29.1L149.9,34.1L152.3,35.2L152.4,35.2L158.4,32.2ZM155.2,42.3L156.4,41.4L157.9,40.1L158.8,39.0L159.2,38.5L160.8,35.5L159.8,32.0L159.6,32.0L158.4,32.2L152.4,35.2L153.1,42.7ZM155.2,42.3L156.4,41.4L158.7,44.8L157.9,47.0L156.6,48.1L154.7,45.6L155.0,42.7ZM158.8,49.7L156.5,48.5L156.6,48.1L157.9,47.0L161.8,44.8L162.0,44.7L163.1,45.1L159.6,49.5ZM162.5,50.8L159.8,50.1L157.4,53.7L157.1,54.2L157.6,56.1L160.5,53.7ZM149.8,67.7L149.0,68.4L150.2,71.6L155.5,67.8L154.3,65.8L150.1,67.5ZM153.0,170.4L145.3,176.3L149.9,165.8L153.3,162.4L155.9,166.8ZM161.1,160.6L162.1,160.6L158.8,165.9L157.1,166.2L159.7,161.5ZM248.8,53.8L244.4,53.3L241.9,56.2L241.1,60.7L242.7,60.5L246.4,58.0Z"/><path fill="#161616" stroke="#161616" stroke-width=".4" d="M156.4,51.6L157.4,53.7L159.8,50.1L159.6,49.5L158.8,49.7ZM106.7,41.0L110.5,33.8L112.2,34.5L109.4,40.5L108.6,40.8ZM232.7,92.5L238.6,88.6L240.2,86.4L241.0,83.4L239.4,84.2L232.7,91.7ZM148.0,64.7L152.0,61.2L149.8,67.7L149.0,68.4L147.5,68.9L147.3,68.4Z"/><path fill="#1d1d1d" stroke="#1d1d1d" stroke-width=".4" d="M227.5,76.4L228.1,76.1L231.2,77.1L230.6,79.4L230.0,80.1L225.1,80.4L224.9,79.5L226.3,77.7ZM233.6,85.1L230.3,89.6L230.0,90.4L231.4,90.4L235.4,85.2L234.2,84.8ZM125.5,110.8L132.5,105.6L130.0,105.0L126.9,106.5ZM230.0,90.4L225.3,93.1L225.3,92.8L229.8,87.6L230.3,89.6ZM163.5,111.1L164.9,105.6L167.9,106.1L166.5,109.0L164.0,112.2ZM230.4,83.9L235.7,80.5L235.9,80.6L234.2,84.8L233.6,85.1L230.8,85.5ZM157.1,27.6L149.3,33.9L149.9,34.1L157.0,29.1ZM157.9,47.0L158.7,44.8L161.8,44.8ZM230.3,83.9L229.8,82.3L226.4,85.7L225.7,87.5ZM157.6,170.6L158.0,171.0L162.0,168.0L163.5,166.6L162.8,164.7L159.6,165.9ZM108.6,40.8L105.0,46.2L107.0,46.0L109.7,42.6L110.4,40.7L109.4,40.5ZM146.5,155.2L147.7,152.5L148.2,152.1L150.1,151.5L154.6,151.0L151.7,154.4L146.5,155.6ZM190.1,143.3L187.1,143.3L190.7,138.5L191.4,138.5L191.8,139.7L190.1,143.3ZM235.4,57.3L230.9,55.3L230.6,54.9L230.7,54.8L235.5,52.5L237.3,54.0L235.4,57.3ZM234.2,84.8L235.9,80.6L243.4,78.7L243.0,80.7L241.1,83.2L241.0,83.4L239.4,84.2L235.4,85.2ZM136.8,117.3L139.0,115.3L140.1,115.9L140.0,116.3L136.8,119.1ZM111.8,68.3L112.1,73.0L109.9,75.2L109.5,75.3L107.8,74.4L111.5,68.3ZM162.3,146.6L165.6,148.9L158.0,155.2L157.2,149.7L157.3,149.5ZM111.5,68.3L107.8,74.4L103.9,75.1L108.5,68.1L110.1,67.9ZM133.0,105.5L132.5,105.6L125.5,110.8L122.9,114.3L132.8,108.0L133.1,106.1Z"/><path fill="#232323" stroke="#232323" stroke-width=".4" d="M130.0,25.6L131.5,26.5L129.7,30.3L125.1,29.7L125.1,29.7L129.8,25.7ZM130.1,120.9L102.6,141.3L-36.7,230.2L-38.0,229.7L38.6,172.7L43.8,169.1L118.4,119.3L127.6,115.8L132.4,116.5L131.1,119.6ZM129.8,25.7L125.1,29.7L124.5,29.4L126.7,24.5L127.3,24.2ZM182.1,107.6L183.6,104.0L186.4,101.9L189.3,101.8L188.2,104.6ZM146.5,155.6L151.7,154.4L148.9,159.2L147.1,159.5L145.5,156.9ZM223.8,89.4L223.3,89.6L221.3,88.7L221.0,86.1L224.0,84.5ZM162.9,50.6L162.5,50.8L159.8,50.1L159.6,49.5L163.1,45.1L163.7,44.8L165.3,45.9L163.8,49.7ZM115.8,49.1L113.5,49.6L113.0,50.3L113.8,53.9L115.1,53.6ZM282.7,80.7L290.3,78.0L290.8,80.7L280.3,86.7ZM157.2,149.7L158.0,155.2L157.9,156.0L153.7,160.8L148.9,159.2L148.9,159.2L151.7,154.4L154.6,151.0L154.7,150.8ZM157.6,170.6L158.0,171.0L157.6,172.0L121.2,204.9L145.3,176.3L153.0,170.4Z"/><path fill="#292929" stroke="#292929" stroke-width=".4" d="M230.0,90.4L225.3,93.1L223.6,95.8L224.2,96.1L227.4,96.2L231.9,93.6L232.5,93.0L232.7,92.5L232.7,91.7L231.4,90.4ZM126.3,18.1L124.2,18.9L125.5,16.0L128.2,16.4ZM261.3,68.8L260.3,66.6L257.6,69.3L256.9,70.6L257.3,71.3ZM203.1,88.2L201.1,90.1L195.0,88.9L196.8,87.0L197.8,86.4L199.4,85.8L203.2,87.5ZM152.4,75.4L154.9,78.3L157.4,75.0L157.4,72.9ZM194.7,140.9L191.8,139.7L190.1,143.3ZM165.9,155.9L163.2,160.2L164.1,160.9L170.1,154.4ZM148.4,148.3L149.8,146.4L144.8,148.3L144.3,148.7L144.4,151.4L144.5,151.4ZM156.4,51.6L154.3,53.1L154.1,50.7L156.5,48.5L158.8,49.7ZM116.1,78.7L120.9,76.1L117.8,73.8L115.6,75.6L114.9,78.9ZM119.6,27.2L120.1,27.9L121.4,27.6L124.7,24.3L124.6,23.4L122.0,23.0L120.7,24.8ZM170.0,85.1L171.2,82.8L172.5,81.9L176.4,83.3L175.8,83.9L170.0,86.2L169.9,86.0ZM263.4,68.4L266.3,66.0L267.3,68.2L266.5,72.1L262.1,71.6L262.0,70.6ZM187.2,86.4L189.1,84.6L189.4,80.4L188.2,80.7L185.8,82.3L184.9,83.3L184.7,83.7L183.9,86.9ZM200.7,166.8L200.1,168.0L196.3,173.0L193.9,171.7L193.5,168.8L198.9,165.6L199.8,165.8ZM203.1,161.4L199.8,165.8L198.9,165.6L200.0,160.3L200.8,159.6ZM236.3,93.0L235.3,93.6L233.9,98.4L234.8,98.9L239.6,96.6L240.0,96.2ZM156.5,142.9L161.2,140.4L161.3,138.1L157.9,138.4L155.6,142.9ZM106.7,41.0L-50.0,79.2L-47.3,73.6L104.8,31.6L109.1,32.8L110.5,33.8ZM244.4,89.3L241.4,94.3L239.8,91.3L241.8,88.9L242.6,88.6Z"/><path fill="#303030" stroke="#303030" stroke-width=".4" d="M134.7,27.6L133.7,24.9L131.5,26.5L129.7,30.3L129.9,31.8ZM136.2,120.0L135.1,121.5L135.9,123.8L138.0,122.3L138.5,120.3L136.3,119.9ZM142.4,161.8L141.2,165.2L141.4,165.5L142.2,165.9L145.7,163.6L148.9,159.2L148.9,159.2L147.1,159.5ZM152.4,75.4L157.4,72.9L159.2,69.7L154.1,72.1L150.2,75.4ZM257.6,69.3L256.2,66.3L256.4,66.1L260.4,66.4L260.3,66.6ZM235.4,85.2L239.4,84.2L232.7,91.7L231.4,90.4ZM108.2,47.7L110.9,46.4L109.7,42.6L107.0,46.0ZM145.2,26.3L145.5,25.8L150.4,24.4L148.9,26.7L147.6,27.5ZM180.4,100.0L179.5,100.4L178.0,103.0L178.0,103.8L178.0,104.4L179.7,104.9L181.6,103.7L182.8,101.1ZM203.6,167.7L200.1,168.0L200.7,166.8L202.0,165.8L204.9,165.5ZM150.2,75.4L149.4,75.7L149.4,73.9L150.2,71.6L155.5,67.8L155.6,67.8L154.1,72.1ZM223.9,82.3L220.3,82.3L223.1,80.3L224.9,79.5L225.1,80.4ZM189.0,87.8L192.3,83.6L189.1,84.6L187.2,86.4L188.1,87.7ZM190.0,91.5L189.0,87.8L188.1,87.7L183.6,91.0L183.5,92.2L189.9,92.6ZM157.6,172.0L160.3,173.6L159.7,175.0L50.8,284.6L86.7,242.9L121.2,204.9ZM230.3,83.9L229.8,82.3L229.8,80.5L230.0,80.1L230.6,79.4L235.7,78.4L235.7,80.5L230.4,83.9ZM196.8,87.0L197.8,86.4L202.0,80.5L197.0,83.0ZM196.0,141.0L194.7,140.9L190.1,143.3L190.1,143.3L189.6,145.2L191.9,146.8L196.1,142.9L196.2,141.0ZM240.2,86.4L241.8,88.9L239.8,91.3L237.8,91.9L238.6,88.6ZM190.0,91.5L194.9,81.8L196.0,81.7L197.0,83.0L196.8,87.0L195.0,88.9L190.7,92.5L190.1,92.7L189.9,92.6L189.9,92.6ZM154.1,72.1L155.6,67.8L159.9,65.9L159.9,69.0L159.2,69.7ZM241.0,83.4L241.1,83.2L245.1,85.7L242.6,88.6L241.8,88.9L240.2,86.4ZM247.9,83.3L246.5,80.4L252.8,77.2L251.2,80.0ZM138.7,110.4L135.9,112.1L134.2,114.3L133.2,115.9L134.1,115.7L138.4,113.9L139.4,113.0ZM134.2,114.3L133.2,115.9L132.4,116.5L127.6,115.8L133.0,109.3ZM248.8,53.8L244.4,53.3L245.3,51.1L253.6,48.9L252.0,51.8ZM247.6,84.7L245.1,85.7L241.1,83.2L243.0,80.7L246.5,80.4L247.9,83.3ZM160.1,23.0L161.2,22.6L165.5,25.8L159.8,32.0L159.6,32.0ZM144.4,111.1L141.2,111.8L139.4,113.0L138.4,113.9L139.0,115.3L140.1,115.9L144.4,111.1Z"/><path fill="#363636" stroke="#363636" stroke-width=".4" d="M158.9,23.8L155.7,25.3L148.8,33.9L149.3,33.9L157.1,27.6ZM196.1,142.9L196.4,142.9L198.5,143.2L198.4,146.0L196.4,149.3L194.6,151.0L190.3,149.5L191.9,146.8ZM247.4,87.3L244.4,89.3L242.6,88.6L245.1,85.7L247.6,84.7L248.3,85.1L248.1,86.2ZM156.4,51.6L154.3,53.1L154.1,53.5L154.0,54.2L157.1,54.2L157.4,53.7ZM163.1,155.0L161.3,158.0L154.1,162.0L153.5,162.2L153.7,160.8L157.9,156.0ZM197.8,86.4L199.4,85.8L203.7,82.2L202.5,80.1L202.0,80.5ZM136.8,117.3L134.1,115.7L133.2,115.9L132.4,116.5L131.1,119.6L136.2,120.0L136.3,119.9L136.8,119.1ZM163.2,160.2L162.1,160.6L158.8,165.9L159.6,165.9L162.8,164.7L164.7,161.8L164.1,160.9ZM115.5,67.0L114.5,67.0L111.8,68.3L112.1,73.0L114.6,72.0L116.2,68.6ZM136.8,117.3L134.1,115.7L138.4,113.9L139.0,115.3ZM129.8,21.2L140.8,15.0L152.8,1.5L161.0,-11.8L136.2,11.8L130.7,17.8ZM174.7,79.1L174.2,77.9L175.2,75.3L177.3,73.6L177.8,73.5L179.4,74.5ZM229.0,65.5L228.6,61.6L234.2,58.8L233.7,64.3L233.6,64.4ZM173.9,161.0L175.4,158.8L170.6,160.5L170.2,161.6ZM197.6,152.6L197.3,155.6L198.0,155.9L199.5,155.3L202.5,149.3ZM152.0,61.2L149.8,67.7L150.1,67.5L156.7,59.7L155.8,58.9L152.9,60.0ZM114.9,43.5L117.8,37.9L116.2,36.7L111.1,40.5ZM145.5,156.9L147.1,159.5L142.4,161.8L141.8,161.6L143.1,158.2L143.7,157.8ZM131.7,127.0L131.5,126.9L133.9,122.5L135.1,121.5L135.9,123.8L134.3,125.7L132.8,126.9ZM188.6,106.5L188.2,104.6L189.3,101.8L193.2,98.1L194.7,101.1L191.3,106.7L189.7,107.5ZM203.0,140.0L201.5,141.9L198.5,143.2L196.4,142.9L200.9,139.3L203.2,139.4Z"/><path fill="#3d3d3d" stroke="#3d3d3d" stroke-width=".4" d="M146.6,23.0L152.1,21.8L151.9,23.0L150.4,24.4L145.5,25.8ZM107.3,79.4L106.2,79.6L107.1,77.4L109.5,75.3L109.9,75.2L110.4,76.9L108.7,78.7ZM189.9,92.6L189.9,92.6L184.8,95.9L181.2,95.8L182.4,93.2L183.5,92.2ZM148.9,44.8L153.1,42.7L152.4,35.2L152.3,35.2L147.5,41.7ZM288.8,74.5L282.8,79.3L282.7,80.7L290.3,78.0L291.0,74.9ZM130.7,17.8L136.2,11.8L128.2,16.4L126.3,18.1L128.1,19.4ZM223.2,77.0L225.4,75.9L227.5,76.4L226.3,77.7L223.4,78.5L222.9,77.8ZM232.5,49.2L229.3,52.1L227.8,55.7L230.6,54.9L230.7,54.8L233.6,50.9ZM144.2,67.8L142.0,69.1L141.8,68.8L142.9,66.5L144.0,65.6L144.8,66.1ZM226.3,77.7L224.9,79.5L223.1,80.3L223.4,78.5ZM183.6,91.0L182.4,88.9L180.5,90.1L176.6,94.0L176.7,95.5L182.4,93.2L183.5,92.2ZM128.1,19.4L126.3,18.1L124.2,18.9L123.8,19.3L126.5,20.8ZM251.3,59.6L244.9,65.3L242.7,60.5L246.4,58.0L251.5,58.2ZM196.7,133.8L193.6,137.4L195.0,137.1L201.0,134.1L201.2,133.3L200.7,132.6ZM170.3,150.6L167.2,148.1L171.6,144.7L175.1,142.8L175.0,145.6L172.9,150.1ZM151.1,51.4L154.7,45.6L156.6,48.1L156.5,48.5L154.1,50.7ZM143.1,158.2L140.7,157.1L138.6,157.9L121.8,168.7L141.8,161.6ZM150.3,27.6L153.8,25.1L155.7,25.3L148.8,33.9L147.6,34.3L148.0,31.7ZM315.8,53.9L313.3,57.0L314.5,58.9L315.6,58.5L317.5,55.8L317.5,54.6ZM325.5,55.3L324.7,55.9L324.1,58.7L329.3,57.3L329.8,55.8L328.4,53.9ZM169.0,167.3L167.0,171.6L162.3,175.2L159.7,175.0L160.3,173.6L160.8,173.1L168.6,167.1ZM147.5,64.6L146.1,62.5L147.0,60.0L150.3,59.0L152.9,60.0L152.0,61.2L148.0,64.7ZM146.1,67.8L147.3,68.4L148.0,64.7L147.5,64.6L145.5,66.0ZM156.4,17.0L156.3,20.8L159.7,22.9L161.2,10.3ZM229.8,82.3L229.8,80.5L225.4,83.7L226.4,85.7ZM146.5,155.2L144.7,155.6L143.7,157.8L145.5,156.9L146.5,155.6Z"/><path fill="#434343" stroke="#434343" stroke-width=".4" d="M174.5,80.0L172.5,81.9L176.4,83.3L176.5,83.2L177.4,79.5ZM324.0,52.2L316.0,58.5L318.4,59.3L323.3,54.7ZM255.5,76.1L255.6,76.1L256.5,78.2L256.2,79.7L254.6,82.3L251.9,82.5L254.9,76.4ZM146.5,155.2L147.7,152.5L144.7,153.3L143.6,154.6L144.7,155.6ZM150.3,27.6L153.8,25.1L153.3,24.0L151.9,23.0L150.4,24.4L148.9,26.7ZM189.5,150.1L188.0,154.5L188.2,156.9L191.5,156.8L191.6,156.6L194.4,152.0L194.6,151.5L194.6,151.0L190.3,149.5ZM232.7,92.5L238.6,88.6L237.8,91.9L236.3,93.0L235.3,93.6L232.5,93.0ZM235.6,72.7L237.8,72.1L243.8,67.4L244.1,66.7L237.5,66.7L235.3,69.5L235.2,70.5ZM224.7,115.9L226.5,111.4L221.9,116.8ZM113.0,50.3L112.5,50.5L108.0,55.9L110.8,55.3L113.8,53.9ZM147.7,152.5L148.2,152.1L148.4,148.3L144.5,151.4L144.7,153.3ZM224.9,89.9L225.3,92.8L229.8,87.6L229.8,86.7ZM204.8,145.8L196.4,149.3L198.4,146.0L204.2,144.7ZM224.6,63.3L222.4,61.0L223.7,58.8L226.5,56.5L227.8,55.7L230.6,54.9L230.9,55.3L228.5,61.7ZM141.0,108.4L141.2,111.8L139.4,113.0L138.7,110.4ZM208.6,107.4L200.3,111.9L200.3,106.8L200.9,106.0L205.0,103.4L208.8,104.5L209.0,105.8ZM208.4,131.6L207.0,129.7L204.6,130.6L201.2,133.3L201.0,134.1L201.0,134.4L201.7,134.6ZM154.1,162.0L153.5,162.2L153.3,162.4L155.9,166.8L157.1,166.2L159.7,161.5ZM160.1,23.0L159.6,32.0L158.4,32.2L157.0,29.1L157.1,27.6L158.9,23.8L159.7,23.1ZM204.1,161.6L203.1,161.4L199.8,165.8L200.7,166.8L202.0,165.8L204.2,163.0L204.5,161.8ZM183.6,91.0L182.4,88.9L183.9,86.9L187.2,86.4L188.1,87.7ZM256.1,66.4L253.5,70.7L248.9,72.3L247.7,72.6L253.6,66.9ZM170.2,79.7L169.3,81.4L167.1,82.5L164.8,81.2L165.9,80.3L170.7,77.1ZM145.7,163.6L146.5,166.4L141.4,169.9L142.2,165.9ZM167.3,75.1L169.0,71.8L167.4,71.2L165.3,72.2L164.8,73.3L165.7,76.4ZM161.6,78.1L164.8,73.3L165.7,76.4L165.1,77.0L161.5,80.0L161.0,79.8ZM109.4,40.5L110.4,40.7L111.1,40.5L116.2,36.7L116.9,34.4L116.9,34.3L116.4,33.9L115.7,33.4L112.2,34.5ZM322.2,62.5L320.6,63.7L317.2,63.1L317.2,63.0L318.6,61.1L323.0,59.7L322.6,62.0ZM118.9,59.1L120.5,55.9L117.5,55.7L116.5,59.3ZM147.5,68.9L149.0,68.4L150.2,71.6L149.4,73.9L143.5,74.3L144.2,71.6ZM144.4,151.4L142.0,152.5L138.5,150.7L139.7,149.7L144.3,148.7ZM145.5,66.0L147.5,64.6L146.1,62.5L144.0,65.6L144.8,66.1Z"/><path fill="#494949" stroke="#494949" stroke-width=".4" d="M146.1,67.8L145.5,66.0L144.8,66.1L144.2,67.8ZM228.6,61.6L234.2,58.8L235.4,57.3L230.9,55.3L228.5,61.7ZM239.8,44.7L242.0,47.8L236.7,49.9L236.7,49.9ZM170.7,77.1L171.2,76.3L171.1,75.6L171.0,75.6L167.4,77.7L165.9,80.3ZM130.0,25.6L131.5,26.5L133.7,24.9L135.3,23.4L137.7,18.5L132.9,21.5ZM124.6,23.4L122.0,23.0L121.5,22.1L122.3,20.3L123.8,19.3L126.5,20.8ZM164.9,152.9L165.8,148.9L167.2,148.1L170.3,150.6ZM252.1,64.0L244.5,66.1L244.1,66.7L243.8,67.4L245.9,70.2L252.2,64.9ZM130.0,25.6L132.9,21.5L129.5,22.1L127.3,24.2L129.8,25.7ZM117.2,22.5L121.7,20.0L119.6,17.2L117.5,21.0ZM271.8,84.9L272.0,85.7L273.5,84.8L274.4,83.2L274.5,82.9L273.9,81.3L272.7,82.3ZM148.6,52.7L152.1,46.7L155.0,42.7L154.7,45.6L151.1,51.4L149.1,52.9ZM177.6,156.2L176.2,158.5L175.4,158.8L170.6,160.5L170.3,159.0L172.0,155.9L177.6,155.4ZM262.2,76.4L266.6,72.3L268.0,72.2L268.0,72.3L266.2,77.9L265.6,78.1L261.6,78.1ZM201.6,95.3L201.1,95.7L193.3,97.9L193.7,96.0L200.8,90.7ZM205.4,146.2L202.6,149.2L194.6,151.5L194.6,151.0L196.4,149.3L204.8,145.8ZM322.6,62.0L326.1,61.9L330.2,60.9L330.8,60.6L331.2,59.7L329.3,57.3L324.1,58.7L323.0,59.7ZM148.6,52.7L152.1,46.7L147.1,52.0L147.1,52.3ZM199.0,100.2L201.1,95.7L193.3,97.9L193.2,98.1L194.7,101.1ZM244.4,53.3L245.3,51.1L245.3,49.8L242.6,48.7L237.3,54.0L235.4,57.3L241.9,56.2ZM167.4,77.7L165.1,77.0L165.7,76.4L167.3,75.1L171.0,75.6ZM195.7,128.1L188.3,134.0L188.2,136.1L190.5,137.1L193.9,132.5ZM193.8,165.0L199.5,160.7L200.0,160.3L198.9,165.6L193.5,168.8L192.8,168.3L193.5,165.5ZM193.5,163.0L193.8,165.0L193.5,165.5L188.9,166.3L189.4,164.1L191.0,162.9ZM219.7,82.1L222.9,77.8L223.4,78.5L223.1,80.3L220.3,82.3L219.9,82.5ZM164.9,152.9L165.8,148.9L165.6,148.9L158.0,155.2L157.9,156.0L163.1,155.0L163.8,154.6ZM173.2,163.0L176.5,159.1L176.2,158.5L175.4,158.8L173.9,161.0ZM146.1,67.8L147.3,68.4L147.5,68.9L144.2,71.6L141.8,72.0L142.0,69.1L144.2,67.8Z"/><path fill="#505050" stroke="#505050" stroke-width=".4" d="M292.8,81.0L290.8,80.7L290.3,78.0L291.0,74.9L294.0,72.3L298.3,72.7L299.2,73.2L294.0,80.4ZM218.1,90.5L221.3,88.7L221.0,86.1L219.3,86.6L217.2,89.5ZM317.5,54.6L317.5,55.8L320.9,52.5L319.3,51.4L318.6,51.8ZM120.7,24.8L122.0,23.0L121.5,22.1L115.9,25.6L117.0,26.7ZM301.4,65.7L301.5,65.7L300.6,72.3L299.2,73.2L298.3,72.7L299.1,68.3ZM196.0,141.0L195.0,137.1L193.6,137.4L191.4,138.5L191.8,139.7L194.7,140.9ZM166.4,41.4L164.4,40.4L164.8,39.7L168.7,38.3ZM242.6,48.7L237.3,54.0L235.5,52.5L236.7,49.9L242.0,47.8L242.6,47.9ZM232.5,93.0L235.3,93.6L233.9,98.4L229.7,99.7L231.9,93.6ZM227.3,101.9L228.8,100.3L229.7,99.7L233.9,98.4L234.8,98.9L234.6,99.2L231.7,102.5L229.8,103.9L228.7,104.5L227.2,102.0ZM252.2,63.4L251.5,59.6L251.3,59.6L244.9,65.3L244.5,66.1L252.1,64.0ZM199.5,155.3L198.0,155.9L194.4,159.9L199.5,160.7L200.0,160.3L200.8,159.6L200.9,159.4L200.8,156.0ZM191.9,146.8L190.3,149.5L189.5,150.1L187.6,151.0L185.5,151.5L184.0,150.2L187.3,146.0L189.6,145.2ZM210.0,138.2L211.6,136.2L213.9,134.7L215.3,137.3L210.3,140.1ZM219.9,82.5L220.3,82.3L223.9,82.3L224.0,84.4L224.0,84.5L221.0,86.1L219.3,86.6L218.7,85.2ZM174.7,79.1L179.4,74.5L180.3,74.6L178.1,78.9L177.4,79.5L174.5,80.0ZM116.5,59.3L114.1,61.0L111.5,61.3L114.1,57.2L115.9,54.8L116.5,54.8L117.5,55.7ZM191.4,138.5L193.6,137.4L196.7,133.8L193.9,132.5L190.5,137.1L190.3,137.9L190.7,138.5ZM176.6,94.0L174.2,93.9L177.2,89.6L178.7,88.6L180.5,90.1ZM235.8,49.5L235.7,46.8L233.1,47.6L232.5,49.2L233.6,50.9L235.7,49.7ZM190.1,92.7L185.9,99.1L186.4,101.9L189.3,101.8L193.2,98.1L193.3,97.9L193.7,96.0L190.7,92.5ZM164.8,81.2L161.8,82.0L161.5,80.0L165.1,77.0L167.4,77.7L165.9,80.3ZM285.7,72.8L280.1,77.3L280.5,78.3L282.8,79.3L288.8,74.5L288.3,72.2ZM237.4,76.7L244.1,77.4L245.2,75.9L246.4,73.3L245.8,71.6L238.0,75.6ZM178.5,154.3L179.9,152.0L172.1,155.3L172.0,155.9L177.6,155.4ZM218.5,75.6L215.5,78.4L218.3,79.0L222.3,76.7L222.7,75.6L222.9,74.1L220.8,74.2L219.6,74.6ZM191.0,125.3L189.8,126.1L189.6,126.3L191.6,128.8L195.7,128.0L195.8,128.0L196.9,126.6L197.6,125.1L197.2,123.2L196.7,122.8L194.2,123.8ZM152.9,60.0L155.8,58.9L157.6,56.1L157.1,54.2L154.0,54.2L150.3,59.0ZM252.3,86.2L252.3,85.6L248.1,86.2L247.4,87.3L247.6,89.8L248.1,89.8L249.2,89.2ZM164.9,152.9L170.3,150.6L172.9,150.1L172.9,151.8L172.0,153.5L170.1,154.4L165.9,155.9L163.8,154.6ZM234.4,73.9L230.6,72.9L235.2,70.5L235.6,72.7ZM115.9,25.6L121.5,22.1L122.3,20.3L121.7,20.0L117.2,22.5L115.6,25.7ZM148.2,152.1L150.1,151.5L151.0,145.4L150.9,145.4L149.8,146.4L148.4,148.3ZM238.0,63.2L241.1,60.7L241.9,56.2L235.4,57.3L235.4,57.3L234.2,58.8L233.7,64.3ZM234.4,73.9L231.2,77.1L230.6,79.4L235.7,78.4L237.4,76.7L238.0,75.6L237.8,72.1L235.6,72.7ZM228.2,99.1L227.4,96.4L227.4,96.2L231.9,93.6L229.7,99.7L228.8,100.3ZM107.4,81.3L104.9,81.0L106.2,79.6L107.3,79.4ZM205.1,81.9L203.7,82.2L202.5,80.1L203.4,78.3L203.5,78.2L208.6,77.4ZM129.0,34.1L128.1,35.0L126.1,36.9L122.5,35.7L122.6,34.6L125.1,29.7L129.7,30.3L129.9,31.8ZM316.0,58.5L315.6,58.5L314.5,58.9L314.3,59.2L313.0,63.0L317.2,63.0L318.6,61.1L318.4,59.3ZM149.1,52.9L151.1,51.4L154.1,50.7L154.3,53.1L154.1,53.5L148.7,54.5ZM121.5,28.3L122.3,29.8L123.4,29.8L124.5,29.4L126.7,24.5L124.7,24.3L121.4,27.6ZM252.3,56.9L252.9,53.2L252.0,51.8L248.8,53.8L246.4,58.0L251.5,58.2ZM213.9,134.7L215.1,132.9L215.5,132.6L218.9,132.2L216.4,137.3L215.3,137.3Z"/><path fill="#565656" stroke="#565656" stroke-width=".4" d="M252.3,86.2L254.0,87.1L253.4,89.3L251.3,89.5L249.2,89.2ZM159.0,106.5L156.0,110.5L155.9,110.7L155.9,111.7L158.7,110.5L161.4,108.6L162.2,107.3L160.5,106.3ZM250.9,103.1L251.3,102.9L254.6,97.2L251.0,97.7L250.8,97.8L248.3,103.2ZM380.3,-120.7L377.9,-123.0L376.3,-120.3L315.8,-18.6L303.3,12.6L302.2,16.8L307.8,40.6L309.2,42.6L315.2,39.1ZM168.0,111.9L163.9,113.3L162.8,115.0L162.8,118.4L168.8,117.5L171.2,112.4ZM196.0,141.0L195.0,137.1L201.0,134.1L201.0,134.4L196.2,141.0ZM148.6,45.1L148.0,45.5L142.4,46.9L145.8,41.7L147.5,41.7L148.9,44.8ZM214.3,127.3L212.9,125.4L216.1,120.9L218.7,119.9L219.8,123.5L219.0,124.8L218.0,125.6ZM248.9,72.3L252.5,73.9L251.9,75.0L245.2,75.9L246.4,73.3L247.7,72.6ZM150.9,145.4L149.8,146.4L144.8,148.3L146.3,145.2L150.8,145.0ZM206.8,118.1L206.3,122.0L206.5,122.3L208.2,121.4L209.4,118.1L208.8,115.9ZM218.4,92.5L218.1,90.5L221.3,88.7L223.3,89.6L219.3,92.7ZM324.0,52.2L324.1,51.8L320.9,52.5L317.5,55.8L315.6,58.5L316.0,58.5ZM194.3,159.9L194.4,159.9L199.5,160.7L193.8,165.0L193.5,163.0ZM189.8,126.1L189.6,126.3L187.9,127.0L188.5,123.9L188.5,123.9L190.1,122.5L191.5,121.9ZM114.9,78.9L112.9,80.3L110.8,81.6L111.1,77.2L114.7,75.2L115.6,75.6ZM263.4,68.4L266.3,66.0L268.1,62.3L262.3,64.6L260.4,66.4L260.3,66.6L261.3,68.8ZM159.0,106.5L158.9,104.9L160.3,102.8L163.1,102.1L162.1,104.5L160.5,106.3ZM142.1,76.3L143.5,74.3L149.4,73.9L149.4,75.7L146.5,79.2ZM220.5,117.7L220.3,116.3L226.1,110.2L227.0,110.4L226.5,111.4L221.9,116.8ZM161.3,158.0L161.1,160.6L159.7,161.5L154.1,162.0ZM138.5,150.7L128.2,156.5L87.4,186.6L96.9,181.8L121.8,168.7L138.6,157.9L142.0,152.5ZM193.3,120.6L193.6,119.1L195.8,115.1L200.1,112.5L200.4,114.1L195.9,120.3ZM210.0,131.9L212.5,129.6L215.0,132.9L209.8,134.3L209.4,134.1L209.9,132.0ZM122.3,20.3L121.7,20.0L119.6,17.2L120.0,8.9L134.7,-120.8L164.3,-130.2L125.5,16.0L124.2,18.9L123.8,19.3ZM196.2,141.0L201.0,134.4L201.7,134.6L203.6,136.2L203.5,136.3L200.9,139.3L196.4,142.9L196.1,142.9ZM172.0,107.5L172.3,106.7L166.5,109.0L164.0,112.2L163.9,112.7L163.9,113.3L168.0,111.9ZM170.2,161.6L170.6,160.5L170.3,159.0L164.7,161.8L162.8,164.7L163.5,166.6L168.3,166.6ZM158.0,145.6L156.5,142.9L155.6,142.9L152.6,145.0L154.7,150.8L157.2,149.7L157.3,149.5ZM210.0,131.9L208.4,131.6L201.7,134.6L203.6,136.2L209.9,132.0ZM136.7,98.1L137.4,97.1L137.1,95.2L134.3,95.4L132.7,99.5ZM174.5,100.4L173.5,105.0L172.8,105.9L169.0,105.1L171.0,102.2ZM215.6,132.5L218.7,129.4L221.6,129.2L222.2,129.7L218.9,132.2L215.5,132.6ZM160.4,121.7L162.8,118.4L168.8,117.5L169.2,118.1L165.7,122.8L161.2,124.6ZM-2.1,150.3L106.5,67.7L107.5,67.1L108.5,68.1L103.9,75.1L97.7,80.4ZM206.4,88.5L203.5,88.2L203.1,88.2L201.1,90.1L200.8,90.7L201.6,95.3L202.3,94.9ZM198.9,102.2L200.3,103.9L205.8,96.7L199.1,101.0ZM248.5,92.2L242.6,94.6L241.7,95.3L243.7,97.1L247.4,95.4L248.7,92.3ZM163.9,112.7L163.9,113.3L162.8,115.0L155.3,119.2L155.1,119.2L152.1,117.8L152.0,117.5L153.5,115.8L160.5,113.0ZM219.0,81.8L218.3,79.0L222.3,76.7L223.2,77.0L222.9,77.8L219.7,82.1ZM306.6,79.2L305.2,83.1L312.1,77.0L313.0,75.8L313.2,73.9L312.0,73.1L308.9,75.3ZM142.4,161.8L141.2,165.2L96.9,181.8L121.8,168.7L141.8,161.6ZM231.8,46.7L231.2,45.0L235.7,41.8L236.2,43.9L232.6,46.9ZM227.9,122.2L227.4,122.6L221.0,125.0L219.0,124.8L219.8,123.5L223.4,119.9L227.1,120.4ZM192.6,160.3L190.4,159.1L187.1,162.5L189.4,164.1L191.0,162.9ZM179.7,104.9L177.7,109.6L181.7,108.1L182.1,107.6L183.6,104.0L181.6,103.7ZM249.2,89.2L248.1,89.8L248.5,91.4L251.3,89.5ZM226.7,72.5L226.3,73.3L222.7,75.6L222.9,74.1L224.4,72.9L225.1,72.4ZM257.6,69.3L256.2,66.3L256.1,66.4L253.5,70.7L254.2,71.2L256.9,70.6Z"/><path fill="#5c5c5c" stroke="#5c5c5c" stroke-width=".4" d="M187.3,107.3L181.9,109.0L181.7,108.1L182.1,107.6L188.2,104.6L188.6,106.5ZM188.2,80.7L185.8,82.3L184.2,79.9L183.7,78.6L186.2,76.5L188.9,76.2L188.9,78.3ZM107.8,81.4L108.9,83.4L110.8,81.6L111.1,77.2L110.4,76.9L108.7,78.7ZM203.6,124.7L199.7,126.2L202.6,127.7ZM204.3,137.5L203.5,136.3L200.9,139.3L203.2,139.4ZM307.5,53.5L307.2,57.0L305.5,58.1L304.7,55.9ZM323.3,54.7L324.7,55.9L324.1,58.7L323.0,59.7L318.6,61.1L318.4,59.3ZM172.3,87.9L170.0,86.5L170.0,86.2L175.8,83.9L174.6,86.5L173.0,87.9ZM144.4,144.6L146.2,145.2L146.3,145.2L144.8,148.3L144.3,148.7L139.7,149.7L143.4,145.0ZM165.3,72.2L167.4,71.2L169.0,68.2L164.2,68.2L164.1,68.3L163.5,72.1ZM177.4,83.0L176.5,83.2L177.4,79.5L178.1,78.9L182.4,78.3L182.6,78.7L180.1,81.3ZM228.9,69.0L225.4,71.3L225.1,72.4L226.7,72.5L229.9,70.4L230.4,69.8L230.6,68.9ZM156.7,59.7L158.8,60.3L158.8,60.4L154.3,65.8L150.1,67.5ZM205.4,126.1L206.2,126.1L210.8,122.0L211.1,121.1L211.0,121.1L208.2,121.4L206.5,122.3L205.3,124.0ZM188.9,118.5L188.1,119.3L185.2,121.8L184.1,122.5L184.1,122.5L181.1,121.9L181.7,120.0L185.7,116.2L188.6,115.1L188.9,115.2L190.3,116.2L190.2,116.6L189.7,117.5ZM185.9,99.1L186.4,101.9L183.6,104.0L181.6,103.7L182.8,101.1ZM208.8,115.9L209.4,118.1L211.3,117.9L214.0,115.4L214.9,112.7L208.8,115.8ZM163.8,49.7L165.3,45.9L165.3,45.8L168.2,47.5L167.2,48.7ZM190.1,143.3L187.1,143.3L185.6,144.6L187.3,146.0L189.6,145.2ZM168.6,167.1L160.8,173.1L162.0,168.0L163.5,166.6L168.3,166.6ZM129.5,22.1L129.8,21.2L140.8,15.0L137.7,18.5L132.9,21.5ZM119.6,27.2L117.2,27.2L117.0,26.7L120.7,24.8ZM225.4,83.7L229.8,80.5L230.0,80.1L225.1,80.4L223.9,82.3L224.0,84.4ZM147.4,27.8L147.6,27.5L145.2,26.3L142.4,28.9L141.9,31.3L145.0,30.0ZM119.5,48.8L122.7,50.6L122.7,50.7L116.5,54.8L115.9,54.8L115.2,53.6ZM260.9,86.1L257.5,88.7L256.0,90.4L257.2,91.8L259.2,90.9L264.1,86.5L262.8,85.9ZM142.4,28.9L141.9,28.8L138.6,30.7L138.0,33.5L140.3,33.9L141.9,31.3ZM145.3,176.3L149.9,165.8L146.5,166.4L141.4,169.9L86.7,242.9L121.2,204.9ZM235.7,80.5L235.7,78.4L237.4,76.7L244.1,77.4L243.4,78.7L235.9,80.6ZM142.0,69.1L141.8,72.0L141.5,72.2L139.3,73.4L137.2,73.4L138.2,70.2L141.8,68.8ZM205.4,146.2L202.6,149.2L202.5,149.3L199.5,155.3L200.8,156.0L204.8,152.7L208.3,147.7L208.8,146.7L208.5,146.3L206.7,145.8ZM172.6,33.7L165.3,37.5L164.8,39.7L168.7,38.3ZM153.8,25.1L155.7,25.3L158.9,23.8L159.7,23.1L159.7,22.9L156.3,20.8L153.3,24.0ZM180.3,74.6L182.3,73.6L182.5,77.7L182.4,78.3L178.1,78.9ZM117.9,61.7L115.0,62.6L110.1,67.9L111.5,68.3L111.8,68.3L114.5,67.0ZM165.6,138.9L164.8,140.2L161.5,140.6L161.2,140.4L161.3,138.1L161.4,138.0L166.2,136.8ZM144.0,65.6L142.9,66.5L139.8,66.4L139.9,66.1L146.2,59.7L147.0,60.0L146.1,62.5ZM109.5,75.3L107.1,77.4L97.7,80.4L103.9,75.1L107.8,74.4ZM194.3,159.9L194.4,159.9L198.0,155.9L197.3,155.6L191.6,156.6L191.5,156.8L190.4,159.1L192.6,160.3ZM206.2,126.1L206.5,126.6L210.3,126.3L211.6,125.5L210.8,122.0ZM252.6,64.9L253.6,66.9L256.1,66.4L256.2,66.3L256.4,66.1L257.1,65.1L256.2,63.4L255.0,63.2ZM137.9,141.7L133.5,142.4L85.4,175.3L21.5,226.9L87.4,186.6L128.2,156.5L137.3,146.3ZM132.8,126.9L134.3,125.7L138.6,125.2L138.5,126.5L133.7,128.1L133.2,128.0ZM163.5,111.1L161.4,108.6L158.7,110.5L160.5,113.0L163.9,112.7L164.0,112.2Z"/><path fill="#636363" stroke="#636363" stroke-width=".4" d="M248.1,86.2L248.3,85.1L251.0,83.0L251.9,82.5L254.6,82.3L254.6,82.3L252.3,85.6ZM156.0,94.2L155.1,94.6L154.9,89.1L156.8,86.8L158.0,86.3L156.6,93.5ZM278.7,80.7L276.3,84.4L273.5,84.8L274.4,83.2ZM136.6,133.3L138.7,134.5L136.4,139.1L133.5,142.4L85.4,175.3L114.7,149.1L130.2,136.3L133.6,134.1ZM110.5,33.8L109.1,32.8L116.0,29.5L117.1,30.7L115.7,33.4L112.2,34.5ZM210.4,50.4L214.5,51.4L215.0,51.1L210.9,48.6ZM176.7,95.5L176.3,96.9L175.9,99.1L177.7,99.0L181.2,95.8L182.4,93.2ZM307.2,68.1L310.4,70.7L305.9,73.4L303.8,71.4L303.7,71.2L306.7,68.1ZM200.1,112.5L200.3,111.9L200.3,106.8L196.3,108.9L194.6,111.0L195.6,115.1L195.8,115.1ZM192.5,74.9L192.6,74.7L190.8,74.2L188.9,76.2L188.9,78.3ZM151.4,111.3L155.9,110.7L155.9,111.7L155.7,112.1L152.5,112.4L150.6,112.1ZM285.4,48.7L275.2,58.4L278.0,57.9L288.9,45.8ZM223.9,118.9L223.4,119.9L219.8,123.5L218.7,119.9L220.4,118.0ZM217.7,187.7L256.1,299.5L242.5,307.8L196.3,180.8L196.3,173.0L200.1,168.0L203.6,167.7ZM212.2,98.1L210.0,99.7L211.1,101.7L213.2,97.9ZM166.4,41.4L164.4,40.4L164.4,40.4L161.7,42.5L162.0,44.7L163.1,45.1L163.7,44.8L166.1,42.1ZM164.8,39.7L165.3,37.5L159.2,38.5L158.8,39.0L164.4,40.4L164.4,40.4ZM146.5,112.5L143.8,116.1L142.4,117.4L140.0,116.3L140.1,115.9L144.4,111.1L146.6,111.0ZM149.1,113.3L149.1,114.5L148.9,117.1L148.2,117.4L143.8,116.1L146.5,112.5ZM291.5,50.9L283.0,58.8L280.3,60.5L278.0,57.9L288.9,45.8L294.5,40.6L293.6,47.4ZM316.2,53.3L312.8,53.5L315.8,49.8L316.9,52.5ZM248.3,85.1L251.0,83.0L251.2,80.0L247.9,83.3L247.6,84.7ZM143.7,157.8L143.1,158.2L140.7,157.1L143.6,154.6L144.7,155.6ZM127.3,24.2L126.7,24.5L124.7,24.3L124.6,23.4L126.5,20.8L128.1,19.4L130.7,17.8L129.8,21.2L129.5,22.1ZM147.7,141.3L149.7,141.7L146.2,145.2L144.4,144.6ZM330.2,60.9L322.9,65.6L322.0,65.1L322.4,64.3L326.1,61.9ZM194.3,159.9L193.5,163.0L191.0,162.9L192.6,160.3ZM290.1,67.1L290.1,69.8L291.5,69.2L294.3,66.2L290.6,66.3ZM191.5,121.9L190.1,122.5L188.1,119.3L188.9,118.5L192.9,120.8L192.3,121.4ZM129.0,131.2L114.7,149.1L130.2,136.3L132.2,130.1ZM235.7,49.7L233.6,50.9L230.7,54.8L235.5,52.5L236.7,49.9L236.7,49.9ZM220.0,140.4L219.9,139.7L218.3,139.4L216.2,142.0L218.1,144.1ZM118.6,67.9L119.0,70.2L115.0,72.1L114.6,72.0L116.2,68.6ZM189.9,92.6L184.8,95.9L180.4,100.0L182.8,101.1L185.9,99.1L190.1,92.7ZM169.5,176.9L116.5,241.0L53.6,321.2L64.2,347.5L169.5,193.3L172.5,175.5L171.0,175.7ZM141.8,68.8L138.2,70.2L137.4,68.7L139.8,66.4L142.9,66.5ZM171.9,48.6L174.5,48.4L176.1,47.8L181.3,43.0L172.2,46.2L171.8,46.6L171.6,48.1ZM244.9,65.3L242.7,60.5L241.1,60.7L238.0,63.2L237.5,66.7L244.1,66.7L244.5,66.1ZM145.7,19.8L153.5,20.0L156.4,17.0L161.2,10.3L162.1,8.5L187.0,-47.1L161.0,-11.8L152.8,1.5L145.4,19.3ZM170.2,79.7L174.2,77.9L175.2,75.3L171.2,76.3L170.7,77.1ZM120.7,65.0L118.6,67.9L116.2,68.6L115.5,67.0L119.5,64.7ZM311.1,47.1L316.2,43.5L316.3,42.7L314.8,40.2L311.7,43.2L309.6,47.0ZM172.6,106.3L172.8,105.9L169.0,105.1L167.9,106.1L166.5,109.0L172.3,106.7ZM275.2,58.4L271.2,60.2L275.0,64.1L277.3,63.2L277.8,62.8L280.3,60.5L278.0,57.9ZM207.3,136.7L209.4,134.1L209.9,132.0L203.6,136.2L203.5,136.3L204.3,137.5ZM160.8,69.0L164.1,68.3L164.2,68.2L166.2,66.0L167.6,63.1L164.4,62.2L161.4,63.7L159.9,65.9L159.9,69.0ZM184.4,113.2L184.9,112.6L187.4,110.6L188.4,112.5L188.6,115.1L185.7,116.2ZM128.6,65.8L128.8,59.2L126.4,61.4L125.5,64.1L125.5,66.0L128.0,66.0ZM203.6,124.7L205.3,124.0L205.4,126.1L203.0,128.0L202.6,127.7ZM196.7,122.8L195.9,120.3L200.4,114.1L201.7,114.5L202.7,116.4L197.2,123.2ZM180.6,83.1L180.1,81.3L177.4,83.0L178.4,85.4L180.5,83.6ZM211.5,94.3L207.3,97.1L206.2,101.8L206.7,101.5L211.4,95.9ZM234.4,73.9L231.2,77.1L228.1,76.1L229.7,73.2L230.6,72.9ZM230.8,85.5L233.6,85.1L230.3,89.6L229.8,87.6L229.8,86.7Z"/><path fill="#696969" stroke="#696969" stroke-width=".4" d="M223.8,132.7L223.8,134.2L218.2,138.7L217.6,138.2L223.7,132.7ZM290.1,69.8L288.3,72.2L288.8,74.5L291.0,74.9L294.0,72.3L294.4,71.6L294.5,70.8L293.2,69.2L291.5,69.2ZM252.2,64.9L245.9,70.2L245.8,71.6L246.4,73.3L247.7,72.6L253.6,66.9L252.6,64.9ZM164.7,61.9L167.8,59.4L171.5,59.7L171.7,60.2L167.6,63.1L164.4,62.2ZM161.6,78.1L164.8,73.3L165.3,72.2L163.5,72.1L161.6,73.7L161.4,74.2ZM322.7,73.3L321.6,73.9L321.4,70.6L322.1,69.9L322.3,69.9L323.4,70.5ZM154.2,80.3L154.9,78.3L152.4,75.4L150.2,75.4L149.4,75.7L146.5,79.2L146.3,79.4L148.9,80.9L150.1,81.6L153.3,81.0ZM136.2,26.7L136.5,24.3L135.3,23.4L133.7,24.9L134.7,27.6ZM247.6,89.8L242.6,94.6L241.7,95.3L241.3,95.3L241.4,94.3L244.4,89.3L247.4,87.3ZM294.0,80.4L299.2,73.2L300.6,72.3L301.3,72.0L303.7,71.2L303.8,71.4L300.3,78.3L298.1,80.2ZM182.4,110.6L182.0,110.6L181.9,109.0L187.3,107.3ZM161.5,140.6L161.2,140.4L156.5,142.9L158.0,145.6ZM139.9,66.1L139.8,66.4L137.4,68.7L135.5,69.3L135.2,69.3L134.7,66.6L136.1,65.1L138.4,63.4L138.7,63.4ZM259.5,81.8L260.7,79.3L261.6,78.1L265.6,78.1L263.3,80.0L259.6,81.9ZM162.9,50.6L165.4,53.1L166.3,52.4L167.0,51.2L167.2,48.7L163.8,49.7ZM144.4,111.1L141.2,111.8L141.0,108.4L141.4,107.8L142.4,106.9L144.7,108.0ZM161.8,44.8L162.0,44.7L161.7,42.5L157.9,40.1L156.4,41.4L158.7,44.8ZM163.8,144.7L168.1,143.8L171.6,144.7L167.2,148.1L165.8,148.9L165.6,148.9L162.3,146.6ZM163.1,102.1L163.5,101.9L166.6,97.4L165.1,96.1L159.6,100.1L160.3,102.8ZM208.6,107.4L200.3,111.9L200.1,112.5L200.4,114.1L201.7,114.5L209.4,110.2L210.3,108.9ZM173.2,163.0L176.5,159.1L178.1,160.0L172.8,163.5ZM181.0,175.1L183.9,173.0L185.9,170.1L186.0,169.4L184.1,169.6L183.6,169.9L178.8,173.2ZM172.0,107.5L173.4,109.5L173.2,110.9L171.2,112.4L168.0,111.9ZM162.9,50.6L162.5,50.8L160.5,53.7L163.3,54.4L165.4,53.1L165.4,53.1ZM150.3,59.0L154.0,54.2L154.1,53.5L148.7,54.5L146.1,59.3L146.2,59.7L147.0,60.0ZM198.9,102.2L191.8,106.6L191.3,106.7L194.7,101.1L199.0,100.2L199.1,101.0ZM119.6,27.2L120.1,27.9L117.1,30.7L116.0,29.5L117.2,27.2ZM141.5,72.2L139.2,77.6L137.8,76.8L139.3,73.4ZM194.7,81.8L194.2,78.5L189.6,80.4L189.4,80.4L189.1,84.6L192.3,83.6ZM294.3,66.2L297.8,63.7L298.2,63.7L298.3,64.1L293.2,69.2L291.5,69.2ZM204.1,116.3L202.7,116.4L201.7,114.5L209.4,110.2L207.9,114.7ZM198.9,102.2L191.8,106.6L195.7,108.9L196.3,108.9L200.3,106.8L200.9,106.0L200.3,103.9ZM300.5,84.5L304.9,76.8L306.6,79.2L305.2,83.1L303.3,85.4L302.4,86.1L300.7,85.4ZM-47.3,73.6L21.4,-87.1L134.7,-120.8L120.0,8.9L114.7,22.5L108.7,29.2L104.8,31.6ZM197.6,125.1L201.8,121.9L202.2,121.6L204.1,116.3L202.7,116.4L197.2,123.2ZM171.3,140.9L168.1,143.8L163.8,144.7L165.2,142.4L167.9,140.8ZM147.4,27.8L147.6,27.5L148.9,26.7L150.3,27.6L148.0,31.7L147.5,30.9ZM115.1,53.6L113.8,53.9L110.8,55.3L110.0,58.5L114.1,57.2L115.9,54.8L115.2,53.6ZM190.7,92.5L193.7,96.0L200.8,90.7L201.1,90.1L195.0,88.9ZM194.4,152.0L191.6,156.6L197.3,155.6L197.6,152.6ZM228.4,114.5L230.0,110.3L229.6,109.8L228.9,109.9L227.0,110.4L226.5,111.4L224.7,115.9L225.1,117.5L227.5,116.0ZM194.6,151.5L194.4,152.0L197.6,152.6L202.5,149.3L202.6,149.2ZM204.2,143.0L204.2,144.7L198.4,146.0L198.5,143.2L201.5,141.9ZM208.5,146.3L208.8,146.7L211.5,146.5L216.2,142.0L218.3,139.4L218.2,138.7L217.6,138.2L216.7,137.7ZM126.9,106.5L125.2,105.7L127.2,101.6L130.7,101.5L130.0,105.0ZM295.6,87.6L300.7,85.4L300.5,84.5L298.1,80.2L294.0,80.4L292.8,81.0L289.9,86.9L290.1,87.0ZM166.3,102.3L169.0,97.0L170.2,96.4L170.2,98.9L167.9,101.2ZM145.7,19.8L153.5,20.0L152.1,21.8L146.6,23.0ZM137.3,28.4L136.7,29.6L134.8,32.0L134.4,32.4L129.0,34.1L129.9,31.8L134.7,27.6L136.2,26.7L136.8,26.8ZM329.8,55.8L330.0,55.5L334.3,51.8L343.4,45.0L342.9,45.8L337.7,53.3L331.2,59.7L329.3,57.3ZM124.6,48.1L122.7,50.6L122.7,50.7L123.2,51.6L127.7,49.7L129.0,46.7L128.8,46.7ZM315.8,53.9L317.5,54.6L318.6,51.8L316.9,52.5L316.2,53.3ZM266.5,56.7L265.2,58.6L268.2,62.2L271.2,60.2L271.6,59.3L272.6,55.4ZM205.4,126.1L206.2,126.1L206.5,126.6L204.6,130.6L201.2,133.3L200.7,132.6L200.8,131.5L203.0,128.0Z"/><path fill="#707070" stroke="#707070" stroke-width=".4" d="M170.1,154.4L164.1,160.9L164.7,161.8L170.3,159.0L172.0,155.9L172.1,155.3L172.1,154.7L172.0,153.5ZM171.0,75.6L171.1,75.6L175.2,68.7L169.0,71.8L167.3,75.1ZM191.0,125.3L194.2,123.8L192.0,123.4ZM180.5,83.6L184.9,83.3L184.7,83.7L179.1,86.9L177.9,86.6L178.4,85.4ZM207.9,157.7L207.8,155.0L202.1,158.7L205.7,159.0ZM259.5,81.8L257.4,82.8L254.7,86.4L258.2,85.1L259.8,82.6L259.6,81.9ZM225.1,72.4L224.4,72.9L223.3,71.7L223.4,71.5L225.4,70.9L225.4,71.3ZM328.8,50.9L325.5,55.3L328.4,53.9L329.5,51.4ZM120.1,47.0L119.8,46.3L117.3,47.4L115.8,49.1L115.1,53.6L115.2,53.6L119.5,48.8L120.1,47.7ZM318.4,68.3L314.7,68.2L315.8,66.4L319.5,65.3L320.0,66.2L319.0,67.9ZM178.4,85.4L177.9,86.6L176.7,87.3L174.6,86.5L175.8,83.9L176.4,83.3L176.5,83.2L177.4,83.0ZM169.0,167.3L167.0,171.6L167.0,172.7L170.6,173.2L170.6,172.3L169.6,167.2L169.3,167.2ZM323.9,73.3L321.0,77.6L318.7,78.9L318.7,77.7L319.8,75.3L321.6,73.9L322.7,73.3ZM173.0,87.9L174.6,86.5L176.7,87.3L175.6,88.8L172.8,91.4L172.1,90.8ZM167.2,48.7L168.2,47.5L168.6,47.3L171.8,46.6L171.6,48.1L167.0,51.2ZM188.5,123.9L185.2,121.8L184.1,122.5L183.3,126.7L188.5,123.9ZM157.6,170.6L159.6,165.9L158.8,165.9L157.1,166.2L155.9,166.8L153.0,170.4ZM245.3,51.1L245.3,49.8L267.4,31.9L253.6,48.9ZM144.7,153.3L144.5,151.4L144.4,151.4L142.0,152.5L138.6,157.9L140.7,157.1L143.6,154.6ZM173.2,163.0L173.9,161.0L170.2,161.6L168.3,166.6L168.6,167.1L169.0,167.3L169.3,167.2L172.8,163.5ZM157.9,138.4L157.5,137.3L164.9,132.9L165.4,133.2L161.4,138.0L161.3,138.1ZM196.9,126.6L199.7,126.2L203.6,124.7L205.3,124.0L206.5,122.3L206.3,122.0L201.8,121.9L197.6,125.1ZM116.1,78.7L116.3,83.3L114.9,84.3L112.9,80.3L114.9,78.9ZM233.1,47.6L232.6,46.9L231.8,46.7L228.4,50.2L229.3,52.1L232.5,49.2ZM191.5,111.0L195.7,108.9L196.3,108.9L194.6,111.0L190.3,116.2L188.9,115.2ZM145.8,41.7L143.7,41.3L143.5,37.2L147.6,34.3L148.8,33.9L149.3,33.9L149.9,34.1L152.3,35.2L147.5,41.7ZM180.5,90.1L178.7,88.6L179.1,86.9L184.7,83.7L183.9,86.9L182.4,88.9ZM184.8,95.9L181.2,95.8L177.7,99.0L179.5,100.4L180.4,100.0ZM148.0,45.5L143.3,50.5L139.5,52.4L139.3,52.4L138.7,51.0L139.5,48.1L142.4,46.9ZM167.0,135.0L166.8,133.0L172.8,128.3L173.1,131.9L170.8,134.3ZM188.9,76.2L186.2,76.5L187.9,73.1L190.8,74.2L190.8,74.2ZM269.3,82.7L269.5,82.8L271.8,84.9L272.0,85.7L271.4,86.3L269.1,85.4L269.0,82.9ZM192.0,123.4L192.3,121.4L192.9,120.8L193.3,120.6L195.9,120.3L196.7,122.8L194.2,123.8ZM101.0,59.2L93.3,62.0L76.5,70.8L107.9,65.2L108.9,63.3L107.9,61.9ZM117.5,21.0L119.6,17.2L120.0,8.9L114.7,22.5ZM184.7,177.0L186.0,173.6L188.1,172.6L188.3,173.5ZM141.0,108.4L141.4,107.8L140.5,107.7L136.2,109.6L135.9,112.1L138.7,110.4ZM173.4,109.5L175.3,106.7L176.4,106.0L176.4,106.6L173.2,110.9L173.2,110.9ZM158.0,171.0L162.0,168.0L160.8,173.1L160.3,173.6L157.6,172.0ZM121.3,69.2L125.5,66.0L125.5,64.1L121.9,67.2ZM216.7,137.6L222.7,132.3L223.7,132.7L217.6,138.2L216.7,137.7ZM150.8,104.2L148.5,104.6L144.7,108.0L144.4,111.1L144.4,111.1L146.6,111.0L147.6,110.0ZM217.9,54.1L219.0,49.1L219.9,48.1L224.9,50.5L224.9,51.2L221.2,55.5L219.7,55.9L217.8,55.4ZM209.6,89.0L206.6,93.4L205.6,94.3L205.6,94.3L206.8,88.3L209.1,87.3ZM209.4,118.1L211.3,117.9L211.0,121.1L208.2,121.4ZM236.2,43.9L240.2,42.9L268.8,5.1L235.7,41.8ZM162.2,107.3L161.4,108.6L163.5,111.1L164.9,105.6L164.5,105.5ZM229.8,144.9L229.6,144.6L232.6,140.7L233.3,140.2L235.8,141.7L232.4,146.2ZM145.1,95.6L145.7,94.6L144.6,94.0L142.0,94.6L138.7,96.6L140.6,98.4ZM170.2,79.7L174.2,77.9L174.7,79.1L174.5,80.0L172.5,81.9L171.2,82.8L169.3,81.4ZM256.5,78.2L261.6,76.4L262.2,76.4L261.6,78.1L260.7,79.3L256.2,79.7ZM206.6,93.4L205.6,94.3L205.8,96.7L207.3,97.1L211.5,94.3L212.5,93.1L212.9,92.2L212.4,91.5ZM321.8,48.4L329.5,44.4L336.4,36.0L322.0,44.8L321.2,46.2ZM165.9,102.9L164.7,104.9L164.5,105.5L164.9,105.6L167.9,106.1L169.0,105.1L171.0,102.2L171.0,102.2ZM205.8,83.1L203.2,87.5L203.1,88.2L203.5,88.2L212.1,81.2L211.1,81.2ZM190.0,91.5L194.9,81.8L194.7,81.8L192.3,83.6L189.0,87.8ZM153.1,132.3L154.9,130.7L157.0,130.7L157.7,132.0L156.5,134.4L153.5,136.4L148.6,137.1ZM148.9,80.9L146.3,79.4L145.6,80.1L143.4,83.0L144.1,85.9L145.0,85.4ZM246.5,108.1L244.2,106.7L247.1,103.6L248.3,103.2L250.9,103.1L246.7,108.0ZM176.6,94.0L174.2,93.9L172.9,94.2L172.2,94.8L172.2,98.5L176.3,96.9L176.7,95.5ZM262.3,64.6L260.3,62.5L257.1,65.1L256.4,66.1L260.4,66.4ZM141.8,88.7L140.7,90.2L136.0,90.4L137.9,87.0L138.7,86.6L141.3,88.0ZM314.5,58.9L313.3,57.0L311.1,57.0L305.6,63.1L305.5,63.4L307.3,64.1L314.3,59.2ZM177.2,166.9L177.4,168.7L179.5,169.2L180.9,167.9L183.5,165.4L183.6,165.2L184.2,164.3L183.1,163.0L177.6,166.3ZM211.4,95.9L206.7,101.5L210.0,99.7L212.2,98.1ZM307.2,57.0L310.2,55.5L310.6,55.6L311.1,57.0L305.6,63.1L304.8,59.0L305.5,58.1ZM155.6,142.9L152.6,145.0L151.0,145.4L150.9,145.4L150.8,145.0L151.2,143.1L156.9,137.0L157.5,137.3L157.9,138.4ZM184.1,169.6L183.5,165.4L183.6,165.2L187.3,167.6L186.0,169.4ZM162.3,90.7L157.5,92.8L162.1,86.8L163.0,86.6L164.3,87.4L164.3,88.3ZM316.9,52.5L315.8,49.8L316.0,49.2L318.5,48.6L320.5,49.4L319.3,51.4L318.6,51.8ZM210.4,50.4L209.7,52.3L214.3,51.6L214.5,51.4ZM212.8,89.0L212.4,91.5L212.9,92.2L217.2,89.5L219.3,86.6L218.7,85.2L215.0,86.8ZM184.0,150.2L183.4,150.2L180.7,150.9L180.5,151.2L179.9,152.0L178.5,154.3L183.5,153.5L185.5,151.5ZM285.9,69.3L290.1,67.1L290.6,66.3L292.4,62.1L290.0,63.6L286.9,67.0ZM206.9,138.7L207.0,138.9L210.0,138.2L211.6,136.2L209.8,134.3L209.4,134.1L207.3,136.7ZM147.9,140.5L153.0,137.0L150.4,141.3L150.2,141.7L149.7,141.7L147.7,141.3ZM322.2,62.5L322.4,64.3L326.1,61.9L322.6,62.0Z"/><path fill="#767676" stroke="#767676" stroke-width=".4" d="M315.8,53.9L313.3,57.0L311.1,57.0L310.6,55.6L312.8,53.5L316.2,53.3ZM141.8,88.7L143.6,87.0L145.5,87.4L146.2,88.1L145.8,88.7L144.6,90.1L140.8,91.5L140.7,90.2ZM233.1,47.6L232.6,46.9L236.2,43.9L240.2,42.9L239.7,43.8L235.7,46.8ZM148.6,137.1L153.5,136.4L153.0,137.0L147.9,140.5L146.8,138.3L146.8,138.2ZM120.5,55.9L122.3,54.6L122.9,53.5L123.2,51.6L122.7,50.7L116.5,54.8L117.5,55.7ZM281.9,66.0L277.8,62.8L277.3,63.2L276.4,71.0L276.6,71.1L276.9,70.8ZM125.5,100.9L126.6,96.0L123.5,96.0L122.9,96.5L117.1,105.5ZM137.6,86.8L139.3,81.9L136.7,82.0L133.6,85.3L133.5,85.8L134.2,86.1ZM300.5,84.5L304.9,76.8L305.2,76.0L305.0,75.7L300.3,78.3L298.1,80.2ZM167.2,56.5L164.7,61.9L167.8,59.4L169.0,57.6L168.9,55.9L168.3,55.8ZM136.7,82.0L133.6,85.3L132.0,84.9L129.7,81.8L132.8,79.5L137.0,81.1ZM180.6,83.1L184.2,79.9L185.8,82.3L184.9,83.3L180.5,83.6ZM231.0,105.1L229.8,103.9L228.7,104.5L225.5,109.7L226.1,110.2L227.0,110.4L228.9,109.9ZM186.0,169.4L187.3,167.6L188.9,166.3L193.5,165.5L192.8,168.3L190.6,169.8L185.9,170.1ZM194.9,81.8L196.0,81.7L201.8,77.2L201.7,76.5L201.6,75.8L195.0,77.4L194.2,78.5L194.7,81.8ZM134.3,125.7L135.9,123.8L138.0,122.3L140.0,122.7L138.6,125.2ZM218.7,129.4L217.9,127.0L218.0,125.6L219.0,124.8L221.0,125.0L221.6,129.2ZM132.5,67.2L131.7,67.6L131.4,68.0L130.6,72.3L135.2,69.3L134.7,66.6L133.9,66.7ZM184.9,131.1L186.3,129.0L187.5,129.8L186.1,132.0ZM257.3,71.3L256.9,70.6L254.2,71.2L252.5,73.9L251.9,75.0L253.0,77.1L254.9,76.4L255.5,76.1L256.7,73.9ZM141.8,72.0L144.2,71.6L143.5,74.3L142.1,76.3L140.5,77.4L139.6,77.9L139.2,77.6L141.5,72.2ZM160.5,106.3L162.2,107.3L164.5,105.5L164.7,104.9L162.1,104.5ZM329.3,74.1L327.4,75.0L326.0,73.8L329.6,73.2ZM166.1,42.1L163.7,44.8L165.3,45.9L165.3,45.8L170.0,43.4L170.2,43.3L169.7,41.5ZM300.3,78.3L303.8,71.4L305.9,73.4L305.0,75.7ZM148.5,104.6L144.7,108.0L142.4,106.9L145.0,102.6ZM159.7,175.0L50.8,284.6L40.7,296.1L53.6,321.2L116.5,241.0L162.5,178.0L162.3,175.2ZM173.8,175.1L177.9,172.7L178.8,173.2L174.6,179.5ZM189.0,64.6L190.1,62.5L193.6,60.2L195.7,61.4L194.4,63.3L194.2,63.5L189.4,67.1L188.9,67.2ZM192.9,120.8L188.9,118.5L189.7,117.5L193.6,119.1L193.3,120.6ZM160.8,69.0L164.1,68.3L163.5,72.1L161.6,73.7L160.2,73.9ZM219.3,92.7L223.3,89.6L223.8,89.4L224.1,89.4L224.9,89.9L225.3,92.8L225.3,93.1L223.6,95.8L221.0,97.4L218.0,97.1ZM187.0,136.8L183.4,136.1L180.8,139.1L183.3,140.2ZM239.8,44.6L235.8,49.5L235.7,49.7L236.7,49.9L239.8,44.7ZM128.7,74.1L130.6,72.3L135.2,69.3L135.5,69.3L133.2,74.4L128.8,76.6ZM313.2,73.9L316.4,71.8L317.1,70.9L318.4,68.3L314.7,68.2L312.4,70.5L312.0,73.1ZM204.9,165.5L202.0,165.8L204.2,163.0L206.7,163.3L205.2,165.2ZM129.9,65.2L128.7,65.7L127.9,68.6L128.1,68.8L131.4,67.3ZM223.2,77.0L222.3,76.7L222.7,75.6L226.3,73.3L225.4,75.9ZM130.1,120.9L102.6,141.3L129.6,127.1L130.9,123.0ZM129.0,131.2L114.7,149.1L85.4,175.3L21.5,226.9L-4.9,245.3L-36.7,230.2L102.6,141.3L129.6,127.1L131.5,126.9L131.7,127.0ZM255.6,76.1L260.1,74.3L261.6,76.4L256.5,78.2ZM184.9,131.1L186.1,132.0L186.1,133.7L185.7,134.2L183.6,135.8L182.8,133.2ZM125.5,110.8L122.9,114.3L118.4,119.3L43.8,169.1L125.2,105.7L126.9,106.5ZM214.0,115.4L214.6,118.7L211.1,121.1L211.0,121.1L211.3,117.9ZM220.0,140.4L222.4,140.9L223.7,139.6L224.8,136.3L219.9,139.7ZM267.8,99.0L270.1,98.5L267.0,102.1L266.8,101.2ZM141.4,165.5L26.0,279.4L40.7,296.1L50.8,284.6L86.7,242.9L141.4,169.9L142.2,165.9ZM313.9,79.3L313.0,79.8L312.1,77.0L313.0,75.8L315.7,75.7L315.9,77.2ZM220.5,117.7L220.3,116.3L217.9,116.2L214.9,118.6L216.1,120.9L218.7,119.9L220.4,118.0ZM280.1,77.3L280.5,78.3L278.7,80.7L274.4,83.2L274.5,82.9L279.6,77.2ZM262.5,101.2L266.8,101.2L267.0,102.1L264.0,122.7L262.8,122.5L258.2,110.1ZM266.5,72.1L262.1,71.6L260.6,73.9L266.5,72.2ZM307.4,66.1L307.3,64.1L305.5,63.4L304.6,64.0L301.3,72.0L303.7,71.2L306.7,68.1ZM312.3,63.9L313.0,63.0L314.3,59.2L307.3,64.1L307.4,66.1ZM150.2,141.7L151.2,143.1L156.9,137.0L156.8,136.9L150.4,141.3ZM317.2,63.0L313.0,63.0L312.3,63.9L312.4,65.7L316.3,64.3L317.2,63.1ZM171.5,57.7L173.3,54.4L173.0,54.1L168.9,55.9L169.0,57.6ZM254.9,76.4L253.0,77.1L252.8,77.2L251.2,80.0L251.0,83.0L251.9,82.5ZM308.7,94.4L287.4,169.2L283.6,158.7L301.6,95.2L304.0,92.1ZM319.7,72.1L316.4,71.8L317.1,70.9L321.7,68.7L322.1,69.9L321.4,70.6ZM154.3,85.5L154.0,86.4L150.3,89.2L150.3,85.5L153.0,81.9ZM142.4,46.9L139.5,48.1L139.2,47.7L143.7,41.3L145.8,41.7ZM231.1,113.7L228.4,114.5L227.5,116.0L228.8,116.5L230.4,115.8ZM206.3,31.0L206.8,30.5L225.3,5.5L235.9,-11.2L183.5,41.3L178.6,51.2L189.9,46.4ZM236.0,103.4L233.7,106.2L237.2,106.4L238.9,104.7L239.4,103.1L237.0,102.7ZM141.3,88.0L142.8,83.5L138.7,86.6ZM322.3,69.9L322.1,69.9L321.7,68.7L321.8,68.3L330.2,61.8L328.6,64.9ZM164.8,140.2L165.2,142.4L163.8,144.7L162.3,146.6L157.3,149.5L158.0,145.6L161.5,140.6ZM140.6,91.8L142.0,94.6L144.6,94.0L144.6,90.1L140.8,91.5ZM262.9,82.6L263.3,80.0L259.6,81.9L259.8,82.6L261.9,83.3ZM170.6,172.3L169.6,167.2L171.4,166.9L172.2,167.7ZM163.8,154.6L163.1,155.0L161.3,158.0L161.1,160.6L162.1,160.6L163.2,160.2L165.9,155.9ZM170.0,43.4L170.2,43.3L174.4,41.4L172.2,46.2L171.8,46.6L168.6,47.3ZM148.9,80.9L145.0,85.4L147.0,84.5L148.5,83.4L150.1,81.6Z"/><path fill="#7c7c7c" stroke="#7c7c7c" stroke-width=".4" d="M205.5,5.2L165.5,25.8L159.8,32.0L160.8,35.5L190.9,17.0ZM181.0,175.1L176.7,184.3L172.5,189.1L174.6,179.5L178.8,173.2L178.8,173.2ZM316.0,49.2L318.5,48.6L321.2,46.2L322.0,44.8L318.2,45.0L317.4,45.4L315.6,48.4ZM239.8,44.6L239.7,43.8L235.7,46.8L235.8,49.5ZM261.9,83.3L259.8,82.6L258.2,85.1L257.5,88.7L260.9,86.1ZM166.4,41.4L168.7,38.3L172.6,33.7L178.6,28.7L169.7,41.5L166.1,42.1ZM301.4,65.7L301.5,65.7L304.6,64.0L305.5,63.4L305.6,63.1L304.8,59.0L301.4,60.7L298.2,63.7L298.3,64.1L298.6,64.7ZM136.1,109.3L138.4,106.8L140.5,107.7L136.2,109.6ZM184.9,112.6L187.4,110.6L189.2,108.4L189.7,107.5L188.6,106.5L187.3,107.3L182.4,110.6ZM107.4,81.3L104.9,81.0L-2.6,150.7L-106.7,224.1L-46.9,227.9L84.0,115.2L97.5,99.6L108.9,83.4L107.8,81.4ZM106.7,41.0L-50.0,79.2L-82.3,145.0L0.6,105.6L105.0,46.2L108.6,40.8ZM259.5,81.8L260.7,79.3L256.2,79.7L254.6,82.3L254.6,82.3L257.4,82.8ZM138.2,70.2L137.4,68.7L135.5,69.3L133.2,74.4L135.4,74.6L137.2,73.4ZM211.6,136.2L209.8,134.3L215.0,132.9L215.1,132.9L213.9,134.7ZM267.8,99.0L270.1,98.5L278.2,94.2L277.3,90.7L275.4,91.3L267.0,97.4ZM320.6,63.7L319.5,65.3L315.8,66.4L316.3,64.3L317.2,63.1ZM144.0,101.3L139.9,102.4L137.8,105.1L137.7,105.9L138.5,106.5L144.1,101.5ZM232.2,104.0L231.7,102.5L229.8,103.9L231.0,105.1ZM265.5,81.9L267.3,84.1L265.1,86.3L264.1,86.5L262.8,85.9ZM188.3,173.5L188.1,172.6L190.6,169.8L192.8,168.3L193.5,168.8L193.9,171.7L189.0,174.8ZM148.6,45.1L147.1,51.7L147.1,52.0L152.1,46.7L155.0,42.7L155.2,42.3L153.1,42.7L148.9,44.8ZM248.9,72.3L252.5,73.9L254.2,71.2L253.5,70.7ZM215.0,86.8L218.7,85.2L219.9,82.5L219.7,82.1L219.0,81.8L218.0,82.4L214.6,85.1ZM150.0,89.6L149.3,91.2L146.9,93.8L145.7,94.6L144.6,94.0L144.6,90.1L145.8,88.7ZM122.4,41.0L114.8,43.8L114.0,44.8L114.2,45.4L120.0,45.8ZM154.6,108.4L152.0,110.4L151.4,111.3L155.9,110.7L156.0,110.5ZM230.4,69.8L235.3,69.5L235.2,70.5L230.6,72.9L229.7,73.2L229.9,70.4ZM233.7,106.2L232.9,106.7L229.6,109.8L230.0,110.3L233.3,110.7L235.5,110.3L237.2,106.4ZM153.7,94.6L152.3,90.8L149.3,91.2L146.9,93.8L150.8,95.0ZM173.3,54.4L173.0,54.1L173.7,52.2L175.0,50.7L178.5,51.3L178.0,52.2L176.6,53.8ZM203.4,78.3L202.7,77.3L204.4,75.7L211.1,70.0L204.9,77.0L203.5,78.2ZM226.6,156.7L226.9,150.0L229.8,144.9L232.4,146.2L229.2,159.6ZM211.7,88.9L209.6,89.0L209.1,87.3L212.0,83.7L212.4,83.8L213.7,84.9ZM187.4,110.6L188.4,112.5L191.5,111.0L189.2,108.4ZM221.3,45.6L228.2,46.8L231.0,44.9L229.6,24.8ZM139.9,102.4L137.8,105.1L133.1,106.1L133.0,105.5L134.3,103.9L138.1,101.8ZM191.0,125.3L189.8,126.1L191.5,121.9L192.3,121.4L192.0,123.4ZM307.5,53.5L308.6,52.1L310.2,51.4L310.2,55.5L307.2,57.0ZM165.3,45.8L168.2,47.5L168.6,47.3L170.0,43.4ZM200.6,52.8L202.0,55.3L201.6,55.9L197.8,55.3ZM220.0,154.1L213.9,156.5L213.7,155.0L214.5,153.7L218.6,151.0L220.3,152.2L220.4,153.9ZM214.5,153.7L212.6,152.7L210.3,154.0L211.1,156.6L213.7,155.0ZM270.1,98.5L278.2,94.2L279.3,95.8L277.8,103.4L273.7,118.3L270.3,124.8L264.0,122.7L267.0,102.1ZM291.5,50.9L283.0,58.8L283.0,64.2L287.1,61.5L290.9,57.6ZM122.9,83.9L121.0,90.2L115.9,92.7L116.9,91.2ZM166.3,52.4L166.9,52.4L168.9,54.1L168.3,55.8L167.2,56.5L164.7,57.2L165.4,53.1L165.4,53.1ZM172.6,33.7L165.3,37.5L159.2,38.5L160.8,35.5L190.9,17.0L178.6,28.7ZM171.3,140.9L168.1,143.8L171.6,144.7L175.1,142.8L175.7,141.8L175.3,140.3L175.0,140.0ZM215.2,78.0L211.4,74.2L212.3,72.1L213.0,70.7L217.2,70.5L217.5,71.6ZM165.6,128.1L163.6,130.1L160.5,130.8L166.0,123.5L168.1,124.8L167.9,125.2ZM237.0,102.7L237.7,101.6L243.1,98.9L243.1,99.0L240.0,102.5L239.4,103.1ZM263.4,68.4L261.3,68.8L257.3,71.3L256.7,73.9L262.0,70.6ZM204.6,130.6L206.5,126.6L210.3,126.3L207.0,129.7ZM217.0,93.3L218.4,92.5L218.1,90.5L217.2,89.5L212.9,92.2L212.5,93.1L214.5,94.0ZM154.8,94.9L155.1,94.6L154.9,89.1L152.3,90.8L153.7,94.6ZM322.0,65.1L320.0,66.2L319.0,67.9L321.7,68.1L322.9,65.6ZM262.0,70.6L262.1,71.6L260.6,73.9L260.1,74.3L255.6,76.1L255.5,76.1L256.7,73.9ZM168.9,54.1L168.3,55.8L168.9,55.9L173.0,54.1L173.7,52.2L171.0,52.2L170.6,52.4ZM269.3,82.7L269.5,82.8L272.7,82.3L273.9,81.3L276.7,76.8L274.2,75.8L273.1,76.6ZM143.4,145.0L139.7,149.7L138.5,150.7L128.2,156.5L137.3,146.3L141.3,143.1L142.3,143.0ZM184.2,67.8L184.5,64.3L186.7,63.0L190.1,62.5L189.0,64.6ZM164.3,92.0L164.4,92.8L165.9,93.0L167.0,92.0L170.0,86.5L170.0,86.2L169.9,86.0L166.2,88.2ZM193.6,119.1L195.8,115.1L195.6,115.1L190.2,116.6L189.7,117.5ZM142.7,126.7L146.2,126.7L152.1,117.8L152.0,117.5L151.9,117.6L143.6,123.9L142.5,126.3ZM236.0,103.4L234.6,102.3L234.6,99.2L234.8,98.9L239.6,96.6L237.7,101.6L237.0,102.7ZM125.2,38.6L126.1,36.9L122.5,35.7L117.8,37.9L114.9,43.5L114.8,43.8L122.4,41.0ZM228.9,121.9L232.6,124.2L237.9,116.7L237.8,116.4L234.3,115.7ZM328.3,69.6L328.6,64.9L330.2,61.8L330.8,60.7L332.4,60.9L335.2,63.6L329.7,69.5L328.4,69.8ZM131.9,55.5L129.2,57.9L127.0,55.9L129.1,52.1L134.7,47.8L135.2,48.0L132.7,54.6ZM181.7,155.8L180.4,160.1L180.2,160.2L178.1,160.0L176.5,159.1L176.2,158.5L177.6,156.2ZM206.8,88.3L206.4,88.5L202.3,94.9L205.6,94.3ZM150.1,130.7L153.1,130.4L146.4,135.3ZM208.4,158.9L210.0,157.7L211.1,156.6L210.3,154.0L207.9,154.9L207.8,155.0L207.9,157.7ZM249.7,98.3L249.2,95.4L247.6,99.4ZM213.8,107.2L210.3,108.9L208.6,107.4L209.0,105.8L214.0,102.4L215.7,104.3ZM150.8,145.0L151.2,143.1L150.2,141.7L149.7,141.7L146.2,145.2L146.3,145.2ZM117.3,47.4L114.5,46.4L113.5,49.6L115.8,49.1Z"/><path fill="#838383" stroke="#838383" stroke-width=".4" d="M195.8,128.0L200.8,131.5L203.0,128.0L202.6,127.7L199.7,126.2L196.9,126.6ZM181.0,118.5L175.7,120.6L177.9,116.7L181.0,118.3ZM191.5,111.0L188.9,115.2L188.6,115.1L188.4,112.5L191.5,111.0ZM128.6,82.2L129.7,81.8L132.0,84.9L125.2,89.8L124.5,89.9L123.2,89.2ZM295.6,87.6L290.1,87.0L290.4,91.0L292.4,90.9ZM253.4,89.3L253.5,89.7L254.6,90.7L256.0,90.4L257.5,88.7L258.2,85.1L254.7,86.4L254.0,87.1ZM268.1,62.3L268.2,62.2L265.2,58.6L261.5,60.3L260.3,62.5L262.3,64.6ZM225.9,99.0L227.4,96.4L228.2,99.1ZM189.4,80.4L188.2,80.7L188.9,78.3L192.5,74.9L189.6,80.4ZM228.2,141.6L227.5,139.7L224.6,142.0L224.7,145.6L225.7,145.5ZM246.5,80.4L243.0,80.7L243.4,78.7L244.1,77.4L245.2,75.9L251.9,75.0L253.0,77.1L252.8,77.2ZM171.5,59.7L167.8,59.4L169.0,57.6L171.5,57.7ZM131.7,67.6L131.4,68.0L128.5,70.3L128.1,68.8L131.4,67.3ZM143.8,136.5L136.4,139.1L133.5,142.4L137.9,141.7L140.6,140.4ZM145.8,59.4L140.7,57.8L139.2,58.8L138.4,63.4L138.7,63.4ZM67.9,74.8L76.5,70.8L93.3,62.0L108.2,47.7L107.0,46.0L105.0,46.2L0.6,105.6ZM218.1,144.1L217.3,146.7L215.3,147.5L213.1,147.5L211.5,146.5L216.2,142.0ZM145.0,30.0L141.9,31.3L140.3,33.9L139.9,36.2L140.1,37.1L141.5,37.7L143.5,37.2L147.6,34.3L148.0,31.7L147.5,30.9ZM147.6,110.0L146.6,111.0L146.5,112.5L149.1,113.3L150.6,112.1L151.4,111.3L152.0,110.4L151.4,108.5ZM172.2,94.8L172.9,94.2L172.7,91.8L165.2,95.8L165.1,96.1L166.6,97.4L169.0,97.0L170.2,96.4ZM144.0,20.7L140.9,26.1L137.3,28.4L136.8,26.8L142.7,21.6ZM230.6,68.9L233.6,64.4L233.7,64.3L238.0,63.2L237.5,66.7L235.3,69.5L230.4,69.8ZM242.9,110.8L242.8,107.6L240.8,108.1L238.1,110.2L241.0,112.5L242.5,111.4ZM328.8,78.6L329.1,80.9L330.5,81.2L335.1,77.4L332.9,75.8L332.2,75.9ZM206.8,30.5L225.3,5.5L211.1,42.5L206.6,49.7L202.0,55.3L200.6,52.8ZM223.3,71.7L220.8,74.2L219.6,74.6L220.6,72.2L223.5,68.7L223.4,71.5ZM206.7,145.8L208.5,146.3L216.7,137.7L216.7,137.6L216.4,137.3L215.3,137.3L210.3,140.1ZM226.1,110.2L225.5,109.7L222.9,109.8L219.9,111.1L217.9,116.2L220.3,116.3ZM318.7,78.9L321.0,77.6L321.8,77.4L323.7,77.8L320.9,81.4L319.5,83.1L315.6,84.8L315.5,84.6L318.0,79.9ZM161.4,63.7L159.9,65.9L155.6,67.8L155.5,67.8L154.3,65.8L158.8,60.4L160.2,60.6ZM185.7,134.2L188.3,134.0L188.2,136.1L187.0,136.8L183.4,136.1L183.6,135.8ZM210.0,131.9L212.5,129.6L214.3,127.3L212.9,125.4L211.6,125.5L210.3,126.3L207.0,129.7L208.4,131.6ZM265.5,81.2L267.5,78.7L271.5,77.0L273.1,76.6L269.3,82.7L269.0,82.9L267.3,84.1L265.5,81.9ZM220.0,154.1L212.3,160.8L213.1,158.2L213.9,156.5ZM214.0,115.4L214.6,118.7L214.9,118.6L217.9,116.2L219.9,111.1L216.7,110.9L214.9,112.7ZM147.9,140.5L146.8,138.3L142.3,143.0L143.4,145.0L144.4,144.6L147.7,141.3ZM113.0,50.3L112.5,50.5L109.9,50.6L111.9,46.2L114.0,44.8L114.2,45.4L114.5,46.4L113.5,49.6ZM206.8,118.1L208.8,115.9L208.8,115.8L207.9,114.7L204.1,116.3L202.2,121.6ZM282.0,66.0L283.0,64.2L283.0,58.8L280.3,60.5L277.8,62.8L281.9,66.0ZM213.6,97.5L214.5,94.0L217.0,93.3ZM229.9,70.4L229.7,73.2L228.1,76.1L227.5,76.4L225.4,75.9L226.3,73.3L226.7,72.5ZM153.5,136.4L153.0,137.0L150.4,141.3L156.8,136.9L156.5,134.4ZM325.8,73.6L326.0,73.8L327.4,75.0L325.1,77.2L325.1,74.6ZM138.5,126.5L138.5,126.5L138.6,125.2L140.0,122.7L142.7,120.7L143.1,120.7L143.5,122.9L143.6,123.9L142.5,126.3ZM165.5,175.8L169.5,176.9L116.5,241.0L162.5,178.0ZM322.2,62.5L322.4,64.3L322.0,65.1L320.0,66.2L319.5,65.3L320.6,63.7ZM218.6,151.0L219.4,147.6L218.8,146.6L217.3,146.7L215.3,147.5L212.6,152.7L214.5,153.7ZM222.2,129.7L222.2,129.7L223.5,128.6L227.4,122.6L221.0,125.0L221.6,129.2ZM184.7,177.0L188.3,173.5L189.0,174.8L188.1,176.0L184.0,178.5ZM252.3,86.2L252.3,85.6L254.6,82.3L257.4,82.8L254.7,86.4L254.0,87.1ZM183.5,153.5L178.5,154.3L177.6,155.4L177.6,156.2L181.7,155.8ZM136.1,109.3L133.5,109.1L137.7,105.9L138.5,106.5L138.4,106.8ZM213.7,155.0L211.1,156.6L210.0,157.7L213.1,158.2L213.9,156.5ZM332.6,30.7L384.1,-13.6L399.1,-28.2L437.3,-71.6L380.3,-120.7L315.2,39.1L314.8,40.2L316.3,42.7ZM259.2,90.9L265.0,90.8L265.3,89.2L265.1,86.3L264.1,86.5ZM125.3,71.0L127.7,71.4L127.3,73.9L121.9,76.6L121.1,76.0L123.1,71.6ZM117.2,27.2L116.0,29.5L109.1,32.8L104.8,31.6L108.7,29.2L115.6,25.7L115.9,25.6L117.0,26.7ZM140.7,90.2L140.8,91.5L140.6,91.8L137.1,95.2L134.3,95.4L133.5,95.0L133.5,92.8L136.0,90.4ZM181.0,118.3L177.9,116.7L178.2,115.5L183.4,113.9ZM114.6,72.0L112.1,73.0L109.9,75.2L110.4,76.9L111.1,77.2L114.7,75.2L115.0,72.1ZM139.1,58.8L135.8,57.4L137.4,54.7L139.3,52.4L139.5,52.4L141.8,56.1L140.7,57.8L139.2,58.8ZM303.5,50.9L308.6,52.1L310.2,51.4L311.4,50.3L311.1,47.1L309.6,47.0L306.0,48.9ZM211.1,121.1L214.6,118.7L214.9,118.6L216.1,120.9L212.9,125.4L211.6,125.5L210.8,122.0ZM313.0,75.8L315.7,75.7L318.8,73.6L319.7,72.1L316.4,71.8L313.2,73.9ZM127.2,101.6L125.2,105.7L43.8,169.1L38.6,172.7L117.1,105.5L125.5,100.9L127.2,101.4ZM213.3,171.6L211.7,161.7L209.5,161.6L206.7,163.3L205.2,165.2ZM182.4,59.8L179.8,64.0L184.5,64.3L186.7,63.0L189.2,58.9L186.4,57.7ZM210.4,50.4L209.7,52.3L208.2,54.2L206.9,54.2L206.6,49.7L211.1,42.5L210.9,48.6ZM128.7,74.1L127.3,73.9L127.7,71.4L128.5,70.3L131.4,68.0L130.6,72.3ZM203.4,78.3L202.5,80.1L202.0,80.5L197.0,83.0L196.0,81.7L201.8,77.2L202.7,77.3ZM328.8,50.9L327.1,48.9L324.1,51.8L324.0,52.2L323.3,54.7L324.7,55.9L325.5,55.3ZM187.9,127.0L186.4,128.2L182.7,128.5L182.8,127.9L183.3,126.7L188.5,123.9ZM117.8,73.8L120.6,70.1L120.6,70.1L119.0,70.2L115.0,72.1L114.7,75.2L115.6,75.6ZM247.1,103.6L245.5,101.4L245.6,101.0L246.8,99.9L247.6,99.4L249.7,98.3L250.8,97.8L248.3,103.2ZM119.8,46.3L117.3,47.4L114.5,46.4L114.2,45.4L120.0,45.8ZM140.9,26.1L141.4,28.4L136.7,29.6L137.3,28.4ZM268.0,72.3L268.0,72.2L270.2,70.9L276.4,71.0L276.6,71.1L274.2,75.8L273.1,76.6L271.5,77.0ZM237.8,72.1L243.8,67.4L245.9,70.2L245.8,71.6L238.0,75.6ZM313.8,84.6L307.1,89.1L303.7,90.1L301.6,88.1L302.4,86.1L303.3,85.4L310.6,83.5ZM122.5,35.7L122.6,34.6L120.8,33.3L116.9,34.4L116.2,36.7L117.8,37.9ZM171.2,112.4L168.8,117.5L169.2,118.1L172.3,117.5L175.6,115.1L177.1,110.1L176.8,110.1L173.2,110.9L173.2,110.9ZM308.9,75.3L312.0,73.1L312.4,70.5L311.2,70.4L310.4,70.7L305.9,73.4L305.0,75.7L305.2,76.0ZM172.8,163.5L178.1,160.0L180.2,160.2L177.4,163.3L171.4,166.9L169.6,167.2L169.3,167.2ZM207.9,154.4L208.3,147.7L208.8,146.7L211.5,146.5L213.1,147.5L208.0,154.4ZM120.4,60.4L120.8,60.2L125.1,56.7L122.3,54.6L120.5,55.9L118.9,59.1L119.3,60.6ZM170.6,173.2L167.0,172.7L165.5,175.8L169.5,176.9L171.0,175.7L171.4,173.7ZM121.5,28.3L122.3,29.8L116.9,34.3L116.4,33.9ZM169.7,41.5L170.2,43.3L174.4,41.4L237.3,-13.2L241.6,-18.8L243.4,-21.6L205.5,5.2L190.9,17.0L178.6,28.7ZM209.1,87.3L206.8,88.3L206.4,88.5L203.5,88.2L212.1,81.2L212.7,81.0L212.0,83.7ZM208.3,159.1L209.5,161.6L206.7,163.3L204.2,163.0L204.5,161.8ZM228.8,116.5L227.1,120.4L223.4,119.9L223.9,118.9L225.1,117.5L227.5,116.0ZM108.0,55.9L112.5,50.5L109.9,50.6L103.4,57.7ZM262.8,95.7L263.0,98.4L259.8,100.7L253.5,104.8L253.1,103.8L256.2,100.6ZM106.2,79.6L107.1,77.4L97.7,80.4L-2.1,150.3L-2.6,150.7L104.9,81.0ZM205.6,94.3L202.3,94.9L201.6,95.3L201.1,95.7L199.0,100.2L199.1,101.0L205.8,96.7L205.8,96.7L205.6,94.3Z"/><path fill="#898989" stroke="#898989" stroke-width=".4" d="M150.3,89.2L150.0,89.6L145.8,88.7L146.2,88.1L146.8,87.5L150.3,85.5ZM167.1,82.5L166.6,83.1L163.0,86.6L162.1,86.8L160.3,84.4L161.8,82.0L164.8,81.2ZM172.2,167.7L171.4,166.9L177.4,163.3L177.6,166.3L177.2,166.9L173.2,168.5ZM120.7,65.0L121.7,64.7L121.9,67.2L121.3,69.2L120.6,70.1L119.0,70.2L118.6,67.9ZM160.1,23.0L161.2,22.6L164.1,19.9L162.1,8.5L161.2,10.3L159.7,22.9L159.7,23.1ZM175.9,99.1L177.7,99.0L179.5,100.4L178.0,103.0L173.5,105.0L174.5,100.4ZM194.4,63.3L196.4,66.1L194.5,68.0L193.6,66.5L194.2,63.5ZM125.6,43.7L120.1,47.0L119.8,46.3L120.0,45.8L122.4,41.0L125.2,38.6L127.6,41.9L127.2,42.4ZM181.9,109.0L182.0,110.6L177.8,115.0L175.6,115.1L177.1,110.1L177.7,109.6L181.7,108.1ZM183.2,145.1L182.7,143.9L179.9,145.0L177.4,149.8L180.2,149.1ZM154.3,85.5L154.0,86.4L156.8,86.8L158.0,86.3L160.3,84.4L161.8,82.0L161.5,80.0L161.0,79.8L160.5,80.0ZM190.7,138.5L190.3,137.9L183.9,141.4L182.7,143.9L183.2,145.1L185.3,144.7L185.6,144.6L187.1,143.3ZM275.0,64.1L277.3,63.2L276.4,71.0L270.2,70.9L274.5,64.6ZM145.1,102.2L145.0,102.6L148.5,104.6L150.8,104.2L151.9,103.3L152.4,97.7ZM189.9,46.4L178.6,51.2L178.5,51.3L178.0,52.2L183.9,52.9ZM168.9,54.1L166.9,52.4L170.6,50.6L170.6,52.4ZM116.5,83.3L118.1,84.6L121.7,82.7L122.5,80.2L121.2,79.1ZM156.2,79.8L161.4,74.2L161.6,73.7L160.2,73.9L157.4,75.0L154.9,78.3L154.2,80.3ZM205.8,83.1L203.2,87.5L199.4,85.8L203.7,82.2L205.1,81.9ZM157.5,92.8L162.1,86.8L160.3,84.4L158.0,86.3L156.6,93.5ZM173.3,60.0L176.0,57.0L176.6,53.8L173.3,54.4L171.5,57.7L171.5,59.7L171.7,60.2ZM261.6,76.4L260.1,74.3L260.6,73.9L266.5,72.2L266.6,72.3L262.2,76.4ZM165.9,102.7L163.5,101.9L163.1,102.1L162.1,104.5L164.7,104.9L165.9,102.9ZM294.4,71.6L299.1,68.3L301.4,65.7L298.6,64.7L294.5,70.8ZM187.0,136.8L188.2,136.1L190.5,137.1L190.3,137.9L183.9,141.4L183.3,140.2ZM306.6,79.2L304.9,76.8L305.2,76.0L308.9,75.3ZM145.6,136.4L145.4,136.3L144.0,136.3L143.8,136.5L140.6,140.4L141.3,143.1L142.3,143.0L146.8,138.3L146.8,138.2ZM328.4,69.8L329.7,69.5L330.8,70.2L329.6,73.2L326.0,73.8L325.8,73.6L326.2,72.2ZM229.5,127.6L227.3,130.0L227.5,134.6L228.3,134.5L230.2,131.3L230.7,126.8ZM311.5,66.7L311.2,70.4L312.4,70.5L314.7,68.2L315.8,66.4L316.3,64.3L312.4,65.7ZM175.0,50.7L178.5,51.3L178.6,51.2L183.5,41.3L181.3,43.0L176.1,47.8ZM189.2,108.4L191.5,111.0L191.5,111.0L195.7,108.9L191.8,106.6L191.3,106.7L189.7,107.5ZM226.0,146.0L225.7,145.5L228.2,141.6L232.6,140.7L229.6,144.6ZM256.2,100.6L253.1,103.8L251.3,102.9L254.6,97.2L255.5,96.4L256.6,96.4ZM310.7,91.3L315.3,85.6L321.1,91.0L321.7,109.9L306.5,251.7L287.4,169.2L308.7,94.4ZM142.4,117.4L142.3,117.6L142.7,120.7L143.1,120.7L148.2,117.4L143.8,116.1ZM116.3,83.3L116.5,83.3L118.1,84.6L114.3,93.8L108.2,99.0L84.0,115.2L97.5,99.6L114.9,84.3ZM273.6,53.3L289.9,30.5L303.3,12.6L302.2,16.8L301.8,17.7L275.2,56.2L271.6,59.3L272.6,55.4ZM178.0,104.4L179.7,104.9L177.7,109.6L177.1,110.1L176.8,110.1L176.4,106.6L176.4,106.0ZM311.5,66.7L307.2,68.1L306.7,68.1L307.4,66.1L312.3,63.9L312.4,65.7ZM265.5,81.2L267.5,78.7L266.2,77.9L265.6,78.1L263.3,80.0L262.9,82.6ZM178.8,173.2L178.8,173.2L177.9,172.7L179.5,169.2L180.9,167.9L183.6,169.9ZM171.3,140.9L167.9,140.8L171.4,137.0L174.6,135.9L175.0,140.0ZM164.3,88.3L164.3,87.4L166.6,85.6L170.0,85.1L169.9,86.0L166.2,88.2ZM107.4,81.3L107.3,79.4L108.7,78.7L107.8,81.4ZM223.7,139.6L227.7,139.1L227.5,139.7L227.5,139.7L224.6,142.0L221.9,143.4L222.4,140.9ZM183.4,113.9L178.2,115.5L177.8,115.0L182.0,110.6L182.4,110.6L184.9,112.6L184.4,113.2ZM247.0,112.2L245.0,113.3L241.3,116.8L241.0,124.1L242.0,124.7L245.4,125.8L247.1,125.2L247.2,112.1ZM248.7,92.3L247.4,95.4L247.5,95.4L249.4,94.9L251.9,93.4L254.6,90.7L253.5,89.7ZM173.1,171.3L177.4,168.7L177.2,166.9L173.2,168.5ZM206.8,118.1L206.3,122.0L201.8,121.9L202.2,121.6ZM241.0,124.1L232.7,124.7L232.6,124.2L237.9,116.7L241.3,116.8ZM207.9,114.7L209.4,110.2L210.3,108.9L213.8,107.2L214.1,107.4L216.8,110.4L216.7,110.9L214.9,112.7L208.8,115.8ZM218.5,75.6L215.5,78.4L215.3,78.5L215.2,78.0L217.5,71.6L218.3,71.9ZM117.1,30.7L120.1,27.9L121.4,27.6L121.5,28.3L116.4,33.9L115.7,33.4ZM220.0,140.4L222.4,140.9L221.9,143.4L218.8,146.6L217.3,146.7L218.1,144.1ZM116.9,34.3L122.3,29.8L123.4,29.8L120.8,33.3L116.9,34.4ZM199.1,69.8L199.3,68.2L195.9,69.9L194.3,74.2L195.6,76.1L198.1,73.8ZM151.9,103.3L154.8,102.7L154.3,106.3L151.4,108.5L147.6,110.0L150.8,104.2ZM170.6,100.3L170.7,99.8L172.2,98.5L176.3,96.9L175.9,99.1L174.5,100.4L171.0,102.2L171.0,102.2ZM229.2,159.6L276.2,287.8L309.3,269.7L306.5,251.7L287.4,169.2L283.6,158.7L271.1,128.4L235.8,141.7L232.4,146.2ZM166.2,66.0L170.7,65.4L173.3,60.2L173.3,60.0L171.7,60.2L167.6,63.1ZM130.5,89.1L133.5,85.8L133.6,85.3L132.0,84.9L125.2,89.8L127.1,89.7ZM150.6,112.1L152.5,112.4L149.1,114.5L149.1,113.3ZM170.6,52.4L171.0,52.2L174.5,48.4L171.9,48.6L170.6,50.6ZM187.6,151.0L183.5,157.8L181.4,160.0L180.4,160.1L181.7,155.8L183.5,153.5L185.5,151.5ZM329.5,51.4L331.9,50.6L331.5,52.3L330.0,55.5L329.8,55.8L328.4,53.9ZM285.2,69.9L283.6,70.1L283.4,69.8L284.7,67.0L286.9,67.0L285.9,69.3ZM201.7,70.8L203.8,67.3L200.2,67.4L199.3,68.2L199.1,69.8ZM131.1,101.3L130.7,101.5L130.0,105.0L132.5,105.6L133.0,105.5L134.3,103.9L134.6,101.2ZM227.8,55.7L229.3,52.1L228.4,50.2L226.3,51.1L226.5,56.5ZM223.3,71.7L220.8,74.2L222.9,74.1L224.4,72.9ZM326.2,72.2L325.8,73.6L325.1,74.6L321.8,77.4L321.0,77.6L323.9,73.3ZM239.8,44.6L239.7,43.8L240.2,42.9L268.8,5.1L376.2,-127.6L377.9,-123.0L376.3,-120.3L242.6,47.9L242.0,47.8L239.8,44.7ZM331.4,74.1L332.3,73.3L335.4,71.3L335.4,71.4L335.3,72.3L332.9,75.8L332.2,75.9ZM116.9,91.2L115.9,92.7L114.3,93.8L118.1,84.6L121.7,82.7L121.8,82.9ZM128.7,65.7L127.9,68.6L125.3,71.0L123.1,71.6L123.0,71.2L128.0,66.0L128.6,65.8ZM141.9,28.8L141.4,28.4L136.7,29.6L134.8,32.0L138.6,30.7ZM188.5,123.9L185.2,121.8L188.1,119.3L190.1,122.5ZM128.0,66.0L125.5,66.0L121.3,69.2L120.6,70.1L120.6,70.1L123.0,71.2ZM194.5,68.0L194.1,69.3L190.1,69.2L190.1,69.1L193.6,66.5ZM241.6,-18.8L243.4,-21.6L272.8,-57.7L364.4,-165.7L376.2,-127.6L268.8,5.1L235.7,41.8L231.2,45.0L231.0,44.9L229.6,24.8ZM214.5,51.4L214.3,51.6L209.6,56.3L209.3,57.2L210.5,58.1L212.3,56.6L218.3,49.5L215.0,51.1ZM165.9,102.7L166.3,102.3L167.9,101.2L170.6,100.3L171.0,102.2L165.9,102.9ZM154.8,102.7L157.9,100.3L159.6,100.1L160.3,102.8L158.9,104.9L155.1,106.7L154.3,106.3ZM137.4,97.1L137.1,95.2L140.6,91.8L142.0,94.6L138.7,96.6ZM145.0,85.4L144.1,85.9L143.6,87.0L145.5,87.4L147.0,84.5ZM164.3,87.4L163.0,86.6L166.6,83.1L166.6,85.6Z"/><path fill="#8f8f8f" stroke="#8f8f8f" stroke-width=".4" d="M108.0,55.9L110.8,55.3L110.0,58.5L107.9,61.9L101.0,59.2L103.4,57.7ZM170.7,65.4L170.8,66.4L177.5,65.7L177.5,65.7L174.2,60.5L173.3,60.2ZM247.1,103.6L245.5,101.4L244.0,102.5L241.5,105.0L240.8,108.1L242.8,107.6L244.2,106.7ZM201.6,55.9L201.3,57.2L206.9,54.2L206.6,49.7L202.0,55.3ZM246.5,108.1L244.8,109.6L247.0,112.2L247.2,112.1L248.9,110.5L246.7,108.0ZM132.7,99.5L134.3,95.4L133.5,95.0L127.2,101.4L127.2,101.6L130.7,101.5L131.1,101.3ZM144.1,101.5L138.5,106.5L138.4,106.8L140.5,107.7L141.4,107.8L142.4,106.9L145.0,102.6L145.1,102.2ZM285.4,48.7L275.2,58.4L271.2,60.2L271.2,60.2L271.6,59.3L275.2,56.2ZM245.6,101.0L243.1,99.0L243.1,98.9L243.7,97.1L247.4,95.4L247.5,95.4L246.8,99.9ZM171.0,52.2L174.5,48.4L176.1,47.8L175.0,50.7L173.7,52.2ZM257.2,91.8L256.8,93.1L265.0,92.4L265.4,91.9L265.0,90.8L259.2,90.9ZM184.1,68.3L184.2,67.8L184.5,64.3L179.8,64.0L178.0,65.4L180.5,70.3ZM139.3,73.4L137.8,76.8L133.0,79.4L135.4,74.6L137.2,73.4ZM127.7,49.7L123.2,51.6L122.9,53.5L128.1,51.4ZM134.0,36.2L135.0,33.4L134.4,32.4L129.0,34.1L128.1,35.0L132.1,37.2ZM175.0,140.0L175.3,140.3L181.0,133.1L180.4,131.1L179.6,131.4L174.6,135.8L174.6,135.9ZM173.8,175.1L172.5,175.5L169.5,193.3L172.5,189.1L174.6,179.5ZM211.1,70.0L211.8,69.3L212.7,69.1L213.0,70.7L212.3,72.1L204.9,77.0ZM136.6,133.3L142.7,126.7L142.5,126.3L138.5,126.5L135.6,130.2L133.6,134.1ZM147.4,27.8L147.5,30.9L145.0,30.0ZM157.4,72.9L157.4,75.0L160.2,73.9L160.8,69.0L159.9,69.0L159.2,69.7ZM215.6,132.5L217.9,127.0L218.0,125.6L214.3,127.3L212.5,129.6L215.0,132.9L215.1,132.9L215.5,132.6ZM142.4,28.9L141.9,28.8L141.4,28.4L140.9,26.1L144.0,20.7L145.4,19.3L145.7,19.8L146.6,23.0L145.5,25.8L145.2,26.3ZM226.9,150.0L225.6,146.9L226.0,146.0L229.6,144.6L229.8,144.9ZM283.4,69.8L276.9,70.8L281.9,66.0L282.0,66.0L284.9,65.9L284.7,67.0ZM169.3,81.4L171.2,82.8L170.0,85.1L166.6,85.6L166.6,83.1L167.1,82.5ZM142.7,21.6L136.5,24.3L136.2,26.7L136.8,26.8ZM206.9,138.7L203.0,140.0L203.2,139.4L204.3,137.5L207.3,136.7ZM176.8,110.1L176.4,106.6L173.2,110.9ZM165.9,102.7L163.5,101.9L166.6,97.4L169.0,97.0L166.3,102.3ZM323.1,82.2L323.9,84.0L321.1,91.0L315.3,85.6L315.6,84.8L319.5,83.1ZM165.6,128.1L169.1,128.0L170.8,127.3L167.9,125.2ZM292.8,81.0L290.8,80.7L280.3,86.7L278.9,88.2L277.3,90.7L278.2,94.2L279.3,95.8L289.9,86.9ZM128.1,51.4L129.1,52.1L127.0,55.9L125.1,56.7L122.3,54.6L122.9,53.5ZM201.7,76.5L201.6,75.8L202.9,72.7L206.9,69.8L208.3,69.6L205.1,73.6ZM213.3,171.6L205.2,165.2L204.9,165.5L203.6,167.7L217.7,187.7ZM185.3,144.7L183.4,150.2L180.7,150.9L180.2,149.1L183.2,145.1ZM318.0,79.9L315.5,84.6L313.8,84.6L310.6,83.5L313.0,79.8L313.9,79.3ZM262.8,95.7L256.2,100.6L256.6,96.4L262.9,95.4ZM329.7,74.5L329.3,74.1L327.4,75.0L325.1,77.2L324.9,77.5L325.1,77.9L325.7,79.2L327.6,78.3ZM188.1,176.0L190.5,178.9L196.3,180.8L196.3,173.0L193.9,171.7L189.0,174.8ZM301.5,65.7L300.6,72.3L301.3,72.0L304.6,64.0ZM153.0,81.9L150.3,85.5L146.8,87.5L148.5,83.4L150.1,81.6L153.3,81.0ZM144.0,20.7L145.4,19.3L152.8,1.5L140.8,15.0L137.7,18.5L135.3,23.4L136.5,24.3L142.7,21.6ZM196.8,47.5L194.2,56.2L189.2,58.9L186.4,57.7ZM133.1,106.1L132.8,108.0L133.0,109.2L133.5,109.1L137.7,105.9L137.8,105.1ZM141.8,56.1L139.5,52.4L143.3,50.5L143.6,51.3L142.2,55.8ZM325.1,74.6L325.1,77.2L324.9,77.5L323.7,77.8L321.8,77.4ZM103.4,57.7L101.0,59.2L93.3,62.0L108.2,47.7L110.9,46.4L111.9,46.2L109.9,50.6ZM158.8,39.0L164.4,40.4L161.7,42.5L157.9,40.1ZM156.3,123.7L155.3,119.2L162.8,115.0L162.8,118.4L160.4,121.7ZM205.8,83.1L211.1,81.2L208.6,77.4L208.6,77.4L205.1,81.9ZM224.9,50.5L224.9,51.2L226.3,51.1L228.4,50.2L231.8,46.7L231.2,45.0L231.0,44.9L228.2,46.8ZM172.3,87.9L170.0,86.5L167.0,92.0L168.1,91.7ZM136.6,133.3L138.7,134.5L141.3,133.5L146.5,127.3L146.2,126.7L142.7,126.7ZM216.3,98.0L214.5,100.4L210.9,102.4L211.1,101.7L213.2,97.9L213.5,97.7ZM144.1,101.0L145.1,95.6L145.7,94.6L146.9,93.8L150.8,95.0ZM135.6,130.2L133.7,128.1L138.5,126.5L138.5,126.5ZM145.6,80.1L141.4,80.9L139.3,81.9L137.6,86.8L137.9,87.0L138.7,86.6L142.8,83.5L143.4,83.0ZM265.5,81.2L262.9,82.6L261.9,83.3L260.9,86.1L262.8,85.9L265.5,81.9ZM210.9,48.6L211.1,42.5L225.3,5.5L235.9,-11.2L237.3,-13.2L241.6,-18.8L229.6,24.8L221.3,45.6L219.9,48.1L219.0,49.1L218.3,49.5L215.0,51.1ZM142.2,55.8L143.6,51.3L147.1,51.7L147.1,52.0L147.1,52.3ZM136.7,98.1L132.7,99.5L131.1,101.3L134.6,101.2L136.6,98.4ZM170.4,135.9L171.4,137.0L174.6,135.9L174.6,135.8L174.3,132.0L173.1,131.9L170.8,134.3ZM181.0,118.5L175.7,120.6L174.3,122.0L174.7,126.0L175.2,125.8L181.1,121.9L181.7,120.0ZM195.7,128.0L195.7,128.1L188.3,134.0L185.7,134.2L186.1,133.7L189.5,130.0L191.6,128.8ZM119.3,60.6L118.9,59.1L116.5,59.3L114.1,61.0L115.0,62.6L117.9,61.7ZM282.0,66.0L283.0,64.2L287.1,61.5L285.7,65.4L284.9,65.9ZM127.9,68.6L128.1,68.8L128.5,70.3L127.7,71.4L125.3,71.0ZM324.1,51.8L320.9,52.5L319.3,51.4L320.5,49.4L321.8,48.4L329.5,44.4L327.1,48.9Z"/><path fill="#969696" stroke="#969696" stroke-width=".4" d="M188.9,166.3L187.3,167.6L183.6,165.2L184.2,164.3L187.1,162.5L189.4,164.1ZM285.2,69.9L285.7,72.8L288.3,72.2L290.1,69.8L290.1,67.1L285.9,69.3ZM285.4,48.7L275.2,56.2L301.8,17.7L294.5,40.6L288.9,45.8ZM120.7,65.0L121.7,64.7L124.3,62.5L120.8,60.2L120.4,60.4L119.5,64.7ZM263.2,98.6L267.0,97.4L267.8,99.0L266.8,101.2L262.5,101.2ZM399.1,-28.2L355.8,29.9L344.3,56.4L371.0,40.0L494.3,-50.2L437.3,-71.6ZM294.5,70.8L293.2,69.2L298.3,64.1L298.6,64.7ZM172.3,87.9L168.1,91.7L172.1,90.8L173.0,87.9ZM262.9,95.4L265.0,92.4L256.8,93.1L255.5,96.4L256.6,96.4ZM262.0,57.6L260.9,59.7L261.5,60.3L265.2,58.6L266.5,56.7L267.1,55.4L266.7,54.9ZM194.2,56.2L189.2,58.9L186.7,63.0L190.1,62.5L193.6,60.2L194.3,56.4ZM223.7,68.2L223.1,67.0L224.6,63.3L228.5,61.7L228.6,61.6L229.0,65.5L225.8,67.9ZM148.6,45.1L147.1,51.7L143.6,51.3L143.3,50.5L148.0,45.5ZM146.1,59.3L148.7,54.5L149.1,52.9L148.6,52.7L147.1,52.3L142.2,55.8L141.8,56.1L140.7,57.8L145.8,59.4ZM208.4,158.9L207.9,157.7L205.7,159.0L204.1,161.6L204.5,161.8L208.3,159.1ZM311.5,66.7L311.2,70.4L310.4,70.7L307.2,68.1ZM265.0,90.8L265.4,91.9L268.7,90.1L271.4,86.3L269.1,85.4L265.3,89.2ZM212.3,56.6L217.9,54.1L217.8,55.4L211.5,60.8L210.8,61.0L210.5,58.1ZM127.7,49.7L129.0,46.7L131.4,45.4L134.9,46.4L134.7,47.8L129.1,52.1L128.1,51.4ZM247.1,125.2L262.8,122.5L264.0,122.7L270.3,124.8L271.1,128.4L235.8,141.7L233.3,140.2L234.6,137.6L238.9,131.3L245.4,125.8ZM332.4,69.7L336.9,67.9L335.4,71.3L332.3,73.3ZM164.4,92.8L165.9,93.0L165.2,95.8L165.1,96.1L159.6,100.1L157.9,100.3L158.5,96.2ZM255.7,59.5L254.3,61.8L252.2,63.4L251.5,59.6L251.8,59.5ZM290.6,66.3L292.4,62.1L292.9,61.5L294.8,60.9L297.8,63.7L294.3,66.2ZM224.9,101.6L227.3,101.9L228.8,100.3L228.2,99.1L225.9,99.0L225.0,100.5ZM255.8,61.9L257.7,59.5L259.9,59.8L256.2,63.4L255.0,63.2ZM214.6,85.1L218.0,82.4L212.4,83.8L213.7,84.9ZM165.4,53.1L163.3,54.4L158.8,60.3L158.8,60.4L160.2,60.6L164.7,57.2ZM228.9,69.0L226.2,68.9L225.8,67.9L229.0,65.5L233.6,64.4L230.6,68.9ZM197.8,55.3L201.6,55.9L201.3,57.2L200.9,57.8L199.0,60.1L195.7,61.4L193.6,60.2L194.3,56.4ZM304.7,55.9L301.8,55.9L301.4,60.7L304.8,59.0L305.5,58.1ZM310.7,91.3L307.1,89.1L303.7,90.1L304.0,92.1L308.7,94.4ZM312.1,77.0L313.0,79.8L310.6,83.5L303.3,85.4L305.2,83.1ZM143.7,41.3L143.5,37.2L141.5,37.7L134.9,46.4L134.7,47.8L135.2,48.0L139.2,47.7ZM149.7,126.7L155.1,119.2L152.1,117.8L146.2,126.7L146.5,127.3L147.8,127.4ZM180.5,151.2L172.1,154.7L172.1,155.3L179.9,152.0ZM340.2,75.3L335.1,77.4L332.9,75.8L335.3,72.3ZM211.7,88.9L213.7,84.9L214.6,85.1L215.0,86.8L212.8,89.0ZM207.0,138.9L210.0,138.2L210.3,140.1L206.7,145.8L205.4,146.2L204.8,145.8L204.2,144.7L204.2,143.0ZM154.3,85.5L153.0,81.9L153.3,81.0L154.2,80.3L156.2,79.8L160.5,80.0ZM196.8,47.5L194.2,56.2L194.3,56.4L197.8,55.3L200.6,52.8L206.8,30.5L206.3,31.0ZM208.0,154.4L207.9,154.9L210.3,154.0L212.6,152.7L215.3,147.5L213.1,147.5ZM137.9,87.0L137.6,86.8L134.2,86.1L132.4,92.9L133.5,92.8L136.0,90.4ZM211.7,88.9L209.6,89.0L206.6,93.4L212.4,91.5L212.8,89.0ZM174.3,122.0L172.0,121.9L172.3,117.5L175.6,115.1L177.8,115.0L178.2,115.5L177.9,116.7L175.7,120.6ZM232.7,104.0L232.9,106.7L229.6,109.8L228.9,109.9L231.0,105.1L232.2,104.0ZM186.1,133.7L189.5,130.0L187.5,129.8L186.1,132.0ZM160.5,113.0L153.5,115.8L155.7,112.1L155.9,111.7L158.7,110.5ZM175.7,141.8L180.8,139.1L183.4,136.1L183.6,135.8L182.8,133.2L181.0,133.1L175.3,140.3ZM180.5,70.3L178.0,65.4L177.5,65.7L177.5,65.7L175.2,68.7L177.3,73.6L177.8,73.5ZM215.6,132.5L217.9,127.0L218.7,129.4ZM117.1,105.5L38.6,172.7L-38.0,229.7L-46.9,227.9L84.0,115.2L108.2,99.0L122.9,96.5ZM214.3,51.6L209.6,56.3L208.5,55.3L208.2,54.9L208.2,54.2L209.7,52.3ZM141.3,143.1L137.3,146.3L137.9,141.7L140.6,140.4ZM135.8,57.4L137.4,54.7L131.9,55.5L129.2,57.9L128.9,59.0L132.9,59.1ZM174.2,93.9L172.9,94.2L172.7,91.8L172.8,91.4L175.6,88.8L177.2,89.6ZM154.7,150.8L154.6,151.0L150.1,151.5L151.0,145.4L152.6,145.0ZM248.9,110.5L252.8,108.0L255.2,108.8L258.2,110.1L262.8,122.5L247.1,125.2L247.2,112.1ZM286.9,67.0L290.0,63.6L285.7,65.4L284.9,65.9L284.7,67.0ZM125.1,56.7L127.0,55.9L129.2,57.9L128.9,59.0L128.8,59.2L126.4,61.4L124.3,62.5L120.8,60.2ZM157.0,130.7L161.2,124.6L165.7,122.8L166.0,123.5L160.5,130.8L157.7,132.0Z"/><path fill="#9c9c9c" stroke="#9c9c9c" stroke-width=".4" d="M310.2,51.4L311.4,50.3L315.6,48.4L316.0,49.2L315.8,49.8L312.8,53.5L310.6,55.6L310.2,55.5ZM207.9,154.4L204.8,152.7L208.3,147.7ZM218.9,132.2L216.4,137.3L216.7,137.6L222.7,132.3L222.2,129.7L222.2,129.7ZM330.8,60.7L332.4,60.9L340.8,57.1L337.7,53.3L331.2,59.7L330.8,60.6ZM144.0,136.3L143.8,136.5L136.4,139.1L138.7,134.5L141.3,133.5L144.0,135.7ZM159.0,106.5L156.0,110.5L154.6,108.4L155.1,106.7L158.9,104.9ZM228.3,134.5L229.8,135.4L227.7,139.1L223.7,139.6L224.8,136.3L225.6,135.5L227.5,134.6ZM165.6,128.1L163.6,130.1L164.6,131.5L169.1,128.0ZM309.2,-10.8L267.4,31.9L245.3,49.8L242.6,48.7L242.6,47.9L376.3,-120.3L315.8,-18.6ZM272.0,85.7L273.5,84.8L276.3,84.4L278.9,88.2L277.3,90.7L275.4,91.3L268.7,90.1L271.4,86.3ZM157.7,132.0L160.5,130.8L163.6,130.1L164.6,131.5L164.9,132.9L157.5,137.3L156.9,137.0L156.8,136.9L156.5,134.4ZM162.1,8.5L187.0,-47.1L261.9,-162.3L367.4,-207.3L364.4,-165.7L272.8,-57.7L164.1,19.9ZM139.2,99.9L136.6,98.4L134.6,101.2L134.3,103.9L138.1,101.8ZM140.5,77.4L139.6,77.9L137.0,81.1L136.7,82.0L139.3,81.9L141.4,80.9ZM226.6,156.7L220.4,153.9L220.3,152.2L225.6,146.9L226.9,150.0ZM280.5,78.3L282.8,79.3L282.7,80.7L280.3,86.7L278.9,88.2L276.3,84.4L278.7,80.7ZM294.4,71.6L294.0,72.3L298.3,72.7L299.1,68.3ZM171.4,173.7L171.0,175.7L172.5,175.5L173.8,175.1L177.9,172.7L179.5,169.2L177.4,168.7L173.1,171.3ZM182.4,59.8L179.8,64.0L178.0,65.4L177.5,65.7L174.2,60.5L182.2,57.8ZM167.9,125.2L168.1,124.8L172.0,121.9L174.3,122.0L174.7,126.0L173.5,127.2L170.8,127.3ZM232.7,104.0L234.6,102.3L234.6,99.2L231.7,102.5L232.2,104.0ZM343.4,45.0L342.9,45.8L341.2,57.1L343.2,57.5L344.3,56.4L344.3,56.4L355.8,29.9L349.2,37.4ZM302.7,51.4L300.9,55.3L294.8,60.9L292.9,61.5L290.9,57.6L291.5,50.9L293.6,47.4L298.9,49.1ZM172.0,107.5L172.3,106.7L172.6,106.3L174.0,106.4L175.3,106.7L173.4,109.5ZM206.7,101.5L206.2,101.8L205.0,103.4L208.8,104.5L210.9,102.4L211.1,101.7L210.0,99.7ZM133.6,134.1L130.2,136.3L132.2,130.1L133.2,128.0L133.7,128.1L135.6,130.2ZM208.2,54.9L208.5,55.3L205.0,58.3L204.6,57.7ZM208.4,158.9L210.0,157.7L213.1,158.2L212.3,160.8L211.7,161.7L209.5,161.6L208.3,159.1ZM331.5,52.3L331.9,50.6L349.2,37.4L343.4,45.0L334.3,51.8ZM241.7,95.3L241.3,95.3L240.0,96.2L239.6,96.6L237.7,101.6L243.1,98.9L243.7,97.1ZM150.0,126.7L150.1,130.7L146.6,132.0L147.8,127.4L149.7,126.7ZM154.8,94.9L155.1,94.6L156.0,94.2L158.5,96.2L157.9,100.3L154.8,102.7L151.9,103.3L152.4,97.7ZM223.7,58.8L226.5,56.5L226.3,51.1L224.9,51.2L221.2,55.5ZM319.7,72.1L318.8,73.6L319.8,75.3L321.6,73.9L321.4,70.6ZM122.9,83.9L116.9,91.2L121.8,82.9L123.5,83.0ZM225.1,117.5L224.7,115.9L221.9,116.8L220.5,117.7L220.4,118.0L223.9,118.9ZM298.2,63.7L301.4,60.7L301.8,55.9L300.9,55.3L294.8,60.9L297.8,63.7ZM257.5,59.0L255.7,59.5L251.8,59.5L259.3,55.0L258.3,57.7ZM182.6,78.7L183.7,78.6L186.2,76.5L187.9,73.1L188.0,72.6L187.8,72.3L186.9,72.4L182.5,77.7L182.4,78.3ZM110.0,58.5L114.1,57.2L111.5,61.3L108.9,63.3L107.9,61.9ZM187.8,72.3L190.1,69.2L194.1,69.3L194.2,69.9L193.6,70.3L188.0,72.6ZM332.4,69.7L336.9,67.9L339.2,65.7L341.0,62.7L335.2,63.6L329.7,69.5L330.8,70.2ZM329.7,74.5L329.3,74.1L329.6,73.2L330.8,70.2L332.4,69.7L332.3,73.3L331.4,74.1ZM341.5,70.7L335.4,71.4L335.3,72.3L340.2,75.3L344.6,74.1ZM189.5,150.1L188.0,154.5L183.5,157.8L187.6,151.0ZM213.6,97.5L213.5,97.7L216.3,98.0L218.0,97.1L219.3,92.7L218.4,92.5L217.0,93.3ZM115.0,62.6L114.1,61.0L111.5,61.3L108.9,63.3L107.9,65.2L107.5,67.1L108.5,68.1L110.1,67.9ZM267.9,54.8L289.9,30.5L273.6,53.3ZM239.4,103.1L240.0,102.5L244.0,102.5L241.5,105.0L238.9,104.7ZM192.6,74.7L194.3,74.2L195.9,69.9L194.2,69.9L193.6,70.3L190.8,74.2L190.8,74.2ZM217.8,55.4L219.7,55.9L215.0,62.5L211.5,60.8ZM167.0,51.2L171.6,48.1L171.9,48.6L170.6,50.6L166.9,52.4L166.3,52.4ZM352.1,55.1L344.3,56.4L344.3,56.4L371.0,40.0ZM169.0,71.8L175.2,68.7L175.2,68.7L177.5,65.7L170.8,66.4L169.0,68.2L167.4,71.2ZM341.5,70.7L339.2,65.7L341.0,62.7L341.5,62.2L345.4,61.7L345.4,74.1L344.6,74.1ZM165.6,138.9L164.8,140.2L165.2,142.4L167.9,140.8L171.4,137.0L170.4,135.9ZM341.5,62.2L343.2,57.5L341.2,57.1L340.8,57.1L332.4,60.9L335.2,63.6L341.0,62.7ZM352.1,55.1L344.3,56.4L343.2,57.5L341.5,62.2L345.4,61.7L346.8,61.0ZM315.9,77.2L315.7,75.7L318.8,73.6L319.8,75.3L318.7,77.7ZM116.1,78.7L116.3,83.3L116.5,83.3L121.2,79.1L121.9,76.6L121.1,76.0L120.9,76.1ZM267.3,84.1L269.0,82.9L269.1,85.4L265.3,89.2L265.1,86.3ZM189.6,80.4L194.2,78.5L195.0,77.4L195.6,76.1L194.3,74.2L192.6,74.7L192.5,74.9ZM328.3,69.6L328.6,64.9L322.3,69.9L323.4,70.5ZM283.4,69.8L276.9,70.8L276.6,71.1L274.2,75.8L276.7,76.8L278.7,76.7L283.6,70.1ZM178.1,128.2L178.3,128.1L184.1,122.5L181.1,121.9L175.2,125.8ZM121.9,67.2L125.5,64.1L126.4,61.4L124.3,62.5L121.7,64.7ZM285.2,69.9L285.7,72.8L280.1,77.3L279.6,77.2L278.7,76.7L283.6,70.1ZM341.5,70.7L339.2,65.7L336.9,67.9L335.4,71.3L335.4,71.4ZM195.6,115.1L190.2,116.6L190.3,116.2L194.6,111.0ZM152.0,117.5L151.9,117.6L150.3,117.3L148.9,117.1L149.1,114.5L152.5,112.4L155.7,112.1L153.5,115.8ZM148.5,83.4L146.8,87.5L146.2,88.1L145.5,87.4L147.0,84.5ZM342.9,45.8L341.2,57.1L340.8,57.1L337.7,53.3ZM331.5,52.3L330.0,55.5L334.3,51.8ZM279.6,77.2L278.7,76.7L276.7,76.8L273.9,81.3L274.5,82.9ZM183.9,52.9L178.0,52.2L176.6,53.8L176.0,57.0L183.0,54.2ZM132.3,63.0L132.9,59.1L128.9,59.0L128.8,59.2L128.6,65.8L128.7,65.7L129.9,65.2ZM346.8,61.0L345.4,61.7L345.4,74.1L477.8,112.1L509.0,68.3ZM328.3,69.6L323.4,70.5L322.7,73.3L323.9,73.3L326.2,72.2L328.4,69.8ZM317.4,45.4L318.2,45.0L332.6,30.7L316.3,42.7L316.2,43.5ZM218.5,75.6L218.3,71.9L220.6,72.2L219.6,74.6ZM352.1,55.1L371.0,40.0L494.3,-50.2L576.3,-24.6L509.0,68.3L346.8,61.0ZM188.0,72.6L193.6,70.3L190.8,74.2L187.9,73.1ZM130.2,90.1L130.3,93.3L126.6,96.0L123.5,96.0L123.8,95.4L127.1,92.1ZM162.3,175.2L162.5,178.0L165.5,175.8L167.0,172.7L167.0,171.6ZM244.8,109.6L242.9,110.8L242.5,111.4L245.0,113.3L247.0,112.2Z"/><path fill="#a3a3a3" stroke="#a3a3a3" stroke-width=".4" d="M167.2,56.5L164.7,61.9L164.4,62.2L161.4,63.7L160.2,60.6L164.7,57.2ZM208.3,69.6L206.9,69.8L205.4,66.7L208.9,62.5L210.1,61.6L209.9,69.3ZM259.8,100.7L255.2,108.8L258.2,110.1L262.5,101.2L263.2,98.6L263.0,98.4ZM226.0,146.0L225.7,145.5L224.7,145.6L219.4,147.6L218.6,151.0L220.3,152.2L225.6,146.9ZM170.7,99.8L172.2,98.5L172.2,94.8L170.2,96.4L170.2,98.9ZM188.2,156.9L182.8,160.6L183.1,163.0L184.2,164.3L187.1,162.5L190.4,159.1L191.5,156.8ZM129.0,131.2L132.2,130.1L133.2,128.0L132.8,126.9L131.7,127.0ZM207.9,154.4L204.8,152.7L200.8,156.0L200.9,159.4L202.1,158.7L207.8,155.0L207.9,154.9L208.0,154.4ZM139.1,58.8L135.5,61.8L136.1,65.1L138.4,63.4L139.2,58.8ZM214.0,102.4L214.5,100.4L210.9,102.4L208.8,104.5L209.0,105.8ZM226.6,156.7L220.4,153.9L220.0,154.1L212.3,160.8L211.7,161.7L213.3,171.6L217.7,187.7L256.1,299.5L276.2,287.8L229.2,159.6ZM266.7,54.9L267.1,55.4L267.9,54.8L289.9,30.5L303.3,12.6L315.8,-18.6L309.2,-10.8L268.7,43.1L265.8,48.3L265.3,51.1ZM174.0,106.4L172.6,106.3L172.8,105.9L173.5,105.0L178.0,103.0L178.0,103.8ZM292.4,90.9L287.4,102.8L273.7,118.3L277.8,103.4L290.4,91.0ZM181.3,43.0L183.5,41.3L235.9,-11.2L237.3,-13.2L174.4,41.4L172.2,46.2ZM162.3,90.7L164.3,88.3L166.2,88.2L164.3,92.0ZM324.9,77.5L323.7,77.8L320.9,81.4L325.1,77.9ZM266.2,77.9L268.0,72.3L271.5,77.0L267.5,78.7ZM146.1,59.3L146.2,59.7L139.9,66.1L138.7,63.4L145.8,59.4ZM147.8,127.4L146.5,127.3L141.3,133.5L144.0,135.7L146.6,132.0ZM248.1,89.8L248.5,91.4L248.5,92.2L242.6,94.6L247.6,89.8ZM206.9,138.7L207.0,138.9L204.2,143.0L201.5,141.9L203.0,140.0ZM294.0,96.5L301.6,95.2L283.6,158.7L271.1,128.4L270.3,124.8L273.7,118.3L287.4,102.8ZM231.1,113.7L233.3,110.7L235.5,110.3L236.5,111.1L234.3,115.4L230.4,115.8ZM132.4,92.9L130.3,93.3L130.2,90.1L130.5,89.1L133.5,85.8L134.2,86.1ZM167.9,101.2L170.2,98.9L170.7,99.8L170.6,100.3ZM212.3,56.6L218.3,49.5L219.0,49.1L217.9,54.1ZM205.7,159.0L202.1,158.7L200.9,159.4L200.8,159.6L203.1,161.4L204.1,161.6ZM143.4,83.0L142.8,83.5L141.3,88.0L141.8,88.7L143.6,87.0L144.1,85.9ZM122.6,47.2L120.1,47.7L120.1,47.0L125.6,43.7ZM307.5,53.5L308.6,52.1L303.5,50.9L302.7,51.4L300.9,55.3L301.8,55.9L304.7,55.9ZM256.2,63.4L257.1,65.1L260.3,62.5L261.5,60.3L260.9,59.7L259.9,59.8ZM200.8,72.5L202.9,72.7L201.6,75.8L195.0,77.4L195.6,76.1L198.1,73.8ZM133.5,62.8L132.3,63.0L132.9,59.1L135.8,57.4L139.1,58.8L135.5,61.8L134.4,62.5ZM292.9,61.5L292.4,62.1L290.0,63.6L285.7,65.4L287.1,61.5L290.9,57.6ZM180.6,83.1L184.2,79.9L183.7,78.6L182.6,78.7L180.1,81.3ZM160.5,80.0L161.0,79.8L161.6,78.1L161.4,74.2L156.2,79.8ZM222.8,100.7L218.9,101.7L220.8,103.3L222.0,102.6ZM115.9,92.7L121.0,90.2L123.2,89.2L124.5,89.9L123.8,95.4L123.5,96.0L122.9,96.5L108.2,99.0L114.3,93.8ZM166.2,66.0L164.2,68.2L169.0,68.2L170.8,66.4L170.7,65.4ZM256.0,90.4L254.6,90.7L251.9,93.4L251.0,97.7L254.6,97.2L255.5,96.4L256.8,93.1L257.2,91.8ZM150.3,117.3L143.5,122.9L143.6,123.9L151.9,117.6ZM308.1,44.6L306.0,48.9L303.5,50.9L302.7,51.4L298.9,49.1L307.0,44.4ZM271.8,84.9L272.7,82.3L269.5,82.8ZM166.2,136.8L161.4,138.0L165.4,133.2L166.8,133.0L167.0,135.0ZM228.9,69.0L226.2,68.9L225.4,70.9L225.4,71.3ZM243.4,-21.6L272.8,-57.7L164.1,19.9L161.2,22.6L165.5,25.8L205.5,5.2ZM254.7,55.3L260.2,49.4L268.7,43.1L265.8,48.3L260.0,54.1ZM132.7,54.6L135.2,48.0L139.2,47.7L139.5,48.1L138.7,51.0ZM175.1,142.8L175.0,145.6L179.9,145.0L182.7,143.9L183.9,141.4L183.3,140.2L180.8,139.1L175.7,141.8ZM262.8,95.7L263.0,98.4L263.2,98.6L267.0,97.4L275.4,91.3L268.7,90.1L265.4,91.9L265.0,92.4L262.9,95.4ZM134.4,37.1L130.6,40.9L129.6,41.2L132.1,37.2L134.0,36.2ZM219.9,48.1L224.9,50.5L228.2,46.8L221.3,45.6ZM153.1,132.3L148.6,137.1L146.8,138.2L145.6,136.4ZM168.1,91.7L167.0,92.0L165.9,93.0L165.2,95.8L172.7,91.8L172.8,91.4L172.1,90.8ZM180.2,149.1L177.4,149.8L172.9,151.8L172.0,153.5L172.1,154.7L180.5,151.2L180.7,150.9ZM267.1,55.4L266.5,56.7L272.6,55.4L273.6,53.3L267.9,54.8ZM321.8,48.4L321.2,46.2L318.5,48.6L320.5,49.4Z"/><path fill="#a9a9a9" stroke="#a9a9a9" stroke-width=".4" d="M229.8,135.4L227.7,139.1L227.5,139.7L234.6,137.6L238.9,131.3ZM308.1,44.6L309.0,43.8L311.7,43.2L309.6,47.0L306.0,48.9ZM245.6,101.0L243.1,99.0L240.0,102.5L244.0,102.5L245.5,101.4ZM177.6,166.3L183.1,163.0L182.8,160.6L181.4,160.0L180.4,160.1L180.2,160.2L177.4,163.3ZM128.8,76.6L128.4,77.4L128.1,81.6L128.6,82.2L129.7,81.8L132.8,79.5L133.0,79.4L135.4,74.6L133.2,74.4ZM311.1,47.1L316.2,43.5L317.4,45.4L315.6,48.4L311.4,50.3ZM-2.1,150.3L106.5,67.7L67.9,74.8L0.6,105.6L-82.3,145.0L-126.8,224.1L-106.7,224.1L-2.6,150.7ZM234.3,115.4L236.5,111.1L238.1,110.2L241.0,112.5L237.8,116.4L234.3,115.7ZM218.3,139.4L218.2,138.7L223.8,134.2L225.6,135.5L224.8,136.3L219.9,139.7ZM201.7,70.8L199.1,69.8L198.1,73.8L200.8,72.5ZM223.6,99.8L224.2,96.1L227.4,96.2L227.4,96.4L225.9,99.0L225.0,100.5ZM115.6,25.7L117.2,22.5L117.5,21.0L114.7,22.5L108.7,29.2ZM184.0,178.5L182.4,180.1L190.5,178.9L188.1,176.0ZM131.4,45.4L133.2,41.5L140.1,37.1L141.5,37.7L134.9,46.4ZM181.0,118.5L181.7,120.0L185.7,116.2L184.4,113.2L183.4,113.9L181.0,118.3ZM184.9,131.1L186.3,129.0L186.4,128.2L182.7,128.5L180.4,131.1L181.0,133.1L182.8,133.2ZM327.6,78.3L325.7,79.2L323.1,82.2L323.9,84.0L329.1,80.9L328.8,78.6ZM266.3,66.0L267.3,68.2L274.5,64.6L275.0,64.1L271.2,60.2L271.2,60.2L268.2,62.2L268.1,62.3ZM208.6,77.4L211.4,74.2L212.3,72.1L204.9,77.0L203.5,78.2L208.6,77.4ZM150.0,126.7L154.6,125.4L156.3,123.7L155.3,119.2L155.1,119.2L149.7,126.7ZM329.1,80.9L323.9,84.0L321.1,91.0L321.7,109.9L330.5,81.2ZM169.2,118.1L165.7,122.8L166.0,123.5L168.1,124.8L172.0,121.9L172.3,117.5ZM185.1,69.8L188.9,67.2L189.4,67.1L190.1,69.1L190.1,69.2L187.8,72.3L186.9,72.4L184.2,71.9ZM133.5,92.8L133.5,95.0L127.2,101.4L125.5,100.9L126.6,96.0L130.3,93.3L132.4,92.9ZM122.6,47.2L125.6,43.7L127.2,42.4L124.6,48.0ZM208.2,54.2L208.2,54.9L204.6,57.7L200.9,57.8L201.3,57.2L206.9,54.2ZM117.8,73.8L120.6,70.1L123.0,71.2L123.1,71.6L121.1,76.0L120.9,76.1ZM133.5,62.8L132.5,67.2L133.9,66.7L134.4,62.5ZM127.1,92.1L123.8,95.4L124.5,89.9L125.2,89.8L127.1,89.7ZM253.4,89.3L253.5,89.7L248.7,92.3L248.5,92.2L248.5,91.4L251.3,89.5ZM183.9,173.0L186.0,173.6L188.1,172.6L190.6,169.8L185.9,170.1ZM213.6,97.5L213.5,97.7L213.2,97.9L212.2,98.1L211.4,95.9L211.5,94.3L212.5,93.1L214.5,94.0ZM182.4,180.1L190.5,178.9L196.3,180.8L242.5,307.8L82.4,409.4L64.2,347.5L169.5,193.3L172.5,189.1L176.7,184.3ZM107.5,67.1L107.9,65.2L76.5,70.8L67.9,74.8L106.5,67.7ZM224.7,145.6L224.6,142.0L221.9,143.4L218.8,146.6L219.4,147.6ZM187.3,146.0L185.6,144.6L185.3,144.7L183.4,150.2L184.0,150.2ZM215.0,62.5L219.7,55.9L221.2,55.5L223.7,58.8L222.4,61.0L215.8,65.2ZM223.4,71.5L223.5,68.7L223.7,68.2L225.8,67.9L226.2,68.9L225.4,70.9ZM181.0,175.1L176.7,184.3L182.4,180.1L184.0,178.5L184.7,177.0L186.0,173.6L183.9,173.0ZM170.6,172.3L172.2,167.7L173.2,168.5L173.1,171.3L171.4,173.7L170.6,173.2ZM295.6,87.6L300.7,85.4L302.4,86.1L301.6,88.1L294.0,96.5L287.4,102.8L292.4,90.9ZM178.7,88.6L179.1,86.9L177.9,86.6L176.7,87.3L175.6,88.8L177.2,89.6ZM189.6,126.3L191.6,128.8L189.5,130.0L187.5,129.8L186.3,129.0L186.4,128.2L187.9,127.0Z"/><path fill="#afafaf" stroke="#afafaf" stroke-width=".4" d="M112.9,80.3L110.8,81.6L108.9,83.4L97.5,99.6L114.9,84.3ZM318.7,78.9L318.7,77.7L315.9,77.2L313.9,79.3L318.0,79.9ZM252.0,51.8L253.6,48.9L267.4,31.9L309.2,-10.8L268.7,43.1L260.2,49.4L252.9,53.2ZM313.8,84.6L307.1,89.1L310.7,91.3L315.3,85.6L315.6,84.8L315.5,84.6ZM218.3,71.9L217.5,71.6L217.2,70.5L223.1,67.0L223.7,68.2L223.5,68.7L220.6,72.2ZM304.0,92.1L301.6,95.2L294.0,96.5L301.6,88.1L303.7,90.1ZM250.8,97.8L251.0,97.7L251.9,93.4L249.4,94.9L249.2,95.4L249.7,98.3ZM220.4,104.1L214.1,107.4L216.8,110.4L220.2,106.4ZM140.6,98.4L138.7,96.6L137.4,97.1L136.7,98.1L136.6,98.4L139.2,99.9ZM139.3,52.4L138.7,51.0L132.7,54.6L131.9,55.5L137.4,54.7ZM223.1,67.0L224.6,63.3L222.4,61.0L215.8,65.2L212.7,69.1L213.0,70.7L217.2,70.5ZM266.5,72.1L267.3,68.2L274.5,64.6L270.2,70.9L268.0,72.2L266.6,72.3L266.5,72.2ZM204.4,75.7L205.1,73.6L208.3,69.6L209.9,69.3L211.8,69.3L211.1,70.0ZM228.2,141.6L227.5,139.7L227.5,139.7L234.6,137.6L233.3,140.2L232.6,140.7ZM176.9,130.5L179.6,131.4L174.6,135.8L174.3,132.0ZM252.2,63.4L254.3,61.8L255.8,61.9L255.0,63.2L252.6,64.9L252.2,64.9L252.1,64.0ZM257.5,59.0L257.7,59.5L259.9,59.8L260.9,59.7L262.0,57.6L262.5,56.0L258.3,57.7ZM141.2,165.2L96.9,181.8L87.4,186.6L21.5,226.9L-4.9,245.3L26.0,279.4L141.4,165.5ZM194.2,63.5L193.6,66.5L190.1,69.1L189.4,67.1ZM124.6,48.0L124.6,48.1L128.8,46.7L128.4,41.8L127.6,41.9L127.2,42.4ZM204.6,57.7L205.0,58.3L205.4,59.9L202.9,62.6L201.7,63.3L200.2,62.7L199.0,60.1L200.9,57.8ZM139.6,77.9L139.2,77.6L137.8,76.8L133.0,79.4L132.8,79.5L137.0,81.1ZM237.2,106.4L235.5,110.3L236.5,111.1L238.1,110.2L240.8,108.1L241.5,105.0L238.9,104.7ZM153.1,132.3L154.9,130.7L154.1,130.1L153.1,130.4L146.4,135.3L145.4,136.3L145.6,136.4ZM172.9,150.1L175.0,145.6L179.9,145.0L177.4,149.8L172.9,151.8ZM183.5,157.8L181.4,160.0L182.8,160.6L188.2,156.9L188.0,154.5Z"/><path fill="#b6b6b6" stroke="#b6b6b6" stroke-width=".4" d="M236.0,103.4L234.6,102.3L232.7,104.0L232.9,106.7L233.7,106.2ZM325.1,77.9L325.7,79.2L323.1,82.2L319.5,83.1L320.9,81.4ZM328.8,50.9L327.1,48.9L329.5,44.4L336.4,36.0L384.1,-13.6L399.1,-28.2L355.8,29.9L349.2,37.4L331.9,50.6L329.5,51.4ZM246.7,108.0L248.9,110.5L252.8,108.0L253.5,104.8L253.1,103.8L251.3,102.9L250.9,103.1ZM184.1,68.3L184.2,67.8L189.0,64.6L188.9,67.2L185.1,69.8ZM309.0,43.8L309.2,42.6L315.2,39.1L314.8,40.2L311.7,43.2ZM150.3,89.2L150.0,89.6L149.3,91.2L152.3,90.8L154.9,89.1L156.8,86.8L154.0,86.4ZM218.9,101.7L218.7,101.6L215.7,104.3L213.8,107.2L214.1,107.4L220.4,104.1L220.8,103.3ZM258.3,57.7L262.5,56.0L265.3,51.1L265.8,48.3L260.0,54.1L259.3,55.0ZM246.8,99.9L247.5,95.4L249.4,94.9L249.2,95.4L247.6,99.4ZM207.3,97.1L205.8,96.7L205.8,96.7L200.3,103.9L200.9,106.0L205.0,103.4L206.2,101.8ZM252.3,56.9L252.9,53.2L260.2,49.4L254.7,55.3ZM128.4,41.8L129.6,41.2L130.6,40.9L133.2,41.5L131.4,45.4L129.0,46.7L128.8,46.7ZM165.6,138.9L170.4,135.9L170.8,134.3L167.0,135.0L166.2,136.8ZM176.9,130.5L178.1,128.2L175.2,125.8L174.7,126.0L173.5,127.2L172.8,128.3L173.1,131.9L174.3,132.0ZM218.0,82.4L219.0,81.8L218.3,79.0L215.5,78.4L215.3,78.5L212.7,81.0L212.0,83.7L212.4,83.8ZM146.3,79.4L146.5,79.2L142.1,76.3L140.5,77.4L141.4,80.9L145.6,80.1ZM154.3,106.3L155.1,106.7L154.6,108.4L152.0,110.4L151.4,108.5ZM140.1,37.1L139.9,36.2L134.4,37.1L130.6,40.9L133.2,41.5ZM218.0,97.1L221.0,97.4L218.7,101.6L215.7,104.3L214.0,102.4L214.5,100.4L216.3,98.0ZM148.2,117.4L148.9,117.1L150.3,117.3L143.5,122.9L143.1,120.7ZM157.0,130.7L161.2,124.6L160.4,121.7L156.3,123.7L154.6,125.4L154.1,130.1L154.9,130.7ZM329.7,74.5L327.6,78.3L328.8,78.6L332.2,75.9L331.4,74.1ZM201.7,70.8L203.8,67.3L205.4,66.7L206.9,69.8L202.9,72.7L200.8,72.5ZM134.4,62.5L135.5,61.8L136.1,65.1L134.7,66.6L133.9,66.7ZM150.1,130.7L150.1,130.7L146.4,135.3L145.4,136.3L144.0,136.3L144.0,135.7L146.6,132.0ZM138.0,33.5L135.0,33.4L134.4,32.4L134.8,32.0L138.6,30.7ZM227.5,134.6L225.6,135.5L223.8,134.2L223.8,132.7L227.3,130.0ZM119.5,64.7L120.4,60.4L119.3,60.6L117.9,61.7L114.5,67.0L115.5,67.0Z"/><path fill="#bcbcbc" stroke="#bcbcbc" stroke-width=".4" d="M150.0,126.7L154.6,125.4L154.1,130.1L153.1,130.4L150.1,130.7L150.1,130.7ZM122.6,47.2L120.1,47.7L119.5,48.8L122.7,50.6L124.6,48.1L124.6,48.0ZM140.3,33.9L139.9,36.2L134.4,37.1L134.0,36.2L135.0,33.4L138.0,33.5ZM290.1,87.0L289.9,86.9L279.3,95.8L277.8,103.4L290.4,91.0ZM195.8,128.0L200.8,131.5L200.7,132.6L196.7,133.8L193.9,132.5L195.7,128.1L195.7,128.0ZM176.9,130.5L178.1,128.2L178.3,128.1L182.8,127.9L182.7,128.5L180.4,131.1L179.6,131.4ZM199.3,68.2L200.2,67.4L201.7,63.3L200.2,62.7L196.4,66.1L194.5,68.0L194.1,69.3L194.2,69.9L195.9,69.9ZM321.8,68.3L321.7,68.7L317.1,70.9L318.4,68.3L319.0,67.9L321.7,68.1ZM175.3,106.7L176.4,106.0L178.0,104.4L178.0,103.8L174.0,106.4ZM169.1,128.0L164.6,131.5L164.9,132.9L165.4,133.2L166.8,133.0L172.8,128.3L173.5,127.2L170.8,127.3ZM330.2,60.9L330.8,60.6L330.8,60.7L330.2,61.8L321.8,68.3L321.7,68.1L322.9,65.6ZM128.7,74.1L127.3,73.9L121.9,76.6L121.2,79.1L122.5,80.2L128.4,77.4L128.8,76.6ZM125.1,29.7L125.1,29.7L124.5,29.4L123.4,29.8L120.8,33.3L122.6,34.6ZM262.0,57.6L266.7,54.9L265.3,51.1L262.5,56.0ZM133.5,62.8L132.3,63.0L129.9,65.2L131.4,67.3L131.7,67.6L132.5,67.2ZM144.0,101.3L144.1,101.5L145.1,102.2L152.4,97.7L154.8,94.9L153.7,94.6L150.8,95.0L144.1,101.0ZM130.2,90.1L127.1,92.1L127.1,89.7L130.5,89.1ZM222.2,129.7L222.7,132.3L223.7,132.7L223.8,132.7L227.3,130.0L229.5,127.6L223.5,128.6ZM246.5,108.1L244.8,109.6L242.9,110.8L242.8,107.6L244.2,106.7Z"/><path fill="#c2c2c2" stroke="#c2c2c2" stroke-width=".4" d="M184.2,71.9L186.9,72.4L182.5,77.7L182.3,73.6ZM179.4,74.5L177.8,73.5L180.5,70.3L184.1,68.3L185.1,69.8L184.2,71.9L182.3,73.6L180.3,74.6ZM184.1,122.5L178.3,128.1L182.8,127.9L183.3,126.7L184.1,122.5ZM122.9,83.9L121.0,90.2L123.2,89.2L128.6,82.2L128.1,81.6L123.5,83.0ZM222.8,100.7L218.9,101.7L218.7,101.6L221.0,97.4L223.6,95.8L224.2,96.1L223.6,99.8ZM184.1,169.6L183.5,165.4L180.9,167.9L183.6,169.9ZM208.9,62.5L202.9,62.6L201.7,63.3L200.2,67.4L203.8,67.3L205.4,66.7ZM308.1,44.6L309.0,43.8L309.2,42.6L307.8,40.6L307.0,44.4ZM208.5,55.3L209.6,56.3L209.3,57.2L205.4,59.9L205.0,58.3ZM224.9,101.6L225.0,100.5L223.6,99.8L222.8,100.7L222.0,102.6L224.2,102.0ZM196.8,47.5L186.4,57.7L182.4,59.8L182.2,57.8L183.0,54.2L183.9,52.9L189.9,46.4L206.3,31.0ZM208.6,77.4L211.4,74.2L215.2,78.0L215.3,78.5L212.7,81.0L212.1,81.2L211.1,81.2ZM253.5,104.8L252.8,108.0L255.2,108.8L259.8,100.7ZM344.6,74.1L345.4,74.1L477.8,112.1L393.8,237.2L309.3,269.7L306.5,251.7L321.7,109.9L330.5,81.2L335.1,77.4L340.2,75.3Z"/><path fill="#c9c9c9" stroke="#c9c9c9" stroke-width=".4" d="M173.3,60.0L176.0,57.0L183.0,54.2L182.2,57.8L174.2,60.5L173.3,60.2ZM242.0,124.7L230.2,131.3L230.7,126.8L232.7,124.7L241.0,124.1ZM259.3,55.0L260.0,54.1L254.7,55.3L252.3,56.9L251.5,58.2L251.3,59.6L251.5,59.6L251.8,59.5ZM242.5,111.4L245.0,113.3L241.3,116.8L237.9,116.7L237.8,116.4L241.0,112.5ZM162.3,90.7L157.5,92.8L156.6,93.5L156.0,94.2L158.5,96.2L164.4,92.8L164.3,92.0ZM209.9,69.3L211.8,69.3L212.7,69.1L215.8,65.2L215.0,62.5L211.5,60.8L210.8,61.0L210.1,61.6ZM144.0,101.3L139.9,102.4L138.1,101.8L139.2,99.9L140.6,98.4L145.1,95.6L144.1,101.0Z"/><path fill="#cfcfcf" stroke="#cfcfcf" stroke-width=".4" d="M221.3,105.7L220.2,106.4L216.8,110.4L216.7,110.9L219.9,111.1L222.9,109.8L224.4,105.1ZM231.1,113.7L233.3,110.7L230.0,110.3L228.4,114.5ZM125.2,38.6L126.1,36.9L128.1,35.0L132.1,37.2L129.6,41.2L128.4,41.8L127.6,41.9ZM224.9,101.6L227.3,101.9L227.2,102.0L224.4,105.1L221.3,105.7L224.2,102.0ZM228.9,121.9L232.6,124.2L232.7,124.7L230.7,126.8L229.5,127.6L223.5,128.6L227.4,122.6L227.9,122.2ZM245.4,125.8L238.9,131.3L229.8,135.4L228.3,134.5L230.2,131.3L242.0,124.7ZM230.4,115.8L234.3,115.4L234.3,115.7L228.9,121.9L227.9,122.2L227.1,120.4L228.8,116.5Z"/><path fill="#d6d6d6" stroke="#d6d6d6" stroke-width=".4" d="M257.5,59.0L257.7,59.5L255.8,61.9L254.3,61.8L255.7,59.5ZM318.2,45.0L322.0,44.8L336.4,36.0L384.1,-13.6L332.6,30.7ZM224.2,102.0L221.3,105.7L220.2,106.4L220.4,104.1L220.8,103.3L222.0,102.6ZM123.5,83.0L128.1,81.6L128.4,77.4L122.5,80.2L121.7,82.7L121.8,82.9Z"/><path fill="#dcdcdc" stroke="#dcdcdc" stroke-width=".4" d="M208.9,62.5L202.9,62.6L205.4,59.9L209.3,57.2L210.5,58.1L210.8,61.0L210.1,61.6Z"/><path fill="#e2e2e2" stroke="#e2e2e2" stroke-width=".4" d="M194.4,63.3L196.4,66.1L200.2,62.7L199.0,60.1L195.7,61.4Z"/><path fill="#e9e9e9" stroke="#e9e9e9" stroke-width=".4" d="M227.2,102.0L228.7,104.5L225.5,109.7L222.9,109.8L224.4,105.1ZM204.4,75.7L205.1,73.6L201.7,76.5L201.8,77.2L202.7,77.3Z"/></g></g><path d="M336,50.5L352.6,54.1L343.5,70.2L339,76L334,66Z" fill="#fa8e2d" fill-opacity=".9" filter="url(#bl)"/></g><path d="M113.1,24.1L115.1,22.5L121.2,20.1L127.2,17.7L131.2,19.7L139.3,25.1L146.3,31.1L148.9,34.2L147.7,29.1L146.9,25.1L150.3,21.1L155.4,18.1L161.4,16.0L164.4,15.0L165.0,18.1L164.4,23.1L165.4,28.1L165.8,34.2L167.4,38.2L172.5,44.2L177.5,48.2L183.5,52.3L189.6,54.3L195.6,53.3L200.0,54.1L208.0,54.1L216.1,50.1L224.1,48.1L232.2,44.1L237.2,41.7L243.3,43.1L248.3,44.1L254.3,47.1L258.4,50.1L261.4,55.2L267.4,56.2L269.4,53.1L275.5,50.1L280.5,53.1L280.5,59.2L286.5,63.2L293.6,67.2L296.6,62.2L297.6,55.2L303.3,49.1L310.3,43.1L318.4,38.0L320.5,44.0L325.5,49.4L335.5,51.3L352.6,54.1L348.6,62.2L343.5,70.2L339.5,75.3L335.5,80.3L325.4,82.3L319.4,84.3L315.4,88.4L309.3,93.4L304.3,95.4L300.3,96.8L305.3,92.8L309.3,90.4L306.3,89.4L298.3,90.0L291.2,90.4L288.2,89.4L287.6,84.3L289.2,79.3L285.2,79.3L280.2,80.3L275.1,83.3L270.1,88.4L269.1,94.4L270.4,100.1L267.4,102.5L260.4,104.1L255.3,107.1L252.3,110.1L247.3,113.1L240.2,117.2L235.2,122.2L232.2,127.2L230.2,133.3L235.2,137.3L236.2,141.3L233.2,145.3L226.2,149.4L222.1,152.4L222.1,155.4L215.1,160.4L210.5,160.3L206.5,164.3L199.4,168.4L192.4,172.4L187.3,176.4L184.3,180.0L180.3,179.4L173.3,178.4L165.2,177.4L159.2,175.4L155.2,171.4L150.1,168.4L145.1,167.3L140.1,170.4L138.0,168.4L144.1,163.3L142.1,158.3L141.1,151.2L137.0,144.2L134.0,136.2L130.0,129.1L128.2,122.2L129.2,116.2L128.2,111.1L125.2,106.1L120.2,102.1L119.1,98.1L121.2,93.0L122.2,88.0L119.1,85.5L112.1,83.5L107.1,82.4L105.1,76.4L103.0,70.4L104.1,65.3L108.1,61.3L109.1,56.3L110.1,51.3L108.1,48.2L105.1,45.2L109.1,38.2L112.1,33.2L114.1,28.1Z" fill="none" stroke="#111" stroke-width="1.05" stroke-linejoin="round"/></g>
<path d="M143.6,3.6v2.4M143.6,182.6v2.4M203.6,3.6v2.4M203.6,182.6v2.4M263.8,3.6v2.4M263.8,182.6v2.4M324.0,3.6v2.4M324.0,182.6v2.4M88.6,27.4h2.2M362.4,27.4h3M88.6,72.6h2.2M362.4,72.6h3M88.6,117.8h2.2M362.4,117.8h3M88.6,162.6h2.2M362.4,162.6h3M143.6,190.6v2.4M143.6,369.6v2.4M203.6,190.6v2.4M203.6,369.6v2.4M263.8,190.6v2.4M263.8,369.6v2.4M324.0,190.6v2.4M324.0,369.6v2.4M88.6,214.4h2.2M362.4,214.4h3M88.6,259.6h2.2M362.4,259.6h3M88.6,304.8h2.2M362.4,304.8h3M88.6,349.6h2.2M362.4,349.6h3" stroke="#333" stroke-width="0.6" fill="none"/>
<text class="tk" text-anchor="middle" transform="translate(84.3,27.4) rotate(-90)">10°30'0&quot;S</text>
<text class="tk" text-anchor="middle" transform="translate(84.3,72.6) rotate(-90)">10°45'0&quot;S</text>
<text class="tk" text-anchor="middle" transform="translate(84.3,117.8) rotate(-90)">11°0'0&quot;S</text>
<text class="tk" text-anchor="middle" transform="translate(84.3,162.6) rotate(-90)">11°15'0&quot;S</text>
<text class="tk" text-anchor="middle" transform="translate(84.3,214.4) rotate(-90)">10°30'0&quot;S</text>
<text class="tk" text-anchor="middle" transform="translate(84.3,259.6) rotate(-90)">10°45'0&quot;S</text>
<text class="tk" text-anchor="middle" transform="translate(84.3,304.8) rotate(-90)">11°0'0&quot;S</text>
<text class="tk" text-anchor="middle" transform="translate(84.3,349.6) rotate(-90)">11°15'0&quot;S</text>
<text class="tk" text-anchor="middle" x="143.6" y="380.8">47°0'0&quot;W</text>
<text class="tk" text-anchor="middle" x="203.6" y="380.8">46°40'0&quot;W</text>
<text class="tk" text-anchor="middle" x="263.8" y="380.8">46°20'0&quot;W</text>
<text class="tk" text-anchor="middle" x="324.0" y="380.8">46°0'0&quot;W</text>
<text class="pn" x="56" y="14.2">(A)</text>
<text class="pn" x="56" y="203.2">(C)</text>
<rect x="4.2" y="116.7" width="9.4" height="5.6" fill="#2b8cca" stroke="#8a8a8a" stroke-width="0.5"/>
<text class="lg" x="20" y="122.3">0 – 0.6 Mg/ha</text>
<rect x="4.2" y="130.4" width="9.4" height="5.6" fill="#a0cc96" stroke="#8a8a8a" stroke-width="0.5"/>
<text class="lg" x="20" y="136.0">0.6 – 0.7 Mg/ha</text>
<rect x="4.2" y="144.1" width="9.4" height="5.6" fill="#f9f352" stroke="#8a8a8a" stroke-width="0.5"/>
<text class="lg" x="20" y="149.7">0.7 – 0.8 Mg/ha</text>
<rect x="4.2" y="157.8" width="9.4" height="5.6" fill="#fa8e2d" stroke="#8a8a8a" stroke-width="0.5"/>
<text class="lg" x="20" y="163.4">0.8 – 0.9 Mg/ha</text>
<rect x="4.2" y="171.5" width="9.4" height="5.6" fill="#e9161a" stroke="#8a8a8a" stroke-width="0.5"/>
<text class="lg" x="20" y="177.1">&gt; 0.9 Mg/ha</text>
<rect x="4.2" y="302.8" width="9.4" height="5.6" fill="#2b8cca" stroke="#8a8a8a" stroke-width="0.5"/>
<text class="lg" x="20" y="308.4">0 – 0.2 Mg/ha</text>
<rect x="4.2" y="316.7" width="9.4" height="5.6" fill="#a0cc96" stroke="#8a8a8a" stroke-width="0.5"/>
<text class="lg" x="20" y="322.3">0.2 – 0.4 Mg/ha</text>
<rect x="4.2" y="330.5" width="9.4" height="5.6" fill="#f9f352" stroke="#8a8a8a" stroke-width="0.5"/>
<text class="lg" x="20" y="336.1">0.4 – 0.5 Mg/ha</text>
<rect x="4.2" y="344.4" width="9.4" height="5.6" fill="#fa8e2d" stroke="#8a8a8a" stroke-width="0.5"/>
<text class="lg" x="20" y="350.0">0.5 – 0.6 Mg/ha</text>
<rect x="4.2" y="358.3" width="9.4" height="5.6" fill="#e9161a" stroke="#8a8a8a" stroke-width="0.5"/>
<text class="lg" x="20" y="363.9">&gt; 0.6 Mg/ha</text>
<text x="127" y="395.6" text-anchor="middle" style="font-size:5.5px">N</text>
<path d="M127.4,399L132.6,414L127.2,409.4L121.6,414Z" fill="#000"/>
<rect x="162.6" y="404.2" width="146.6" height="5" fill="#fff" stroke="#000" stroke-width="0.7"/>
<rect x="162.6" y="404.2" width="24.4" height="5" fill="#000"/><rect x="211.4" y="404.2" width="48.9" height="5" fill="#000"/>
<text class="sb" text-anchor="middle" x="162.6" y="400.4">0</text>
<text class="sb" text-anchor="middle" x="187.2" y="400.4">15</text>
<text class="sb" text-anchor="middle" x="211.4" y="400.4">30</text>
<text class="sb" text-anchor="middle" x="260.3" y="400.4">60</text>
<text class="sb" text-anchor="middle" x="308.6" y="400.4">90</text>
<text class="sb" x="311" y="410">km</text>
<rect x="392.6" y="3.6" width="153.8" height="164.9" fill="#ebebeb"/>
<path d="M407.3,3.6V168.5" stroke="#f1f1f1" stroke-width="0.4"/>
<path d="M441.5,3.6V168.5" stroke="#f1f1f1" stroke-width="0.4"/>
<path d="M475.7,3.6V168.5" stroke="#f1f1f1" stroke-width="0.4"/>
<path d="M509.9,3.6V168.5" stroke="#f1f1f1" stroke-width="0.4"/>
<path d="M544.1,3.6V168.5" stroke="#f1f1f1" stroke-width="0.4"/>
<path d="M392.6,143.6H546.4" stroke="#f1f1f1" stroke-width="0.4"/>
<path d="M392.6,114.1H546.4" stroke="#f1f1f1" stroke-width="0.4"/>
<path d="M392.6,84.7H546.4" stroke="#f1f1f1" stroke-width="0.4"/>
<path d="M392.6,55.2H546.4" stroke="#f1f1f1" stroke-width="0.4"/>
<path d="M392.6,25.8H546.4" stroke="#f1f1f1" stroke-width="0.4"/>
<path d="M424.4,3.6V168.5" stroke="#f6f6f6" stroke-width="0.6"/>
<path d="M458.6,3.6V168.5" stroke="#f6f6f6" stroke-width="0.6"/>
<path d="M492.8,3.6V168.5" stroke="#f6f6f6" stroke-width="0.6"/>
<path d="M527.0,3.6V168.5" stroke="#f6f6f6" stroke-width="0.6"/>
<path d="M392.6,158.3H546.4" stroke="#f6f6f6" stroke-width="0.6"/>
<path d="M392.6,128.9H546.4" stroke="#f6f6f6" stroke-width="0.6"/>
<path d="M392.6,99.4H546.4" stroke="#f6f6f6" stroke-width="0.6"/>
<path d="M392.6,70.0H546.4" stroke="#f6f6f6" stroke-width="0.6"/>
<path d="M392.6,40.5H546.4" stroke="#f6f6f6" stroke-width="0.6"/>
<path d="M392.6,11.1H546.4" stroke="#f6f6f6" stroke-width="0.6"/>
<g fill="#35c878"><circle cx="399.6" cy="156.0" r="2.05"/><circle cx="399.2" cy="153.2" r="2.05"/><circle cx="400.5" cy="151.6" r="2.05"/><circle cx="401.5" cy="149.3" r="2.05"/><circle cx="403.0" cy="149.7" r="2.05"/><circle cx="405.3" cy="148.8" r="2.05"/><circle cx="406.8" cy="141.7" r="2.05"/><circle cx="407.8" cy="143.2" r="2.05"/><circle cx="409.1" cy="142.1" r="2.05"/><circle cx="410.7" cy="142.6" r="2.05"/><circle cx="411.6" cy="148.0" r="2.05"/><circle cx="415.5" cy="134.4" r="2.05"/><circle cx="418.3" cy="134.4" r="2.05"/><circle cx="419.3" cy="133.1" r="2.05"/><circle cx="424.1" cy="132.5" r="2.05"/><circle cx="425.0" cy="135.9" r="2.05"/><circle cx="426.4" cy="119.1" r="2.05"/><circle cx="439.8" cy="119.7" r="2.05"/><circle cx="440.7" cy="128.3" r="2.05"/><circle cx="441.3" cy="133.1" r="2.05"/><circle cx="448.4" cy="128.3" r="2.05"/><circle cx="448.4" cy="102.4" r="2.05"/><circle cx="457.4" cy="120.6" r="2.05"/><circle cx="466.0" cy="108.8" r="2.05"/><circle cx="466.9" cy="104.9" r="2.05"/><circle cx="469.4" cy="104.4" r="2.05"/><circle cx="470.1" cy="103.5" r="2.05"/><circle cx="472.9" cy="105.0" r="2.05"/><circle cx="469.7" cy="91.2" r="2.05"/><circle cx="473.4" cy="94.9" r="2.05"/><circle cx="475.5" cy="97.1" r="2.05"/><circle cx="477.2" cy="94.9" r="2.05"/><circle cx="481.1" cy="90.6" r="2.05"/><circle cx="484.8" cy="90.6" r="2.05"/><circle cx="481.5" cy="81.6" r="2.05"/><circle cx="473.4" cy="76.2" r="2.05"/><circle cx="473.4" cy="68.0" r="2.05"/><circle cx="481.5" cy="71.2" r="2.05"/><circle cx="483.3" cy="74.0" r="2.05"/><circle cx="485.4" cy="72.3" r="2.05"/><circle cx="487.6" cy="70.1" r="2.05"/><circle cx="489.7" cy="66.5" r="2.05"/><circle cx="491.2" cy="70.1" r="2.05"/><circle cx="494.5" cy="72.9" r="2.05"/><circle cx="490.1" cy="57.2" r="2.05"/><circle cx="491.9" cy="55.1" r="2.05"/><circle cx="495.5" cy="54.0" r="2.05"/><circle cx="494.9" cy="58.9" r="2.05"/><circle cx="504.1" cy="66.3" r="2.05"/><circle cx="506.3" cy="64.1" r="2.05"/><circle cx="505.7" cy="56.8" r="2.05"/><circle cx="506.3" cy="53.4" r="2.05"/><circle cx="508.4" cy="50.3" r="2.05"/><circle cx="506.3" cy="43.9" r="2.05"/><circle cx="512.8" cy="48.2" r="2.05"/><circle cx="519.2" cy="46.5" r="2.05"/><circle cx="520.3" cy="48.6" r="2.05"/><circle cx="521.4" cy="56.1" r="2.05"/><circle cx="522.4" cy="41.7" r="2.05"/><circle cx="539.4" cy="10.9" r="2.05"/><circle cx="519.5" cy="19.2" r="2.05"/><circle cx="529.3" cy="25.7" r="2.05"/><circle cx="520.2" cy="27.3" r="2.05"/><circle cx="526.4" cy="33.5" r="2.05"/><circle cx="523.1" cy="38.5" r="2.05"/></g>
<path d="M399.6,154.1L469.2,89.1L538.7,20.9L538.7,28.1L469.2,91.7L399.6,158.5Z" fill="#b4b4b4" fill-opacity="0.6"/>
<path d="M399.6,156.3L538.7,24.5" stroke="#c4262e" stroke-width="1.1"/>
<text class="ax" text-anchor="end" x="390.4" y="160.7">0.0</text>
<text class="ax" text-anchor="end" x="390.4" y="131.3">0.5</text>
<text class="ax" text-anchor="end" x="390.4" y="101.8">1.0</text>
<text class="ax" text-anchor="end" x="390.4" y="72.4">1.5</text>
<text class="ax" text-anchor="end" x="390.4" y="42.9">2.0</text>
<text class="ax" text-anchor="end" x="390.4" y="13.5">2.5</text>
<text class="ax" text-anchor="middle" x="424.4" y="176.2">0.5</text>
<text class="ax" text-anchor="middle" x="458.6" y="176.2">1.0</text>
<text class="ax" text-anchor="middle" x="492.8" y="176.2">1.5</text>
<text class="ax" text-anchor="middle" x="527.0" y="176.2">2.0</text>
<text class="ti" text-anchor="middle" x="469" y="184.4">Dead grass estimations (Mg/ha)</text>
<text class="ti" style="font-size:8.05px" text-anchor="middle" transform="translate(379.7,86) rotate(-90)">Dead grass measurements (Mg/ha)</text>
<text class="pn" x="393.2" y="15.4">(B)</text>
<text class="an" text-anchor="end" x="537.5" y="139">R<tspan dy="-2.6" style="font-size:5px">2</tspan><tspan dy="2.6"> = 0.83</tspan></text>
<text class="an" text-anchor="end" x="537.5" y="148.8">RMSE = 0.33 Mg ha<tspan dy="-2.6" style="font-size:5px">-1</tspan></text>
<rect x="387.2" y="192.4" width="159.2" height="164.0" fill="#ebebeb"/>
<path d="M392.8,192.4V356.4" stroke="#f1f1f1" stroke-width="0.4"/>
<path d="M444.0,192.4V356.4" stroke="#f1f1f1" stroke-width="0.4"/>
<path d="M495.3,192.4V356.4" stroke="#f1f1f1" stroke-width="0.4"/>
<path d="M546.6,192.4V356.4" stroke="#f1f1f1" stroke-width="0.4"/>
<path d="M387.2,335.6H546.4" stroke="#f1f1f1" stroke-width="0.4"/>
<path d="M387.2,298.0H546.4" stroke="#f1f1f1" stroke-width="0.4"/>
<path d="M387.2,260.4H546.4" stroke="#f1f1f1" stroke-width="0.4"/>
<path d="M387.2,222.8H546.4" stroke="#f1f1f1" stroke-width="0.4"/>
<path d="M418.4,192.4V356.4" stroke="#f6f6f6" stroke-width="0.6"/>
<path d="M469.7,192.4V356.4" stroke="#f6f6f6" stroke-width="0.6"/>
<path d="M521.0,192.4V356.4" stroke="#f6f6f6" stroke-width="0.6"/>
<path d="M387.2,354.4H546.4" stroke="#f6f6f6" stroke-width="0.6"/>
<path d="M387.2,316.8H546.4" stroke="#f6f6f6" stroke-width="0.6"/>
<path d="M387.2,279.2H546.4" stroke="#f6f6f6" stroke-width="0.6"/>
<path d="M387.2,241.6H546.4" stroke="#f6f6f6" stroke-width="0.6"/>
<path d="M387.2,204.0H546.4" stroke="#f6f6f6" stroke-width="0.6"/>
<g fill="#35c878"><circle cx="394.6" cy="348.4" r="2.05"/><circle cx="394.6" cy="337.7" r="2.05"/><circle cx="397.2" cy="335.3" r="2.05"/><circle cx="399.2" cy="333.3" r="2.05"/><circle cx="400.2" cy="335.9" r="2.05"/><circle cx="402.3" cy="333.3" r="2.05"/><circle cx="405.3" cy="334.3" r="2.05"/><circle cx="407.9" cy="327.2" r="2.05"/><circle cx="408.3" cy="333.3" r="2.05"/><circle cx="411.3" cy="320.2" r="2.05"/><circle cx="412.7" cy="332.3" r="2.05"/><circle cx="412.7" cy="334.3" r="2.05"/><circle cx="416.9" cy="322.2" r="2.05"/><circle cx="417.9" cy="333.3" r="2.05"/><circle cx="418.8" cy="326.8" r="2.05"/><circle cx="423.4" cy="318.2" r="2.05"/><circle cx="429.4" cy="316.2" r="2.05"/><circle cx="430.4" cy="313.7" r="2.05"/><circle cx="432.8" cy="310.1" r="2.05"/><circle cx="433.4" cy="318.2" r="2.05"/><circle cx="434.8" cy="302.5" r="2.05"/><circle cx="437.5" cy="297.0" r="2.05"/><circle cx="438.9" cy="296.0" r="2.05"/><circle cx="440.1" cy="291.0" r="2.05"/><circle cx="441.5" cy="305.7" r="2.05"/><circle cx="442.9" cy="315.8" r="2.05"/><circle cx="444.1" cy="314.5" r="2.05"/><circle cx="445.5" cy="302.5" r="2.05"/><circle cx="445.5" cy="328.2" r="2.05"/><circle cx="449.5" cy="301.1" r="2.05"/><circle cx="450.5" cy="303.7" r="2.05"/><circle cx="451.5" cy="293.0" r="2.05"/><circle cx="452.6" cy="296.4" r="2.05"/><circle cx="443.4" cy="287.8" r="2.05"/><circle cx="450.5" cy="286.9" r="2.05"/><circle cx="455.4" cy="287.4" r="2.05"/><circle cx="458.0" cy="283.7" r="2.05"/><circle cx="461.2" cy="286.9" r="2.05"/><circle cx="446.2" cy="272.3" r="2.05"/><circle cx="466.2" cy="282.4" r="2.05"/><circle cx="469.2" cy="287.8" r="2.05"/><circle cx="469.8" cy="279.2" r="2.05"/><circle cx="476.3" cy="279.2" r="2.05"/><circle cx="471.6" cy="268.6" r="2.05"/><circle cx="480.6" cy="270.8" r="2.05"/><circle cx="483.4" cy="267.3" r="2.05"/><circle cx="487.7" cy="266.3" r="2.05"/><circle cx="487.7" cy="271.2" r="2.05"/><circle cx="492.0" cy="271.2" r="2.05"/><circle cx="490.3" cy="290.6" r="2.05"/><circle cx="476.3" cy="256.6" r="2.05"/><circle cx="477.4" cy="256.6" r="2.05"/><circle cx="481.7" cy="249.0" r="2.05"/><circle cx="490.3" cy="255.5" r="2.05"/><circle cx="539.1" cy="199.9" r="2.05"/><circle cx="518.7" cy="207.9" r="2.05"/><circle cx="530.8" cy="215.0" r="2.05"/><circle cx="528.2" cy="222.3" r="2.05"/><circle cx="491.8" cy="238.7" r="2.05"/></g>
<path d="M394.6,341.7L466.7,277.0L538.7,206.0L538.7,219.0L466.7,280.2L394.6,347.7Z" fill="#b4b4b4" fill-opacity="0.6"/>
<path d="M394.6,344.7L538.7,212.5" stroke="#c4262e" stroke-width="1.1"/>
<text class="ax" text-anchor="end" x="385.4" y="356.8">0</text>
<text class="ax" text-anchor="end" x="385.4" y="319.2">1</text>
<text class="ax" text-anchor="end" x="385.4" y="281.6">2</text>
<text class="ax" text-anchor="end" x="385.4" y="244.0">3</text>
<text class="ax" text-anchor="end" x="385.4" y="206.4">4</text>
<text class="ax" text-anchor="middle" x="418.4" y="364.8">1</text>
<text class="ax" text-anchor="middle" x="469.7" y="364.8">2</text>
<text class="ax" text-anchor="middle" x="521.0" y="364.8">3</text>
<text class="ti" text-anchor="middle" x="467" y="373.2">1-h fuel estimations (Mg/ha)</text>
<text class="ti" style="font-size:8.05px" text-anchor="middle" transform="translate(379.2,274) rotate(-90)">1-h fuel measurements (Mg/ha)</text>
<text class="pn" x="393.2" y="204">(D)</text>
<text class="an" text-anchor="end" x="537.6" y="326.6">R<tspan dy="-2.6" style="font-size:5px">2</tspan><tspan dy="2.6"> = 0.59</tspan></text>
<text class="an" text-anchor="end" x="537.6" y="336.8">RMSE = 0.58 Mg ha<tspan dy="-2.6" style="font-size:5px">-1</tspan></text>
</svg></body></html>
